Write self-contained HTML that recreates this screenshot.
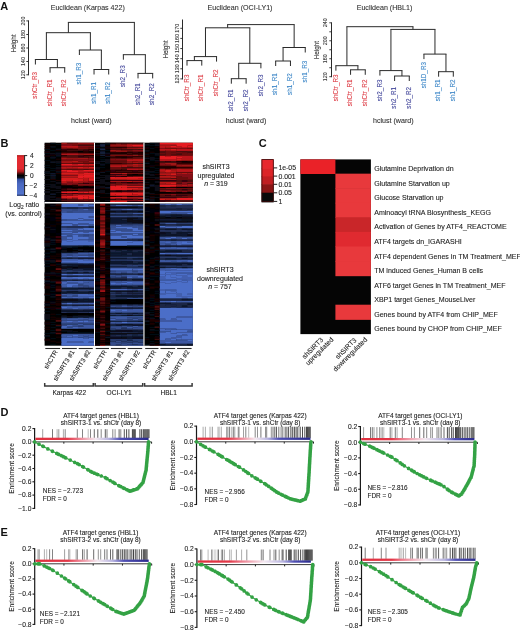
<!DOCTYPE html>
<html><head><meta charset="utf-8"><style>
html,body{margin:0;padding:0;background:#fff;}
svg{display:block;font-family:'Liberation Sans', Arial, Helvetica, sans-serif;}
</style></head><body>
<svg width="520" height="631" viewBox="0 0 520 631" shape-rendering="auto">
<line x1="28.5" y1="20.4" x2="28.5" y2="75.3" stroke="#2a2a2a" stroke-width="1"/>
<line x1="26.3" y1="20.9" x2="28.5" y2="20.9" stroke="#2a2a2a" stroke-width="0.9"/>
<text x="24.7" y="20.9" font-size="5.4" fill="#333" text-anchor="middle" stroke="#333" stroke-width="0.1" transform="rotate(-90 24.7 20.9)">200</text>
<line x1="26.3" y1="34.5" x2="28.5" y2="34.5" stroke="#2a2a2a" stroke-width="0.9"/>
<text x="24.7" y="34.5" font-size="5.4" fill="#333" text-anchor="middle" stroke="#333" stroke-width="0.1" transform="rotate(-90 24.7 34.5)">180</text>
<line x1="26.3" y1="48" x2="28.5" y2="48" stroke="#2a2a2a" stroke-width="0.9"/>
<text x="24.7" y="48" font-size="5.4" fill="#333" text-anchor="middle" stroke="#333" stroke-width="0.1" transform="rotate(-90 24.7 48)">160</text>
<line x1="26.3" y1="61.5" x2="28.5" y2="61.5" stroke="#2a2a2a" stroke-width="0.9"/>
<text x="24.7" y="61.5" font-size="5.4" fill="#333" text-anchor="middle" stroke="#333" stroke-width="0.1" transform="rotate(-90 24.7 61.5)">140</text>
<line x1="26.3" y1="74.8" x2="28.5" y2="74.8" stroke="#2a2a2a" stroke-width="0.9"/>
<text x="24.7" y="74.8" font-size="5.4" fill="#333" text-anchor="middle" stroke="#333" stroke-width="0.1" transform="rotate(-90 24.7 74.8)">120</text>
<text x="15.8" y="43.5" font-size="6.3" fill="#333" text-anchor="middle" stroke="#333" stroke-width="0.1" transform="rotate(-90 15.8 43.5)">Height</text>
<line x1="35.4" y1="59.5" x2="35.4" y2="64.5" stroke="#2a2a2a" stroke-width="1"/>
<text x="37.1" y="72.05" font-size="6.3" fill="#de3e46" text-anchor="end" stroke="#de3e46" stroke-width="0.1" transform="rotate(-90 37.1 72.05)">shCtr_R3</text>
<line x1="50.06" y1="67.7" x2="50.06" y2="72.7" stroke="#2a2a2a" stroke-width="1"/>
<text x="51.76" y="79.55" font-size="6.3" fill="#de3e46" text-anchor="end" stroke="#de3e46" stroke-width="0.1" transform="rotate(-90 51.76 79.55)">shCtr_R1</text>
<line x1="64.72" y1="67.7" x2="64.72" y2="72.7" stroke="#2a2a2a" stroke-width="1"/>
<text x="66.42" y="79.55" font-size="6.3" fill="#de3e46" text-anchor="end" stroke="#de3e46" stroke-width="0.1" transform="rotate(-90 66.42 79.55)">shCtr_R2</text>
<line x1="49.56" y1="67.7" x2="65.22" y2="67.7" stroke="#2a2a2a" stroke-width="1"/>
<line x1="57.39" y1="59.5" x2="57.39" y2="67.7" stroke="#2a2a2a" stroke-width="1"/>
<line x1="34.9" y1="59.5" x2="57.89" y2="59.5" stroke="#2a2a2a" stroke-width="1"/>
<line x1="46.39" y1="32.7" x2="46.39" y2="59.5" stroke="#2a2a2a" stroke-width="1"/>
<line x1="79.38" y1="50" x2="79.38" y2="55" stroke="#2a2a2a" stroke-width="1"/>
<text x="81.08" y="62.8" font-size="6.3" fill="#3f88c8" text-anchor="end" stroke="#3f88c8" stroke-width="0.1" transform="rotate(-90 81.08 62.8)">sh1_R3</text>
<line x1="94.04" y1="69.5" x2="94.04" y2="74.5" stroke="#2a2a2a" stroke-width="1"/>
<text x="95.74" y="82.05" font-size="6.3" fill="#3f88c8" text-anchor="end" stroke="#3f88c8" stroke-width="0.1" transform="rotate(-90 95.74 82.05)">sh1_R1</text>
<line x1="108.7" y1="69.5" x2="108.7" y2="74.5" stroke="#2a2a2a" stroke-width="1"/>
<text x="110.4" y="82.05" font-size="6.3" fill="#3f88c8" text-anchor="end" stroke="#3f88c8" stroke-width="0.1" transform="rotate(-90 110.4 82.05)">sh1_R2</text>
<line x1="93.54" y1="69.5" x2="109.2" y2="69.5" stroke="#2a2a2a" stroke-width="1"/>
<line x1="101.37" y1="50" x2="101.37" y2="69.5" stroke="#2a2a2a" stroke-width="1"/>
<line x1="78.88" y1="50" x2="101.87" y2="50" stroke="#2a2a2a" stroke-width="1"/>
<line x1="90.38" y1="32.7" x2="90.38" y2="50" stroke="#2a2a2a" stroke-width="1"/>
<line x1="45.89" y1="32.7" x2="90.88" y2="32.7" stroke="#2a2a2a" stroke-width="1"/>
<line x1="68.38" y1="22.4" x2="68.38" y2="32.7" stroke="#2a2a2a" stroke-width="1"/>
<line x1="123.36" y1="54.7" x2="123.36" y2="59.7" stroke="#2a2a2a" stroke-width="1"/>
<text x="125.06" y="65.3" font-size="6.3" fill="#44489c" text-anchor="end" stroke="#44489c" stroke-width="0.1" transform="rotate(-90 125.06 65.3)">sh2_R3</text>
<line x1="138.02" y1="73.4" x2="138.02" y2="78.4" stroke="#2a2a2a" stroke-width="1"/>
<text x="139.72" y="83.3" font-size="6.3" fill="#44489c" text-anchor="end" stroke="#44489c" stroke-width="0.1" transform="rotate(-90 139.72 83.3)">sh2_R1</text>
<line x1="152.68" y1="73.4" x2="152.68" y2="78.4" stroke="#2a2a2a" stroke-width="1"/>
<text x="154.38" y="83.3" font-size="6.3" fill="#44489c" text-anchor="end" stroke="#44489c" stroke-width="0.1" transform="rotate(-90 154.38 83.3)">sh2_R2</text>
<line x1="137.52" y1="73.4" x2="153.18" y2="73.4" stroke="#2a2a2a" stroke-width="1"/>
<line x1="145.35" y1="54.7" x2="145.35" y2="73.4" stroke="#2a2a2a" stroke-width="1"/>
<line x1="122.86" y1="54.7" x2="145.85" y2="54.7" stroke="#2a2a2a" stroke-width="1"/>
<line x1="134.36" y1="22.4" x2="134.36" y2="54.7" stroke="#2a2a2a" stroke-width="1"/>
<line x1="67.88" y1="22.4" x2="134.86" y2="22.4" stroke="#2a2a2a" stroke-width="1"/>
<text x="87.75" y="9.6" font-size="7.1" fill="#333" text-anchor="middle" stroke="#333" stroke-width="0.1">Euclidean (Karpas 422)</text>
<text x="91.4" y="122.8" font-size="7.1" fill="#333" text-anchor="middle" stroke="#333" stroke-width="0.1">hclust (ward)</text>
<line x1="182.5" y1="19.5" x2="182.5" y2="79.4" stroke="#2a2a2a" stroke-width="1"/>
<line x1="180.3" y1="78.9" x2="182.5" y2="78.9" stroke="#2a2a2a" stroke-width="0.9"/>
<text x="179" y="78.9" font-size="5.4" fill="#333" text-anchor="middle" stroke="#333" stroke-width="0.1" transform="rotate(-90 179 78.9)">120</text>
<line x1="180.3" y1="68.78" x2="182.5" y2="68.78" stroke="#2a2a2a" stroke-width="0.9"/>
<text x="179" y="68.78" font-size="5.4" fill="#333" text-anchor="middle" stroke="#333" stroke-width="0.1" transform="rotate(-90 179 68.78)">130</text>
<line x1="180.3" y1="58.66" x2="182.5" y2="58.66" stroke="#2a2a2a" stroke-width="0.9"/>
<text x="179" y="58.66" font-size="5.4" fill="#333" text-anchor="middle" stroke="#333" stroke-width="0.1" transform="rotate(-90 179 58.66)">140</text>
<line x1="180.3" y1="48.54" x2="182.5" y2="48.54" stroke="#2a2a2a" stroke-width="0.9"/>
<text x="179" y="48.54" font-size="5.4" fill="#333" text-anchor="middle" stroke="#333" stroke-width="0.1" transform="rotate(-90 179 48.54)">150</text>
<line x1="180.3" y1="38.42" x2="182.5" y2="38.42" stroke="#2a2a2a" stroke-width="0.9"/>
<text x="179" y="38.42" font-size="5.4" fill="#333" text-anchor="middle" stroke="#333" stroke-width="0.1" transform="rotate(-90 179 38.42)">160</text>
<line x1="180.3" y1="28.3" x2="182.5" y2="28.3" stroke="#2a2a2a" stroke-width="0.9"/>
<text x="179" y="28.3" font-size="5.4" fill="#333" text-anchor="middle" stroke="#333" stroke-width="0.1" transform="rotate(-90 179 28.3)">170</text>
<text x="168.4" y="49.5" font-size="6.3" fill="#333" text-anchor="middle" stroke="#333" stroke-width="0.1" transform="rotate(-90 168.4 49.5)">Height</text>
<line x1="187" y1="60.6" x2="187" y2="65.6" stroke="#2a2a2a" stroke-width="1"/>
<text x="188.7" y="74.55" font-size="6.3" fill="#de3e46" text-anchor="end" stroke="#de3e46" stroke-width="0.1" transform="rotate(-90 188.7 74.55)">shCtr_R3</text>
<line x1="201.78" y1="60.6" x2="201.78" y2="65.6" stroke="#2a2a2a" stroke-width="1"/>
<text x="203.48" y="74.55" font-size="6.3" fill="#de3e46" text-anchor="end" stroke="#de3e46" stroke-width="0.1" transform="rotate(-90 203.48 74.55)">shCtr_R1</text>
<line x1="186.5" y1="60.6" x2="202.28" y2="60.6" stroke="#2a2a2a" stroke-width="1"/>
<line x1="194.39" y1="56.6" x2="194.39" y2="60.6" stroke="#2a2a2a" stroke-width="1"/>
<line x1="216.56" y1="56.6" x2="216.56" y2="61.6" stroke="#2a2a2a" stroke-width="1"/>
<text x="218.26" y="69.55" font-size="6.3" fill="#de3e46" text-anchor="end" stroke="#de3e46" stroke-width="0.1" transform="rotate(-90 218.26 69.55)">shCtr_R2</text>
<line x1="193.89" y1="56.6" x2="217.06" y2="56.6" stroke="#2a2a2a" stroke-width="1"/>
<line x1="205.47" y1="27.8" x2="205.47" y2="56.6" stroke="#2a2a2a" stroke-width="1"/>
<line x1="231.34" y1="78.7" x2="231.34" y2="83.7" stroke="#2a2a2a" stroke-width="1"/>
<text x="233.04" y="89.55" font-size="6.3" fill="#44489c" text-anchor="end" stroke="#44489c" stroke-width="0.1" transform="rotate(-90 233.04 89.55)">sh2_R1</text>
<line x1="246.12" y1="78.7" x2="246.12" y2="83.7" stroke="#2a2a2a" stroke-width="1"/>
<text x="247.82" y="89.55" font-size="6.3" fill="#44489c" text-anchor="end" stroke="#44489c" stroke-width="0.1" transform="rotate(-90 247.82 89.55)">sh2_R2</text>
<line x1="230.84" y1="78.7" x2="246.62" y2="78.7" stroke="#2a2a2a" stroke-width="1"/>
<line x1="238.73" y1="63.3" x2="238.73" y2="78.7" stroke="#2a2a2a" stroke-width="1"/>
<line x1="260.9" y1="63.3" x2="260.9" y2="68.3" stroke="#2a2a2a" stroke-width="1"/>
<text x="262.6" y="74.55" font-size="6.3" fill="#44489c" text-anchor="end" stroke="#44489c" stroke-width="0.1" transform="rotate(-90 262.6 74.55)">sh2_R3</text>
<line x1="238.23" y1="63.3" x2="261.4" y2="63.3" stroke="#2a2a2a" stroke-width="1"/>
<line x1="249.81" y1="27.8" x2="249.81" y2="63.3" stroke="#2a2a2a" stroke-width="1"/>
<line x1="204.97" y1="27.8" x2="250.31" y2="27.8" stroke="#2a2a2a" stroke-width="1"/>
<line x1="227.64" y1="24.6" x2="227.64" y2="27.8" stroke="#2a2a2a" stroke-width="1"/>
<line x1="275.68" y1="61" x2="275.68" y2="66" stroke="#2a2a2a" stroke-width="1"/>
<text x="277.38" y="73.3" font-size="6.3" fill="#3f88c8" text-anchor="end" stroke="#3f88c8" stroke-width="0.1" transform="rotate(-90 277.38 73.3)">sh1_R1</text>
<line x1="290.46" y1="61" x2="290.46" y2="66" stroke="#2a2a2a" stroke-width="1"/>
<text x="292.16" y="73.3" font-size="6.3" fill="#3f88c8" text-anchor="end" stroke="#3f88c8" stroke-width="0.1" transform="rotate(-90 292.16 73.3)">sh1_R2</text>
<line x1="275.18" y1="61" x2="290.96" y2="61" stroke="#2a2a2a" stroke-width="1"/>
<line x1="283.07" y1="47.5" x2="283.07" y2="61" stroke="#2a2a2a" stroke-width="1"/>
<line x1="305.24" y1="47.5" x2="305.24" y2="52.5" stroke="#2a2a2a" stroke-width="1"/>
<text x="306.94" y="60.8" font-size="6.3" fill="#3f88c8" text-anchor="end" stroke="#3f88c8" stroke-width="0.1" transform="rotate(-90 306.94 60.8)">sh1_R3</text>
<line x1="282.57" y1="47.5" x2="305.74" y2="47.5" stroke="#2a2a2a" stroke-width="1"/>
<line x1="294.15" y1="24.6" x2="294.15" y2="47.5" stroke="#2a2a2a" stroke-width="1"/>
<line x1="227.14" y1="24.6" x2="294.65" y2="24.6" stroke="#2a2a2a" stroke-width="1"/>
<text x="240" y="9.6" font-size="7.1" fill="#333" text-anchor="middle" stroke="#333" stroke-width="0.1">Euclidean (OCI-LY1)</text>
<text x="246" y="122.8" font-size="7.1" fill="#333" text-anchor="middle" stroke="#333" stroke-width="0.1">hclust (ward)</text>
<line x1="331.5" y1="22.32" x2="331.5" y2="77.2" stroke="#2a2a2a" stroke-width="1"/>
<line x1="329.3" y1="76.7" x2="331.5" y2="76.7" stroke="#2a2a2a" stroke-width="0.9"/>
<text x="326.8" y="76.7" font-size="5.4" fill="#333" text-anchor="middle" stroke="#333" stroke-width="0.1" transform="rotate(-90 326.8 76.7)">120</text>
<line x1="329.3" y1="58.74" x2="331.5" y2="58.74" stroke="#2a2a2a" stroke-width="0.9"/>
<text x="326.8" y="58.74" font-size="5.4" fill="#333" text-anchor="middle" stroke="#333" stroke-width="0.1" transform="rotate(-90 326.8 58.74)">160</text>
<line x1="329.3" y1="40.78" x2="331.5" y2="40.78" stroke="#2a2a2a" stroke-width="0.9"/>
<text x="326.8" y="40.78" font-size="5.4" fill="#333" text-anchor="middle" stroke="#333" stroke-width="0.1" transform="rotate(-90 326.8 40.78)">200</text>
<line x1="329.3" y1="22.82" x2="331.5" y2="22.82" stroke="#2a2a2a" stroke-width="0.9"/>
<text x="326.8" y="22.82" font-size="5.4" fill="#333" text-anchor="middle" stroke="#333" stroke-width="0.1" transform="rotate(-90 326.8 22.82)">240</text>
<line x1="329.3" y1="67.72" x2="331.5" y2="67.72" stroke="#2a2a2a" stroke-width="0.9"/>
<line x1="329.3" y1="49.76" x2="331.5" y2="49.76" stroke="#2a2a2a" stroke-width="0.9"/>
<line x1="329.3" y1="31.8" x2="331.5" y2="31.8" stroke="#2a2a2a" stroke-width="0.9"/>
<text x="319" y="50.2" font-size="6.3" fill="#333" text-anchor="middle" stroke="#333" stroke-width="0.1" transform="rotate(-90 319 50.2)">Height</text>
<line x1="335.9" y1="65.7" x2="335.9" y2="70.7" stroke="#2a2a2a" stroke-width="1"/>
<text x="337.6" y="74.55" font-size="6.3" fill="#de3e46" text-anchor="end" stroke="#de3e46" stroke-width="0.1" transform="rotate(-90 337.6 74.55)">shCtr_R3</text>
<line x1="350.57" y1="69.8" x2="350.57" y2="74.8" stroke="#2a2a2a" stroke-width="1"/>
<text x="352.27" y="79.55" font-size="6.3" fill="#de3e46" text-anchor="end" stroke="#de3e46" stroke-width="0.1" transform="rotate(-90 352.27 79.55)">shCtr_R1</text>
<line x1="365.25" y1="69.8" x2="365.25" y2="74.8" stroke="#2a2a2a" stroke-width="1"/>
<text x="366.95" y="79.55" font-size="6.3" fill="#de3e46" text-anchor="end" stroke="#de3e46" stroke-width="0.1" transform="rotate(-90 366.95 79.55)">shCtr_R2</text>
<line x1="350.07" y1="69.8" x2="365.75" y2="69.8" stroke="#2a2a2a" stroke-width="1"/>
<line x1="357.91" y1="65.7" x2="357.91" y2="69.8" stroke="#2a2a2a" stroke-width="1"/>
<line x1="335.4" y1="65.7" x2="358.41" y2="65.7" stroke="#2a2a2a" stroke-width="1"/>
<line x1="346.91" y1="26.7" x2="346.91" y2="65.7" stroke="#2a2a2a" stroke-width="1"/>
<line x1="379.92" y1="70.6" x2="379.92" y2="75.6" stroke="#2a2a2a" stroke-width="1"/>
<text x="381.62" y="79.55" font-size="6.3" fill="#44489c" text-anchor="end" stroke="#44489c" stroke-width="0.1" transform="rotate(-90 381.62 79.55)">sh2_R3</text>
<line x1="394.6" y1="76" x2="394.6" y2="81" stroke="#2a2a2a" stroke-width="1"/>
<text x="396.3" y="87.05" font-size="6.3" fill="#44489c" text-anchor="end" stroke="#44489c" stroke-width="0.1" transform="rotate(-90 396.3 87.05)">sh2_R1</text>
<line x1="409.27" y1="76" x2="409.27" y2="81" stroke="#2a2a2a" stroke-width="1"/>
<text x="410.97" y="87.05" font-size="6.3" fill="#44489c" text-anchor="end" stroke="#44489c" stroke-width="0.1" transform="rotate(-90 410.97 87.05)">sh2_R2</text>
<line x1="394.1" y1="76" x2="409.77" y2="76" stroke="#2a2a2a" stroke-width="1"/>
<line x1="401.94" y1="70.6" x2="401.94" y2="76" stroke="#2a2a2a" stroke-width="1"/>
<line x1="379.42" y1="70.6" x2="402.44" y2="70.6" stroke="#2a2a2a" stroke-width="1"/>
<line x1="390.93" y1="29.4" x2="390.93" y2="70.6" stroke="#2a2a2a" stroke-width="1"/>
<line x1="423.95" y1="54.1" x2="423.95" y2="59.1" stroke="#2a2a2a" stroke-width="1"/>
<text x="425.65" y="62.05" font-size="6.3" fill="#3f88c8" text-anchor="end" stroke="#3f88c8" stroke-width="0.1" transform="rotate(-90 425.65 62.05)">sh1D_R3</text>
<line x1="438.62" y1="71.7" x2="438.62" y2="76.7" stroke="#2a2a2a" stroke-width="1"/>
<text x="440.32" y="79.55" font-size="6.3" fill="#3f88c8" text-anchor="end" stroke="#3f88c8" stroke-width="0.1" transform="rotate(-90 440.32 79.55)">sh1_R1</text>
<line x1="453.3" y1="71.7" x2="453.3" y2="76.7" stroke="#2a2a2a" stroke-width="1"/>
<text x="455" y="79.55" font-size="6.3" fill="#3f88c8" text-anchor="end" stroke="#3f88c8" stroke-width="0.1" transform="rotate(-90 455 79.55)">sh1_R2</text>
<line x1="438.12" y1="71.7" x2="453.8" y2="71.7" stroke="#2a2a2a" stroke-width="1"/>
<line x1="445.96" y1="54.1" x2="445.96" y2="71.7" stroke="#2a2a2a" stroke-width="1"/>
<line x1="423.45" y1="54.1" x2="446.46" y2="54.1" stroke="#2a2a2a" stroke-width="1"/>
<line x1="434.96" y1="29.4" x2="434.96" y2="54.1" stroke="#2a2a2a" stroke-width="1"/>
<line x1="390.43" y1="29.4" x2="435.46" y2="29.4" stroke="#2a2a2a" stroke-width="1"/>
<line x1="412.94" y1="26.7" x2="412.94" y2="29.4" stroke="#2a2a2a" stroke-width="1"/>
<line x1="346.41" y1="26.7" x2="413.44" y2="26.7" stroke="#2a2a2a" stroke-width="1"/>
<text x="384.5" y="9.6" font-size="7.1" fill="#333" text-anchor="middle" stroke="#333" stroke-width="0.1">Euclidean (HBL1)</text>
<text x="393.3" y="122.8" font-size="7.1" fill="#333" text-anchor="middle" stroke="#333" stroke-width="0.1">hclust (ward)</text>
<text x="0.3" y="9.7" font-size="11" fill="#111" font-weight="bold">A</text>
<text x="0.5" y="147.2" font-size="11" fill="#111" font-weight="bold">B</text>
<defs><linearGradient id="cbB" x1="0" y1="0" x2="0" y2="1">
<stop offset="0" stop-color="#a81818"/><stop offset="0.05" stop-color="#e42a30"/>
<stop offset="0.33" stop-color="#e02a30"/><stop offset="0.40" stop-color="#b01c20"/>
<stop offset="0.46" stop-color="#3a0a0a"/><stop offset="0.50" stop-color="#000"/>
<stop offset="0.55" stop-color="#0a1020"/><stop offset="0.60" stop-color="#3552a4"/>
<stop offset="0.70" stop-color="#4a68c0"/><stop offset="0.95" stop-color="#5474cc"/>
<stop offset="1" stop-color="#203060"/></linearGradient></defs>
<rect x="17" y="155.1" width="7.6" height="40.8" fill="url(#cbB)"/>
<line x1="24.6" y1="155.1" x2="24.6" y2="195.9" stroke="#222" stroke-width="1"/>
<line x1="24.6" y1="155.6" x2="27.2" y2="155.6" stroke="#222" stroke-width="1"/>
<text x="30" y="157.9" font-size="6.6" fill="#222" stroke="#222" stroke-width="0.1">4</text>
<line x1="24.6" y1="165.7" x2="27.2" y2="165.7" stroke="#222" stroke-width="1"/>
<text x="30" y="168" font-size="6.6" fill="#222" stroke="#222" stroke-width="0.1">2</text>
<line x1="24.6" y1="175.6" x2="27.2" y2="175.6" stroke="#222" stroke-width="1"/>
<text x="30" y="177.9" font-size="6.6" fill="#222" stroke="#222" stroke-width="0.1">0</text>
<line x1="24.6" y1="185.6" x2="27.2" y2="185.6" stroke="#222" stroke-width="1"/>
<text x="29.6" y="187.9" font-size="6.6" fill="#222" stroke="#222" stroke-width="0.1">−2</text>
<line x1="24.6" y1="195.5" x2="27.2" y2="195.5" stroke="#222" stroke-width="1"/>
<text x="29.6" y="197.8" font-size="6.6" fill="#222" stroke="#222" stroke-width="0.1">−4</text>
<text x="9.3" y="206.9" font-size="7" fill="#222" stroke="#222" stroke-width="0.1">Log<tspan font-size="4.8" dy="1.6">2</tspan><tspan dy="-1.6"> ratio</tspan></text>
<text x="5.3" y="215.7" font-size="7" fill="#222" stroke="#222" stroke-width="0.1">(vs. control)</text>
<rect x="44.6" y="142.7" width="148.2" height="203" fill="#000"/>
<g filter="url(#hb)">
<path fill="#4c6ec8" d="M61.3 203.5h32.8v1.05h-32.8zM61.3 204.5h16.8v1.05h-16.8zM83.3 204.5h5.4v1.05h-5.4zM61.3 205.5h27.4v1.05h-27.4zM61.3 206.5h32.8v1.05h-32.8zM61.3 208.5h16.8v1.05h-16.8zM61.3 210.5h16.8v1.05h-16.8zM83.3 210.5h10.7v1.05h-10.7zM61.3 212.5h32.8v1.05h-32.8zM61.3 213.5h32.8v1.05h-32.8zM61.3 214.5h32.8v1.05h-32.8zM61.3 215.5h32.8v1.05h-32.8zM61.3 216.5h27.4v1.05h-27.4zM61.3 217.5h32.8v1.05h-32.8zM61.3 218.5h16.8v1.05h-16.8zM83.3 218.5h10.7v1.05h-10.7zM61.3 220.5h32.8v1.05h-32.8zM61.3 221.5h32.8v1.05h-32.8zM61.3 222.5h32.8v1.05h-32.8zM72.4 223.5h5.6v1.05h-5.6zM88.7 223.5h5.4v1.05h-5.4zM78.0 224.5h10.7v1.05h-10.7zM78.0 225.5h16.1v1.05h-16.1zM61.3 227.5h32.8v1.05h-32.8zM83.3 228.5h10.7v1.05h-10.7zM61.3 229.5h16.8v1.05h-16.8zM83.3 229.5h10.7v1.05h-10.7zM61.3 230.5h11.2v1.05h-11.2zM78.0 231.5h5.4v1.05h-5.4zM88.7 231.5h5.4v1.05h-5.4zM72.4 232.5h21.6v1.05h-21.6zM61.3 233.5h32.8v1.05h-32.8zM61.3 236.5h11.2v1.05h-11.2zM78.0 236.5h16.1v1.05h-16.1zM66.9 237.5h5.6v1.05h-5.6zM78.0 237.5h10.7v1.05h-10.7zM61.3 238.5h11.2v1.05h-11.2zM78.0 238.5h16.1v1.05h-16.1zM61.3 240.6h5.6v1.05h-5.6zM72.4 240.6h16.3v1.05h-16.3zM61.3 241.6h32.8v1.05h-32.8zM61.3 242.6h32.8v1.05h-32.8zM61.3 243.6h32.8v1.05h-32.8zM61.3 244.6h32.8v1.05h-32.8zM78.0 259.6h5.4v1.05h-5.4zM61.3 260.6h32.8v1.05h-32.8zM61.3 261.6h32.8v1.05h-32.8zM78.0 262.6h16.1v1.05h-16.1zM61.3 270.6h32.8v1.05h-32.8zM78.0 273.6h5.4v1.05h-5.4zM88.7 273.6h5.4v1.05h-5.4zM78.0 274.6h10.7v1.05h-10.7zM61.3 276.6h5.6v1.05h-5.6zM78.0 276.6h16.1v1.05h-16.1zM61.3 277.6h11.2v1.05h-11.2zM78.0 277.6h16.1v1.05h-16.1zM72.4 278.6h10.9v1.05h-10.9zM88.7 278.6h5.4v1.05h-5.4zM61.3 286.6h5.6v1.05h-5.6zM72.4 286.6h5.6v1.05h-5.6zM83.3 286.6h5.4v1.05h-5.4zM66.9 289.6h27.2v1.05h-27.2zM78.0 296.6h5.4v1.05h-5.4zM88.7 302.6h5.4v1.05h-5.4zM61.3 303.6h5.6v1.05h-5.6zM72.4 303.6h5.6v1.05h-5.6zM61.3 320.7h22.1v1.05h-22.1zM88.7 320.7h5.4v1.05h-5.4zM66.9 321.7h5.6v1.05h-5.6zM78.0 321.7h5.4v1.05h-5.4zM61.3 334.7h5.6v1.05h-5.6zM72.4 334.7h5.6v1.05h-5.6zM83.3 334.7h5.4v1.05h-5.4zM72.4 335.7h5.6v1.05h-5.6zM61.3 337.7h22.1v1.05h-22.1zM88.7 337.7h5.4v1.05h-5.4zM61.3 338.7h32.8v1.05h-32.8zM61.3 339.7h32.8v1.05h-32.8zM61.3 340.7h32.8v1.05h-32.8zM61.3 341.7h5.6v1.05h-5.6zM83.3 341.7h5.4v1.05h-5.4zM61.3 342.7h32.8v1.05h-32.8zM61.3 343.7h32.8v1.05h-32.8zM61.3 344.7h32.8v1.05h-32.8zM110.2 215.5h16.8v1.05h-16.8zM110.2 228.5h16.8v1.05h-16.8zM137.9 228.5h5.5v1.05h-5.5zM115.8 230.5h5.6v1.05h-5.6zM110.2 231.5h33.2v1.05h-33.2zM110.2 232.5h33.2v1.05h-33.2zM121.4 234.5h11.1v1.05h-11.1zM110.2 235.5h33.2v1.05h-33.2zM110.2 236.5h11.2v1.05h-11.2zM127.0 236.5h16.5v1.05h-16.5zM110.2 237.5h33.2v1.05h-33.2zM110.2 238.5h16.8v1.05h-16.8zM110.2 240.6h16.8v1.05h-16.8zM110.2 241.6h16.8v1.05h-16.8zM132.5 241.6h11.0v1.05h-11.0zM110.2 242.6h33.2v1.05h-33.2zM110.2 243.6h33.2v1.05h-33.2zM110.2 244.6h33.2v1.05h-33.2zM127.0 256.6h16.5v1.05h-16.5zM137.9 259.6h5.5v1.05h-5.5zM110.2 268.6h16.8v1.05h-16.8zM110.2 269.6h16.8v1.05h-16.8zM121.4 271.6h5.6v1.05h-5.6zM110.2 282.6h16.8v1.05h-16.8zM132.5 282.6h11.0v1.05h-11.0zM110.2 283.6h5.6v1.05h-5.6zM121.4 283.6h11.1v1.05h-11.1zM110.2 309.6h5.6v1.05h-5.6zM121.4 309.6h5.6v1.05h-5.6zM110.2 310.7h33.2v1.05h-33.2zM110.2 322.7h5.6v1.05h-5.6zM181.9 206.5h11.0v1.05h-11.0zM159.7 210.5h33.2v1.05h-33.2zM159.7 211.5h33.2v1.05h-33.2zM159.7 212.5h11.2v1.05h-11.2zM176.4 225.5h5.5v1.05h-5.5zM159.7 230.5h33.2v1.05h-33.2zM170.8 236.5h5.6v1.05h-5.6zM159.7 237.5h16.8v1.05h-16.8zM187.3 237.5h5.5v1.05h-5.5zM165.3 238.5h5.6v1.05h-5.6zM165.3 240.6h27.6v1.05h-27.6zM159.7 252.6h33.2v1.05h-33.2zM159.7 253.6h5.6v1.05h-5.6zM176.4 253.6h16.5v1.05h-16.5zM159.7 270.6h33.2v1.05h-33.2zM159.7 271.6h33.2v1.05h-33.2zM159.7 272.6h5.6v1.05h-5.6zM159.7 273.6h5.6v1.05h-5.6zM170.8 273.6h16.6v1.05h-16.6zM165.3 274.6h5.6v1.05h-5.6zM176.4 274.6h16.5v1.05h-16.5zM165.3 275.6h5.6v1.05h-5.6zM187.3 275.6h5.5v1.05h-5.5zM159.7 276.6h11.2v1.05h-11.2zM181.9 276.6h11.0v1.05h-11.0zM165.3 277.6h11.2v1.05h-11.2zM159.7 278.6h33.2v1.05h-33.2zM187.3 280.6h5.5v1.05h-5.5zM176.4 281.6h5.5v1.05h-5.5zM187.3 281.6h5.5v1.05h-5.5zM159.7 282.6h5.6v1.05h-5.6zM170.8 282.6h22.0v1.05h-22.0zM159.7 283.6h33.2v1.05h-33.2zM159.7 284.6h33.2v1.05h-33.2zM159.7 285.6h33.2v1.05h-33.2zM159.7 286.6h33.2v1.05h-33.2zM159.7 287.6h33.2v1.05h-33.2zM159.7 288.6h33.2v1.05h-33.2zM176.4 289.6h16.5v1.05h-16.5zM159.7 290.6h5.6v1.05h-5.6zM170.8 290.6h22.0v1.05h-22.0zM159.7 291.6h5.6v1.05h-5.6zM176.4 291.6h16.5v1.05h-16.5zM159.7 292.6h5.6v1.05h-5.6zM176.4 292.6h16.5v1.05h-16.5zM165.3 293.6h11.2v1.05h-11.2zM181.9 293.6h5.5v1.05h-5.5zM159.7 294.6h33.2v1.05h-33.2zM159.7 295.6h16.8v1.05h-16.8zM181.9 295.6h11.0v1.05h-11.0zM159.7 296.6h22.2v1.05h-22.2zM159.7 297.6h27.7v1.05h-27.7zM165.3 300.6h11.2v1.05h-11.2zM159.7 301.6h5.6v1.05h-5.6zM170.8 301.6h5.6v1.05h-5.6zM159.7 307.6h33.2v1.05h-33.2zM159.7 308.6h33.2v1.05h-33.2zM159.7 309.6h33.2v1.05h-33.2zM159.7 310.7h33.2v1.05h-33.2zM159.7 311.7h33.2v1.05h-33.2zM159.7 312.7h33.2v1.05h-33.2zM159.7 313.7h33.2v1.05h-33.2zM159.7 314.7h33.2v1.05h-33.2zM159.7 315.7h33.2v1.05h-33.2zM159.7 316.7h16.8v1.05h-16.8zM159.7 317.7h33.2v1.05h-33.2zM165.3 318.7h5.6v1.05h-5.6zM176.4 318.7h16.5v1.05h-16.5zM159.7 319.7h33.2v1.05h-33.2zM181.9 320.7h11.0v1.05h-11.0zM159.7 321.7h33.2v1.05h-33.2zM159.7 322.7h33.2v1.05h-33.2zM159.7 323.7h33.2v1.05h-33.2zM159.7 324.7h33.2v1.05h-33.2zM159.7 325.7h33.2v1.05h-33.2zM159.7 326.7h33.2v1.05h-33.2zM159.7 327.7h33.2v1.05h-33.2zM176.4 328.7h16.5v1.05h-16.5zM165.3 331.7h5.6v1.05h-5.6zM159.7 332.7h11.2v1.05h-11.2zM176.4 332.7h16.5v1.05h-16.5zM159.7 333.7h33.2v1.05h-33.2zM159.7 334.7h22.2v1.05h-22.2zM187.3 334.7h5.5v1.05h-5.5zM159.7 335.7h16.8v1.05h-16.8zM181.9 335.7h11.0v1.05h-11.0zM159.7 336.7h33.2v1.05h-33.2zM159.7 337.7h11.2v1.05h-11.2zM181.9 337.7h11.0v1.05h-11.0zM159.7 338.7h5.6v1.05h-5.6zM170.8 338.7h5.6v1.05h-5.6zM181.9 338.7h11.0v1.05h-11.0zM159.7 339.7h16.8v1.05h-16.8zM159.7 341.7h33.2v1.05h-33.2zM165.3 342.7h5.6v1.05h-5.6z"/>
<path fill="#4c6ec8" d="M78.0 204.5h5.4v1.05h-5.4zM88.7 204.5h5.4v1.05h-5.4zM88.7 205.5h5.4v1.05h-5.4zM78.0 208.5h5.4v1.05h-5.4zM88.7 208.5h5.4v1.05h-5.4zM78.0 210.5h5.4v1.05h-5.4zM61.3 211.5h5.6v1.05h-5.6zM88.7 216.5h5.4v1.05h-5.4zM78.0 218.5h5.4v1.05h-5.4zM66.9 219.5h27.2v1.05h-27.2zM61.3 223.5h11.2v1.05h-11.2zM78.0 223.5h10.7v1.05h-10.7zM61.3 224.5h11.2v1.05h-11.2zM88.7 224.5h5.4v1.05h-5.4zM61.3 225.5h16.8v1.05h-16.8zM61.3 228.5h5.6v1.05h-5.6zM78.0 228.5h5.4v1.05h-5.4zM78.0 229.5h5.4v1.05h-5.4zM72.4 230.5h5.6v1.05h-5.6zM61.3 231.5h11.2v1.05h-11.2zM83.3 231.5h5.4v1.05h-5.4zM61.3 232.5h11.2v1.05h-11.2zM61.3 234.5h16.8v1.05h-16.8zM61.3 235.5h5.6v1.05h-5.6zM72.4 235.5h10.9v1.05h-10.9zM88.7 235.5h5.4v1.05h-5.4zM72.4 236.5h5.6v1.05h-5.6zM61.3 237.5h5.6v1.05h-5.6zM72.4 237.5h5.6v1.05h-5.6zM88.7 237.5h5.4v1.05h-5.4zM72.4 238.5h5.6v1.05h-5.6zM61.3 239.6h27.4v1.05h-27.4zM66.9 240.6h5.6v1.05h-5.6zM88.7 240.6h5.4v1.05h-5.4zM88.7 252.6h5.4v1.05h-5.4zM78.0 253.6h10.7v1.05h-10.7zM72.4 255.6h16.3v1.05h-16.3zM61.3 256.6h5.6v1.05h-5.6zM78.0 256.6h16.1v1.05h-16.1zM61.3 259.6h16.8v1.05h-16.8zM83.3 259.6h10.7v1.05h-10.7zM61.3 273.6h5.6v1.05h-5.6zM72.4 273.6h5.6v1.05h-5.6zM83.3 273.6h5.4v1.05h-5.4zM61.3 274.6h16.8v1.05h-16.8zM88.7 274.6h5.4v1.05h-5.4zM66.9 276.6h11.2v1.05h-11.2zM72.4 277.6h5.6v1.05h-5.6zM61.3 278.6h11.2v1.05h-11.2zM83.3 278.6h5.4v1.05h-5.4zM83.3 280.6h10.7v1.05h-10.7zM66.9 283.6h11.2v1.05h-11.2zM61.3 284.6h16.8v1.05h-16.8zM66.9 285.6h5.6v1.05h-5.6zM66.9 286.6h5.6v1.05h-5.6zM78.0 286.6h5.4v1.05h-5.4zM88.7 286.6h5.4v1.05h-5.4zM61.3 289.6h5.6v1.05h-5.6zM88.7 293.6h5.4v1.05h-5.4zM83.3 296.6h10.7v1.05h-10.7zM66.9 297.6h5.6v1.05h-5.6zM78.0 297.6h5.4v1.05h-5.4zM88.7 297.6h5.4v1.05h-5.4zM66.9 302.6h5.6v1.05h-5.6zM83.3 302.6h5.4v1.05h-5.4zM66.9 303.6h5.6v1.05h-5.6zM78.0 303.6h5.4v1.05h-5.4zM88.7 303.6h5.4v1.05h-5.4zM61.3 306.6h27.4v1.05h-27.4zM61.3 307.6h5.6v1.05h-5.6zM88.7 307.6h5.4v1.05h-5.4zM78.0 317.7h10.7v1.05h-10.7zM83.3 320.7h5.4v1.05h-5.4zM61.3 321.7h5.6v1.05h-5.6zM72.4 321.7h5.6v1.05h-5.6zM83.3 321.7h10.7v1.05h-10.7zM66.9 334.7h5.6v1.05h-5.6zM78.0 334.7h5.4v1.05h-5.4zM88.7 334.7h5.4v1.05h-5.4zM61.3 335.7h5.6v1.05h-5.6zM72.4 336.7h5.6v1.05h-5.6zM83.3 337.7h5.4v1.05h-5.4zM66.9 341.7h16.5v1.05h-16.5zM88.7 341.7h5.4v1.05h-5.4zM132.5 209.5h11.0v1.05h-11.0zM115.8 213.5h11.3v1.05h-11.3zM127.0 215.5h16.5v1.05h-16.5zM110.2 225.5h5.6v1.05h-5.6zM132.5 225.5h5.5v1.05h-5.5zM115.8 226.5h16.7v1.05h-16.7zM137.9 226.5h5.5v1.05h-5.5zM110.2 227.5h27.8v1.05h-27.8zM127.0 228.5h11.0v1.05h-11.0zM110.2 229.5h5.6v1.05h-5.6zM132.5 229.5h11.0v1.05h-11.0zM110.2 230.5h5.6v1.05h-5.6zM121.4 230.5h22.1v1.05h-22.1zM132.5 233.5h5.5v1.05h-5.5zM110.2 234.5h11.2v1.05h-11.2zM132.5 234.5h11.0v1.05h-11.0zM121.4 236.5h5.6v1.05h-5.6zM127.0 238.5h5.5v1.05h-5.5zM127.0 240.6h16.5v1.05h-16.5zM127.0 241.6h5.5v1.05h-5.5zM110.2 259.6h5.6v1.05h-5.6zM127.0 259.6h11.0v1.05h-11.0zM132.5 264.6h11.0v1.05h-11.0zM110.2 267.6h16.8v1.05h-16.8zM127.0 268.6h5.5v1.05h-5.5zM137.9 268.6h5.5v1.05h-5.5zM127.0 269.6h5.5v1.05h-5.5zM137.9 269.6h5.5v1.05h-5.5zM110.2 271.6h11.2v1.05h-11.2zM115.8 275.6h5.6v1.05h-5.6zM127.0 275.6h16.5v1.05h-16.5zM137.9 276.6h5.5v1.05h-5.5zM127.0 281.6h16.5v1.05h-16.5zM127.0 282.6h5.5v1.05h-5.5zM115.8 283.6h5.6v1.05h-5.6zM132.5 283.6h11.0v1.05h-11.0zM115.8 309.6h5.6v1.05h-5.6zM127.0 309.6h16.5v1.05h-16.5zM110.2 311.7h5.6v1.05h-5.6zM121.4 311.7h5.6v1.05h-5.6zM110.2 321.7h5.6v1.05h-5.6zM121.4 321.7h22.1v1.05h-22.1zM115.8 322.7h11.3v1.05h-11.3zM132.5 342.7h5.5v1.05h-5.5zM159.7 203.5h5.6v1.05h-5.6zM176.4 203.5h5.5v1.05h-5.5zM187.3 203.5h5.5v1.05h-5.5zM170.8 204.5h16.6v1.05h-16.6zM165.3 206.5h16.7v1.05h-16.7zM170.8 212.5h22.0v1.05h-22.0zM187.3 213.5h5.5v1.05h-5.5zM159.7 225.5h16.8v1.05h-16.8zM181.9 225.5h11.0v1.05h-11.0zM159.7 226.5h5.6v1.05h-5.6zM176.4 226.5h16.5v1.05h-16.5zM176.4 227.5h16.5v1.05h-16.5zM159.7 236.5h11.2v1.05h-11.2zM176.4 236.5h5.5v1.05h-5.5zM187.3 236.5h5.5v1.05h-5.5zM181.9 237.5h5.5v1.05h-5.5zM159.7 238.5h5.6v1.05h-5.6zM176.4 238.5h11.0v1.05h-11.0zM159.7 240.6h5.6v1.05h-5.6zM181.9 241.6h5.5v1.05h-5.5zM159.7 242.6h5.6v1.05h-5.6zM181.9 242.6h11.0v1.05h-11.0zM181.9 243.6h11.0v1.05h-11.0zM165.3 247.6h11.2v1.05h-11.2zM187.3 248.6h5.5v1.05h-5.5zM165.3 253.6h11.2v1.05h-11.2zM181.9 256.6h5.5v1.05h-5.5zM181.9 259.6h5.5v1.05h-5.5zM176.4 260.6h5.5v1.05h-5.5zM165.3 265.6h5.6v1.05h-5.6zM176.4 265.6h16.5v1.05h-16.5zM165.3 268.6h5.6v1.05h-5.6zM176.4 268.6h16.5v1.05h-16.5zM159.7 269.6h5.6v1.05h-5.6zM170.8 269.6h22.0v1.05h-22.0zM165.3 272.6h11.2v1.05h-11.2zM165.3 273.6h5.6v1.05h-5.6zM187.3 273.6h5.5v1.05h-5.5zM159.7 274.6h5.6v1.05h-5.6zM170.8 274.6h5.6v1.05h-5.6zM159.7 275.6h5.6v1.05h-5.6zM170.8 275.6h16.6v1.05h-16.6zM170.8 276.6h11.1v1.05h-11.1zM159.7 277.6h5.6v1.05h-5.6zM176.4 277.6h16.5v1.05h-16.5zM176.4 279.6h5.5v1.05h-5.5zM187.3 279.6h5.5v1.05h-5.5zM159.7 280.6h27.7v1.05h-27.7zM159.7 281.6h16.8v1.05h-16.8zM181.9 281.6h5.5v1.05h-5.5zM165.3 282.6h5.6v1.05h-5.6zM159.7 289.6h5.6v1.05h-5.6zM165.3 290.6h5.6v1.05h-5.6zM165.3 291.6h11.2v1.05h-11.2zM165.3 292.6h11.2v1.05h-11.2zM159.7 293.6h5.6v1.05h-5.6zM176.4 293.6h5.5v1.05h-5.5zM187.3 293.6h5.5v1.05h-5.5zM176.4 295.6h5.5v1.05h-5.5zM181.9 296.6h11.0v1.05h-11.0zM187.3 297.6h5.5v1.05h-5.5zM159.7 300.6h5.6v1.05h-5.6zM181.9 300.6h11.0v1.05h-11.0zM165.3 301.6h5.6v1.05h-5.6zM176.4 301.6h5.5v1.05h-5.5zM176.4 316.7h16.5v1.05h-16.5zM159.7 318.7h5.6v1.05h-5.6zM170.8 318.7h5.6v1.05h-5.6zM159.7 320.7h22.2v1.05h-22.2zM165.3 328.7h5.6v1.05h-5.6zM170.8 329.7h22.0v1.05h-22.0zM170.8 330.7h16.6v1.05h-16.6zM159.7 331.7h5.6v1.05h-5.6zM170.8 331.7h22.0v1.05h-22.0zM170.8 332.7h5.6v1.05h-5.6zM181.9 334.7h5.5v1.05h-5.5zM176.4 335.7h5.5v1.05h-5.5zM170.8 337.7h11.1v1.05h-11.1zM165.3 338.7h5.6v1.05h-5.6zM176.4 338.7h5.5v1.05h-5.5zM187.3 339.7h5.5v1.05h-5.5zM159.7 340.7h33.2v1.05h-33.2zM159.7 342.7h5.6v1.05h-5.6zM170.8 342.7h22.0v1.05h-22.0z"/>
<path fill="#4665b8" d="M83.3 208.5h5.4v1.05h-5.4zM61.3 209.5h11.2v1.05h-11.2zM78.0 209.5h10.7v1.05h-10.7zM72.4 211.5h21.6v1.05h-21.6zM61.3 219.5h5.6v1.05h-5.6zM72.4 224.5h5.6v1.05h-5.6zM66.9 228.5h11.2v1.05h-11.2zM78.0 230.5h16.1v1.05h-16.1zM72.4 231.5h5.6v1.05h-5.6zM78.0 234.5h5.4v1.05h-5.4zM88.7 234.5h5.4v1.05h-5.4zM66.9 235.5h5.6v1.05h-5.6zM83.3 235.5h5.4v1.05h-5.4zM88.7 239.6h5.4v1.05h-5.4zM78.0 252.6h10.7v1.05h-10.7zM61.3 253.6h5.6v1.05h-5.6zM72.4 253.6h5.6v1.05h-5.6zM61.3 255.6h11.2v1.05h-11.2zM88.7 255.6h5.4v1.05h-5.4zM66.9 256.6h11.2v1.05h-11.2zM61.3 258.6h16.8v1.05h-16.8zM83.3 258.6h5.4v1.05h-5.4zM61.3 262.6h16.8v1.05h-16.8zM66.9 273.6h5.6v1.05h-5.6zM66.9 280.6h16.5v1.05h-16.5zM61.3 281.6h27.4v1.05h-27.4zM61.3 282.6h5.6v1.05h-5.6zM78.0 282.6h5.4v1.05h-5.4zM61.3 283.6h5.6v1.05h-5.6zM61.3 285.6h5.6v1.05h-5.6zM72.4 285.6h5.6v1.05h-5.6zM66.9 293.6h21.8v1.05h-21.8zM78.0 294.6h16.1v1.05h-16.1zM78.0 295.6h16.1v1.05h-16.1zM61.3 296.6h16.8v1.05h-16.8zM61.3 297.6h5.6v1.05h-5.6zM72.4 297.6h5.6v1.05h-5.6zM83.3 297.6h5.4v1.05h-5.4zM61.3 302.6h5.6v1.05h-5.6zM72.4 302.6h10.9v1.05h-10.9zM83.3 303.6h5.4v1.05h-5.4zM61.3 305.6h11.2v1.05h-11.2zM78.0 305.6h16.1v1.05h-16.1zM88.7 306.6h5.4v1.05h-5.4zM66.9 307.6h21.8v1.05h-21.8zM72.4 308.6h5.6v1.05h-5.6zM66.9 317.7h11.2v1.05h-11.2zM88.7 317.7h5.4v1.05h-5.4zM61.3 318.7h5.6v1.05h-5.6zM78.0 318.7h5.4v1.05h-5.4zM83.3 319.7h5.4v1.05h-5.4zM66.9 324.7h11.2v1.05h-11.2zM61.3 325.7h11.2v1.05h-11.2zM61.3 326.7h5.6v1.05h-5.6zM72.4 326.7h5.6v1.05h-5.6zM61.3 327.7h16.8v1.05h-16.8zM61.3 333.7h32.8v1.05h-32.8zM66.9 335.7h5.6v1.05h-5.6zM61.3 336.7h11.2v1.05h-11.2zM83.3 336.7h5.4v1.05h-5.4zM115.8 204.5h11.3v1.05h-11.3zM132.5 204.5h5.5v1.05h-5.5zM110.2 205.5h16.8v1.05h-16.8zM127.0 208.5h11.0v1.05h-11.0zM110.2 209.5h11.2v1.05h-11.2zM127.0 209.5h5.5v1.05h-5.5zM110.2 213.5h5.6v1.05h-5.6zM127.0 213.5h5.5v1.05h-5.5zM115.8 224.5h5.6v1.05h-5.6zM115.8 225.5h16.7v1.05h-16.7zM137.9 225.5h5.5v1.05h-5.5zM110.2 226.5h5.6v1.05h-5.6zM132.5 226.5h5.5v1.05h-5.5zM137.9 227.5h5.5v1.05h-5.5zM115.8 229.5h16.7v1.05h-16.7zM110.2 233.5h22.3v1.05h-22.3zM137.9 233.5h5.5v1.05h-5.5zM132.5 238.5h11.0v1.05h-11.0zM110.2 256.6h16.8v1.05h-16.8zM115.8 259.6h11.3v1.05h-11.3zM110.2 264.6h22.3v1.05h-22.3zM127.0 267.6h5.5v1.05h-5.5zM132.5 268.6h5.5v1.05h-5.5zM132.5 269.6h5.5v1.05h-5.5zM132.5 272.6h5.5v1.05h-5.5zM127.0 274.6h11.0v1.05h-11.0zM110.2 275.6h5.6v1.05h-5.6zM121.4 275.6h5.6v1.05h-5.6zM127.0 276.6h5.5v1.05h-5.5zM127.0 277.6h16.5v1.05h-16.5zM115.8 280.6h5.6v1.05h-5.6zM110.2 281.6h5.6v1.05h-5.6zM110.2 284.6h11.2v1.05h-11.2zM110.2 288.6h22.3v1.05h-22.3zM110.2 289.6h16.8v1.05h-16.8zM110.2 293.6h5.6v1.05h-5.6zM121.4 293.6h5.6v1.05h-5.6zM110.2 297.6h33.2v1.05h-33.2zM110.2 308.6h16.8v1.05h-16.8zM132.5 308.6h11.0v1.05h-11.0zM115.8 311.7h5.6v1.05h-5.6zM127.0 311.7h16.5v1.05h-16.5zM110.2 315.7h33.2v1.05h-33.2zM110.2 318.7h5.6v1.05h-5.6zM110.2 319.7h16.8v1.05h-16.8zM115.8 321.7h5.6v1.05h-5.6zM127.0 322.7h16.5v1.05h-16.5zM121.4 325.7h5.6v1.05h-5.6zM110.2 342.7h11.2v1.05h-11.2zM127.0 342.7h5.5v1.05h-5.5zM137.9 342.7h5.5v1.05h-5.5zM165.3 203.5h11.2v1.05h-11.2zM181.9 203.5h5.5v1.05h-5.5zM159.7 204.5h11.2v1.05h-11.2zM187.3 204.5h5.5v1.05h-5.5zM159.7 206.5h5.6v1.05h-5.6zM159.7 213.5h11.2v1.05h-11.2zM176.4 213.5h11.0v1.05h-11.0zM165.3 226.5h11.2v1.05h-11.2zM159.7 227.5h16.8v1.05h-16.8zM181.9 236.5h5.5v1.05h-5.5zM176.4 237.5h5.5v1.05h-5.5zM170.8 238.5h5.6v1.05h-5.6zM187.3 238.5h5.5v1.05h-5.5zM159.7 241.6h11.2v1.05h-11.2zM176.4 241.6h5.5v1.05h-5.5zM187.3 241.6h5.5v1.05h-5.5zM165.3 242.6h16.7v1.05h-16.7zM176.4 243.6h5.5v1.05h-5.5zM176.4 244.6h5.5v1.05h-5.5zM170.8 246.6h5.6v1.05h-5.6zM159.7 247.6h5.6v1.05h-5.6zM176.4 247.6h16.5v1.05h-16.5zM159.7 248.6h27.7v1.05h-27.7zM159.7 256.6h22.2v1.05h-22.2zM187.3 256.6h5.5v1.05h-5.5zM165.3 259.6h16.7v1.05h-16.7zM187.3 259.6h5.5v1.05h-5.5zM181.9 260.6h11.0v1.05h-11.0zM170.8 261.6h11.1v1.05h-11.1zM187.3 261.6h5.5v1.05h-5.5zM159.7 265.6h5.6v1.05h-5.6zM170.8 265.6h5.6v1.05h-5.6zM165.3 267.6h16.7v1.05h-16.7zM187.3 267.6h5.5v1.05h-5.5zM159.7 268.6h5.6v1.05h-5.6zM170.8 268.6h5.6v1.05h-5.6zM165.3 269.6h5.6v1.05h-5.6zM176.4 272.6h16.5v1.05h-16.5zM159.7 279.6h16.8v1.05h-16.8zM181.9 279.6h5.5v1.05h-5.5zM165.3 289.6h11.2v1.05h-11.2zM176.4 300.6h5.5v1.05h-5.5zM181.9 301.6h11.0v1.05h-11.0zM159.7 328.7h5.6v1.05h-5.6zM170.8 328.7h5.6v1.05h-5.6zM159.7 329.7h11.2v1.05h-11.2zM159.7 330.7h11.2v1.05h-11.2zM187.3 330.7h5.5v1.05h-5.5zM176.4 339.7h11.0v1.05h-11.0z"/>
<path fill="#3d58a1" d="M72.4 209.5h5.6v1.05h-5.6zM88.7 209.5h5.4v1.05h-5.4zM66.9 211.5h5.6v1.05h-5.6zM83.3 234.5h5.4v1.05h-5.4zM66.9 253.6h5.6v1.05h-5.6zM88.7 253.6h5.4v1.05h-5.4zM61.3 254.6h5.6v1.05h-5.6zM72.4 254.6h5.6v1.05h-5.6zM78.0 258.6h5.4v1.05h-5.4zM88.7 258.6h5.4v1.05h-5.4zM61.3 280.6h5.6v1.05h-5.6zM88.7 281.6h5.4v1.05h-5.4zM66.9 282.6h11.2v1.05h-11.2zM83.3 282.6h10.7v1.05h-10.7zM78.0 283.6h16.1v1.05h-16.1zM83.3 284.6h10.7v1.05h-10.7zM78.0 285.6h5.4v1.05h-5.4zM88.7 285.6h5.4v1.05h-5.4zM61.3 293.6h5.6v1.05h-5.6zM61.3 294.6h16.8v1.05h-16.8zM66.9 295.6h5.6v1.05h-5.6zM72.4 305.6h5.6v1.05h-5.6zM61.3 308.6h11.2v1.05h-11.2zM78.0 308.6h16.1v1.05h-16.1zM61.3 317.7h5.6v1.05h-5.6zM66.9 318.7h11.2v1.05h-11.2zM83.3 318.7h10.7v1.05h-10.7zM61.3 319.7h22.1v1.05h-22.1zM88.7 319.7h5.4v1.05h-5.4zM61.3 322.7h16.8v1.05h-16.8zM83.3 322.7h10.7v1.05h-10.7zM78.0 323.7h5.4v1.05h-5.4zM61.3 324.7h5.6v1.05h-5.6zM78.0 324.7h16.1v1.05h-16.1zM72.4 325.7h5.6v1.05h-5.6zM83.3 325.7h10.7v1.05h-10.7zM66.9 326.7h5.6v1.05h-5.6zM78.0 326.7h16.1v1.05h-16.1zM78.0 327.7h16.1v1.05h-16.1zM78.0 335.7h16.1v1.05h-16.1zM78.0 336.7h5.4v1.05h-5.4zM88.7 336.7h5.4v1.05h-5.4zM110.2 204.5h5.6v1.05h-5.6zM127.0 204.5h5.5v1.05h-5.5zM137.9 204.5h5.5v1.05h-5.5zM127.0 205.5h16.5v1.05h-16.5zM110.2 208.5h16.8v1.05h-16.8zM137.9 208.5h5.5v1.05h-5.5zM121.4 209.5h5.6v1.05h-5.6zM110.2 212.5h5.6v1.05h-5.6zM132.5 212.5h11.0v1.05h-11.0zM132.5 213.5h11.0v1.05h-11.0zM110.2 216.5h16.8v1.05h-16.8zM132.5 216.5h11.0v1.05h-11.0zM110.2 224.5h5.6v1.05h-5.6zM121.4 224.5h22.1v1.05h-22.1zM132.5 267.6h11.0v1.05h-11.0zM115.8 270.6h16.7v1.05h-16.7zM137.9 270.6h5.5v1.05h-5.5zM127.0 271.6h16.5v1.05h-16.5zM115.8 272.6h5.6v1.05h-5.6zM127.0 272.6h5.5v1.05h-5.5zM137.9 272.6h5.5v1.05h-5.5zM110.2 274.6h5.6v1.05h-5.6zM121.4 274.6h5.6v1.05h-5.6zM137.9 274.6h5.5v1.05h-5.5zM132.5 276.6h5.5v1.05h-5.5zM110.2 280.6h5.6v1.05h-5.6zM121.4 280.6h22.1v1.05h-22.1zM115.8 281.6h11.3v1.05h-11.3zM121.4 284.6h22.1v1.05h-22.1zM132.5 288.6h11.0v1.05h-11.0zM127.0 289.6h5.5v1.05h-5.5zM137.9 289.6h5.5v1.05h-5.5zM110.2 291.6h5.6v1.05h-5.6zM121.4 291.6h5.6v1.05h-5.6zM115.8 293.6h5.6v1.05h-5.6zM127.0 293.6h5.5v1.05h-5.5zM137.9 293.6h5.5v1.05h-5.5zM121.4 305.6h5.6v1.05h-5.6zM115.8 306.6h11.3v1.05h-11.3zM132.5 306.6h5.5v1.05h-5.5zM127.0 308.6h5.5v1.05h-5.5zM110.2 313.7h16.8v1.05h-16.8zM132.5 313.7h5.5v1.05h-5.5zM110.2 316.7h33.2v1.05h-33.2zM110.2 317.7h16.8v1.05h-16.8zM115.8 318.7h11.3v1.05h-11.3zM132.5 318.7h5.5v1.05h-5.5zM127.0 319.7h16.5v1.05h-16.5zM110.2 325.7h11.2v1.05h-11.2zM132.5 325.7h11.0v1.05h-11.0zM127.0 326.7h11.0v1.05h-11.0zM127.0 327.7h5.5v1.05h-5.5zM110.2 328.7h5.6v1.05h-5.6zM110.2 341.7h5.6v1.05h-5.6zM121.4 342.7h5.6v1.05h-5.6zM127.0 344.7h16.5v1.05h-16.5zM170.8 213.5h5.6v1.05h-5.6zM159.7 222.5h16.8v1.05h-16.8zM165.3 223.5h27.6v1.05h-27.6zM170.8 241.6h5.6v1.05h-5.6zM159.7 243.6h16.8v1.05h-16.8zM159.7 244.6h5.6v1.05h-5.6zM170.8 244.6h5.6v1.05h-5.6zM181.9 244.6h11.0v1.05h-11.0zM159.7 246.6h11.2v1.05h-11.2zM176.4 246.6h11.0v1.05h-11.0zM159.7 259.6h5.6v1.05h-5.6zM159.7 260.6h16.8v1.05h-16.8zM159.7 261.6h11.2v1.05h-11.2zM181.9 261.6h5.5v1.05h-5.5zM159.7 267.6h5.6v1.05h-5.6zM181.9 267.6h5.5v1.05h-5.5z"/>
<path fill="#344c8a" d="M61.3 252.6h16.8v1.05h-16.8zM66.9 254.6h5.6v1.05h-5.6zM78.0 254.6h16.1v1.05h-16.1zM78.0 284.6h5.4v1.05h-5.4zM83.3 285.6h5.4v1.05h-5.4zM61.3 295.6h5.6v1.05h-5.6zM72.4 295.6h5.6v1.05h-5.6zM88.7 311.7h5.4v1.05h-5.4zM78.0 322.7h5.4v1.05h-5.4zM61.3 323.7h16.8v1.05h-16.8zM83.3 323.7h10.7v1.05h-10.7zM78.0 325.7h5.4v1.05h-5.4zM115.8 212.5h16.7v1.05h-16.7zM127.0 216.5h5.5v1.05h-5.5zM121.4 223.5h5.6v1.05h-5.6zM132.5 223.5h11.0v1.05h-11.0zM110.2 270.6h5.6v1.05h-5.6zM132.5 270.6h5.5v1.05h-5.5zM110.2 272.6h5.6v1.05h-5.6zM115.8 274.6h5.6v1.05h-5.6zM115.8 276.6h5.6v1.05h-5.6zM132.5 289.6h5.5v1.05h-5.5zM132.5 291.6h11.0v1.05h-11.0zM132.5 293.6h5.5v1.05h-5.5zM121.4 304.6h5.6v1.05h-5.6zM110.2 305.6h11.2v1.05h-11.2zM127.0 305.6h16.5v1.05h-16.5zM110.2 306.6h5.6v1.05h-5.6zM127.0 306.6h5.5v1.05h-5.5zM137.9 306.6h5.5v1.05h-5.5zM127.0 313.7h5.5v1.05h-5.5zM137.9 313.7h5.5v1.05h-5.5zM127.0 317.7h16.5v1.05h-16.5zM127.0 318.7h5.5v1.05h-5.5zM137.9 318.7h5.5v1.05h-5.5zM127.0 325.7h5.5v1.05h-5.5zM110.2 326.7h16.8v1.05h-16.8zM137.9 326.7h5.5v1.05h-5.5zM110.2 327.7h11.2v1.05h-11.2zM132.5 327.7h11.0v1.05h-11.0zM115.8 328.7h27.7v1.05h-27.7zM121.4 331.7h5.6v1.05h-5.6zM110.2 338.7h16.8v1.05h-16.8zM115.8 340.7h5.6v1.05h-5.6zM115.8 341.7h11.3v1.05h-11.3zM132.5 341.7h5.5v1.05h-5.5zM110.2 343.7h22.3v1.05h-22.3zM137.9 343.7h5.5v1.05h-5.5zM110.2 344.7h5.6v1.05h-5.6zM121.4 344.7h5.6v1.05h-5.6zM176.4 222.5h16.5v1.05h-16.5zM159.7 223.5h5.6v1.05h-5.6zM165.3 244.6h5.6v1.05h-5.6zM187.3 246.6h5.5v1.05h-5.5z"/>
<path fill="#2b3f73" d="M100.1 148.7h5.1v1.06h-5.1zM61.3 311.7h5.6v1.05h-5.6zM78.0 311.7h10.7v1.05h-10.7zM110.2 223.5h11.2v1.05h-11.2zM127.0 223.5h5.5v1.05h-5.5zM121.4 272.6h5.6v1.05h-5.6zM110.2 276.6h5.6v1.05h-5.6zM110.2 277.6h16.8v1.05h-16.8zM115.8 291.6h5.6v1.05h-5.6zM127.0 291.6h5.5v1.05h-5.5zM110.2 304.6h11.2v1.05h-11.2zM132.5 304.6h5.5v1.05h-5.5zM121.4 327.7h5.6v1.05h-5.6zM110.2 331.7h11.2v1.05h-11.2zM127.0 331.7h11.0v1.05h-11.0zM115.8 334.7h5.6v1.05h-5.6zM127.0 334.7h5.5v1.05h-5.5zM137.9 334.7h5.5v1.05h-5.5zM127.0 338.7h16.5v1.05h-16.5zM110.2 339.7h16.8v1.05h-16.8zM132.5 339.7h11.0v1.05h-11.0zM110.2 340.7h5.6v1.05h-5.6zM121.4 340.7h22.1v1.05h-22.1zM127.0 341.7h5.5v1.05h-5.5zM137.9 341.7h5.5v1.05h-5.5zM132.5 343.7h5.5v1.05h-5.5zM115.8 344.7h5.6v1.05h-5.6zM165.3 215.5h11.2v1.05h-11.2zM181.9 215.5h11.0v1.05h-11.0zM159.7 219.5h16.8v1.05h-16.8z"/>
<path fill="#23325c" d="M100.1 144.7h5.1v1.06h-5.1zM100.1 152.8h5.1v1.06h-5.1zM78.0 207.5h5.4v1.05h-5.4zM61.3 226.5h5.6v1.05h-5.6zM83.3 226.5h5.4v1.05h-5.4zM66.9 269.6h5.6v1.05h-5.6zM66.9 311.7h11.2v1.05h-11.2zM88.7 316.7h5.4v1.05h-5.4zM115.8 250.6h5.6v1.05h-5.6zM127.0 265.6h11.0v1.05h-11.0zM110.2 266.6h33.2v1.05h-33.2zM121.4 276.6h5.6v1.05h-5.6zM127.0 304.6h5.5v1.05h-5.5zM137.9 304.6h5.5v1.05h-5.5zM121.4 320.7h5.6v1.05h-5.6zM137.9 331.7h5.5v1.05h-5.5zM127.0 333.7h5.5v1.05h-5.5zM137.9 333.7h5.5v1.05h-5.5zM110.2 334.7h5.6v1.05h-5.6zM121.4 334.7h5.6v1.05h-5.6zM132.5 334.7h5.5v1.05h-5.5zM127.0 339.7h5.5v1.05h-5.5zM176.4 208.5h5.5v1.05h-5.5zM159.7 209.5h16.8v1.05h-16.8zM187.3 209.5h5.5v1.05h-5.5zM159.7 215.5h5.6v1.05h-5.6zM176.4 215.5h5.5v1.05h-5.5zM176.4 219.5h16.5v1.05h-16.5zM159.7 229.5h5.6v1.05h-5.6zM165.3 304.6h11.2v1.05h-11.2zM170.8 306.6h5.6v1.05h-5.6z"/>
<path fill="#1a2645" d="M100.1 143.7h5.1v1.06h-5.1zM100.1 145.7h5.1v1.06h-5.1zM100.1 151.7h5.1v1.06h-5.1zM100.1 154.8h5.1v1.06h-5.1zM61.3 207.5h5.6v1.05h-5.6zM83.3 207.5h10.7v1.05h-10.7zM66.9 226.5h16.5v1.05h-16.5zM61.3 245.6h16.8v1.05h-16.8zM61.3 257.6h5.6v1.05h-5.6zM72.4 257.6h5.6v1.05h-5.6zM83.3 263.6h5.4v1.05h-5.4zM61.3 264.6h11.2v1.05h-11.2zM61.3 265.6h5.6v1.05h-5.6zM61.3 268.6h5.6v1.05h-5.6zM72.4 268.6h10.9v1.05h-10.9zM61.3 269.6h5.6v1.05h-5.6zM72.4 269.6h21.6v1.05h-21.6zM61.3 271.6h11.2v1.05h-11.2zM78.0 271.6h5.4v1.05h-5.4zM88.7 271.6h5.4v1.05h-5.4zM61.3 272.6h5.6v1.05h-5.6zM78.0 272.6h16.1v1.05h-16.1zM61.3 275.6h5.6v1.05h-5.6zM78.0 275.6h16.1v1.05h-16.1zM61.3 279.6h11.2v1.05h-11.2zM78.0 279.6h16.1v1.05h-16.1zM61.3 287.6h16.8v1.05h-16.8zM78.0 288.6h10.7v1.05h-10.7zM61.3 290.6h5.6v1.05h-5.6zM78.0 290.6h16.1v1.05h-16.1zM61.3 291.6h5.6v1.05h-5.6zM72.4 291.6h16.3v1.05h-16.3zM66.9 292.6h5.6v1.05h-5.6zM78.0 298.6h5.4v1.05h-5.4zM88.7 298.6h5.4v1.05h-5.4zM83.3 299.6h5.4v1.05h-5.4zM66.9 301.6h5.6v1.05h-5.6zM78.0 301.6h16.1v1.05h-16.1zM66.9 304.6h5.6v1.05h-5.6zM78.0 309.6h5.4v1.05h-5.4zM61.3 316.7h5.6v1.05h-5.6zM78.0 316.7h5.4v1.05h-5.4zM127.0 211.5h5.5v1.05h-5.5zM132.5 214.5h5.5v1.05h-5.5zM121.4 218.5h5.6v1.05h-5.6zM121.4 219.5h5.6v1.05h-5.6zM127.0 222.5h5.5v1.05h-5.5zM110.2 239.6h27.8v1.05h-27.8zM110.2 249.6h5.6v1.05h-5.6zM121.4 249.6h5.6v1.05h-5.6zM132.5 249.6h11.0v1.05h-11.0zM110.2 250.6h5.6v1.05h-5.6zM121.4 250.6h22.1v1.05h-22.1zM110.2 251.6h11.2v1.05h-11.2zM132.5 251.6h5.5v1.05h-5.5zM127.0 252.6h5.5v1.05h-5.5zM110.2 253.6h11.2v1.05h-11.2zM127.0 253.6h5.5v1.05h-5.5zM121.4 254.6h11.1v1.05h-11.1zM127.0 257.6h11.0v1.05h-11.0zM110.2 258.6h22.3v1.05h-22.3zM132.5 260.6h11.0v1.05h-11.0zM121.4 261.6h5.6v1.05h-5.6zM132.5 261.6h11.0v1.05h-11.0zM132.5 262.6h5.5v1.05h-5.5zM110.2 263.6h11.2v1.05h-11.2zM127.0 263.6h5.5v1.05h-5.5zM137.9 263.6h5.5v1.05h-5.5zM110.2 265.6h16.8v1.05h-16.8zM137.9 265.6h5.5v1.05h-5.5zM110.2 273.6h27.8v1.05h-27.8zM127.0 278.6h5.5v1.05h-5.5zM127.0 279.6h5.5v1.05h-5.5zM127.0 285.6h11.0v1.05h-11.0zM110.2 286.6h16.8v1.05h-16.8zM132.5 286.6h11.0v1.05h-11.0zM121.4 287.6h5.6v1.05h-5.6zM110.2 292.6h5.6v1.05h-5.6zM121.4 292.6h5.6v1.05h-5.6zM110.2 294.6h11.2v1.05h-11.2zM110.2 295.6h5.6v1.05h-5.6zM110.2 296.6h22.3v1.05h-22.3zM137.9 296.6h5.5v1.05h-5.5zM110.2 312.7h5.6v1.05h-5.6zM121.4 312.7h11.1v1.05h-11.1zM137.9 312.7h5.5v1.05h-5.5zM115.8 314.7h5.6v1.05h-5.6zM110.2 320.7h11.2v1.05h-11.2zM127.0 320.7h11.0v1.05h-11.0zM110.2 323.7h11.2v1.05h-11.2zM132.5 323.7h11.0v1.05h-11.0zM110.2 324.7h5.6v1.05h-5.6zM121.4 324.7h11.1v1.05h-11.1zM110.2 329.7h5.6v1.05h-5.6zM137.9 329.7h5.5v1.05h-5.5zM132.5 333.7h5.5v1.05h-5.5zM110.2 335.7h22.3v1.05h-22.3zM165.3 205.5h5.6v1.05h-5.6zM176.4 205.5h16.5v1.05h-16.5zM159.7 207.5h33.2v1.05h-33.2zM159.7 208.5h16.8v1.05h-16.8zM181.9 208.5h11.0v1.05h-11.0zM176.4 209.5h11.0v1.05h-11.0zM159.7 214.5h5.6v1.05h-5.6zM165.3 224.5h11.2v1.05h-11.2zM159.7 228.5h5.6v1.05h-5.6zM176.4 228.5h5.5v1.05h-5.5zM187.3 228.5h5.5v1.05h-5.5zM165.3 229.5h22.1v1.05h-22.1zM159.7 231.5h16.8v1.05h-16.8zM181.9 231.5h5.5v1.05h-5.5zM170.8 232.5h11.1v1.05h-11.1zM187.3 232.5h5.5v1.05h-5.5zM159.7 233.5h5.6v1.05h-5.6zM170.8 233.5h5.6v1.05h-5.6zM187.3 233.5h5.5v1.05h-5.5zM165.3 235.5h16.7v1.05h-16.7zM159.7 239.6h11.2v1.05h-11.2zM176.4 239.6h16.5v1.05h-16.5zM159.7 249.6h33.2v1.05h-33.2zM159.7 250.6h5.6v1.05h-5.6zM181.9 250.6h11.0v1.05h-11.0zM165.3 251.6h27.6v1.05h-27.6zM159.7 255.6h16.8v1.05h-16.8zM187.3 255.6h5.5v1.05h-5.5zM159.7 257.6h22.2v1.05h-22.2zM187.3 257.6h5.5v1.05h-5.5zM159.7 258.6h5.6v1.05h-5.6zM176.4 258.6h16.5v1.05h-16.5zM181.9 263.6h5.5v1.05h-5.5zM159.7 264.6h16.8v1.05h-16.8zM181.9 264.6h11.0v1.05h-11.0zM159.7 298.6h22.2v1.05h-22.2zM187.3 298.6h5.5v1.05h-5.5zM159.7 299.6h22.2v1.05h-22.2zM170.8 302.6h22.0v1.05h-22.0zM159.7 303.6h27.7v1.05h-27.7zM159.7 304.6h5.6v1.05h-5.6zM176.4 304.6h16.5v1.05h-16.5zM159.7 305.6h22.2v1.05h-22.2zM187.3 305.6h5.5v1.05h-5.5zM159.7 306.6h11.2v1.05h-11.2zM176.4 306.6h16.5v1.05h-16.5zM165.3 343.7h22.1v1.05h-22.1zM159.7 344.7h27.7v1.05h-27.7z"/>
<path fill="#11192e" d="M55.7 148.7h5.6v1.06h-5.6zM55.7 152.8h5.6v1.06h-5.6zM55.7 154.8h5.6v1.06h-5.6zM50.2 156.8h5.6v1.06h-5.6zM50.2 161.8h5.6v1.06h-5.6zM50.2 172.9h5.6v1.06h-5.6zM50.2 174.9h5.6v1.06h-5.6zM50.2 194.0h5.6v1.06h-5.6zM100.1 147.7h5.1v1.06h-5.1zM100.1 150.7h5.1v1.06h-5.1zM105.1 152.8h5.1v1.06h-5.1zM105.1 155.8h5.1v1.06h-5.1zM100.1 160.8h5.1v1.06h-5.1zM95.0 162.8h5.1v1.06h-5.1zM100.1 163.8h5.1v1.06h-5.1zM100.1 171.8h5.1v1.06h-5.1zM105.1 186.9h5.1v1.06h-5.1zM154.6 144.7h5.1v1.06h-5.1zM144.5 157.8h5.1v1.06h-5.1zM144.5 162.8h5.1v1.06h-5.1zM149.6 184.9h5.1v1.06h-5.1zM144.5 186.9h5.1v1.06h-5.1zM144.5 199.0h5.1v1.06h-5.1zM66.9 207.5h11.2v1.05h-11.2zM44.6 213.5h5.6v1.05h-5.6zM88.7 226.5h5.4v1.05h-5.4zM50.2 239.6h5.6v1.05h-5.6zM78.0 245.6h5.4v1.05h-5.4zM88.7 245.6h5.4v1.05h-5.4zM61.3 246.6h11.2v1.05h-11.2zM50.2 248.6h5.6v1.05h-5.6zM78.0 249.6h5.4v1.05h-5.4zM72.4 251.6h5.6v1.05h-5.6zM66.9 257.6h5.6v1.05h-5.6zM78.0 257.6h16.1v1.05h-16.1zM61.3 263.6h22.1v1.05h-22.1zM88.7 263.6h5.4v1.05h-5.4zM72.4 264.6h21.6v1.05h-21.6zM66.9 265.6h11.2v1.05h-11.2zM66.9 267.6h5.6v1.05h-5.6zM78.0 267.6h16.1v1.05h-16.1zM66.9 268.6h5.6v1.05h-5.6zM83.3 268.6h10.7v1.05h-10.7zM72.4 271.6h5.6v1.05h-5.6zM83.3 271.6h5.4v1.05h-5.4zM50.2 272.6h5.6v1.05h-5.6zM66.9 272.6h11.2v1.05h-11.2zM66.9 275.6h11.2v1.05h-11.2zM72.4 279.6h5.6v1.05h-5.6zM44.6 280.6h5.6v1.05h-5.6zM78.0 287.6h16.1v1.05h-16.1zM61.3 288.6h16.8v1.05h-16.8zM88.7 288.6h5.4v1.05h-5.4zM66.9 290.6h11.2v1.05h-11.2zM66.9 291.6h5.6v1.05h-5.6zM88.7 291.6h5.4v1.05h-5.4zM61.3 292.6h5.6v1.05h-5.6zM72.4 292.6h21.6v1.05h-21.6zM61.3 298.6h5.6v1.05h-5.6zM72.4 298.6h5.6v1.05h-5.6zM83.3 298.6h5.4v1.05h-5.4zM78.0 299.6h5.4v1.05h-5.4zM88.7 299.6h5.4v1.05h-5.4zM61.3 300.6h32.8v1.05h-32.8zM61.3 301.6h5.6v1.05h-5.6zM72.4 301.6h5.6v1.05h-5.6zM61.3 304.6h5.6v1.05h-5.6zM72.4 304.6h21.6v1.05h-21.6zM61.3 309.6h16.8v1.05h-16.8zM83.3 309.6h10.7v1.05h-10.7zM61.3 310.7h32.8v1.05h-32.8zM61.3 315.7h5.6v1.05h-5.6zM72.4 315.7h21.6v1.05h-21.6zM72.4 316.7h5.6v1.05h-5.6zM83.3 316.7h5.4v1.05h-5.4zM66.9 330.7h5.6v1.05h-5.6zM110.2 203.5h11.2v1.05h-11.2zM137.9 206.5h5.5v1.05h-5.5zM110.2 207.5h33.2v1.05h-33.2zM110.2 210.5h33.2v1.05h-33.2zM115.8 211.5h5.6v1.05h-5.6zM132.5 211.5h5.5v1.05h-5.5zM110.2 214.5h22.3v1.05h-22.3zM137.9 214.5h5.5v1.05h-5.5zM110.2 217.5h22.3v1.05h-22.3zM137.9 217.5h5.5v1.05h-5.5zM110.2 218.5h11.2v1.05h-11.2zM132.5 218.5h11.0v1.05h-11.0zM110.2 219.5h11.2v1.05h-11.2zM132.5 219.5h11.0v1.05h-11.0zM110.2 220.5h16.8v1.05h-16.8zM110.2 221.5h22.3v1.05h-22.3zM137.9 221.5h5.5v1.05h-5.5zM110.2 222.5h16.8v1.05h-16.8zM132.5 222.5h5.5v1.05h-5.5zM137.9 239.6h5.5v1.05h-5.5zM115.8 249.6h5.6v1.05h-5.6zM127.0 249.6h5.5v1.05h-5.5zM121.4 251.6h11.1v1.05h-11.1zM137.9 251.6h5.5v1.05h-5.5zM110.2 252.6h16.8v1.05h-16.8zM132.5 252.6h11.0v1.05h-11.0zM121.4 253.6h5.6v1.05h-5.6zM132.5 253.6h11.0v1.05h-11.0zM110.2 254.6h11.2v1.05h-11.2zM132.5 254.6h11.0v1.05h-11.0zM110.2 255.6h33.2v1.05h-33.2zM110.2 257.6h16.8v1.05h-16.8zM137.9 257.6h5.5v1.05h-5.5zM132.5 258.6h11.0v1.05h-11.0zM110.2 260.6h22.3v1.05h-22.3zM110.2 261.6h11.2v1.05h-11.2zM127.0 261.6h5.5v1.05h-5.5zM110.2 262.6h22.3v1.05h-22.3zM137.9 262.6h5.5v1.05h-5.5zM121.4 263.6h5.6v1.05h-5.6zM132.5 263.6h5.5v1.05h-5.5zM137.9 273.6h5.5v1.05h-5.5zM110.2 278.6h16.8v1.05h-16.8zM132.5 278.6h11.0v1.05h-11.0zM110.2 279.6h16.8v1.05h-16.8zM132.5 279.6h11.0v1.05h-11.0zM110.2 285.6h16.8v1.05h-16.8zM137.9 285.6h5.5v1.05h-5.5zM127.0 286.6h5.5v1.05h-5.5zM110.2 287.6h11.2v1.05h-11.2zM127.0 287.6h16.5v1.05h-16.5zM137.9 290.6h5.5v1.05h-5.5zM115.8 292.6h5.6v1.05h-5.6zM127.0 292.6h16.5v1.05h-16.5zM121.4 294.6h22.1v1.05h-22.1zM115.8 295.6h27.7v1.05h-27.7zM132.5 296.6h5.5v1.05h-5.5zM110.2 298.6h5.6v1.05h-5.6zM110.2 307.6h33.2v1.05h-33.2zM115.8 312.7h5.6v1.05h-5.6zM132.5 312.7h5.5v1.05h-5.5zM110.2 314.7h5.6v1.05h-5.6zM121.4 314.7h5.6v1.05h-5.6zM132.5 314.7h11.0v1.05h-11.0zM137.9 320.7h5.5v1.05h-5.5zM121.4 323.7h11.1v1.05h-11.1zM115.8 324.7h5.6v1.05h-5.6zM132.5 324.7h11.0v1.05h-11.0zM115.8 329.7h22.2v1.05h-22.2zM132.5 330.7h11.0v1.05h-11.0zM110.2 333.7h16.8v1.05h-16.8zM132.5 335.7h11.0v1.05h-11.0zM105.1 336.7h16.3v1.05h-16.3zM127.0 336.7h16.5v1.05h-16.5zM127.0 337.7h5.5v1.05h-5.5zM159.7 205.5h5.6v1.05h-5.6zM170.8 205.5h5.6v1.05h-5.6zM165.3 214.5h5.6v1.05h-5.6zM181.9 214.5h11.0v1.05h-11.0zM159.7 218.5h22.2v1.05h-22.2zM176.4 220.5h5.5v1.05h-5.5zM159.7 221.5h16.8v1.05h-16.8zM187.3 221.5h5.5v1.05h-5.5zM159.7 224.5h5.6v1.05h-5.6zM176.4 224.5h16.5v1.05h-16.5zM165.3 228.5h11.2v1.05h-11.2zM181.9 228.5h5.5v1.05h-5.5zM187.3 229.5h5.5v1.05h-5.5zM176.4 231.5h5.5v1.05h-5.5zM187.3 231.5h5.5v1.05h-5.5zM165.3 232.5h5.6v1.05h-5.6zM181.9 232.5h5.5v1.05h-5.5zM165.3 233.5h5.6v1.05h-5.6zM176.4 233.5h11.0v1.05h-11.0zM159.7 234.5h27.7v1.05h-27.7zM159.7 235.5h5.6v1.05h-5.6zM181.9 235.5h11.0v1.05h-11.0zM144.5 236.5h5.1v1.05h-5.1zM170.8 239.6h5.6v1.05h-5.6zM144.5 244.6h5.1v1.05h-5.1zM159.7 245.6h33.2v1.05h-33.2zM165.3 250.6h16.7v1.05h-16.7zM159.7 251.6h5.6v1.05h-5.6zM159.7 254.6h5.6v1.05h-5.6zM170.8 254.6h22.0v1.05h-22.0zM176.4 255.6h11.0v1.05h-11.0zM181.9 257.6h5.5v1.05h-5.5zM165.3 258.6h11.2v1.05h-11.2zM159.7 262.6h33.2v1.05h-33.2zM159.7 263.6h22.2v1.05h-22.2zM187.3 263.6h5.5v1.05h-5.5zM176.4 264.6h5.5v1.05h-5.5zM165.3 266.6h16.7v1.05h-16.7zM187.3 266.6h5.5v1.05h-5.5zM144.5 282.6h5.1v1.05h-5.1zM181.9 298.6h5.5v1.05h-5.5zM181.9 299.6h11.0v1.05h-11.0zM159.7 302.6h11.2v1.05h-11.2zM187.3 303.6h5.5v1.05h-5.5zM181.9 305.6h5.5v1.05h-5.5zM149.6 317.7h5.1v1.05h-5.1zM144.5 320.7h5.1v1.05h-5.1zM159.7 343.7h5.6v1.05h-5.6zM187.3 343.7h5.5v1.05h-5.5zM187.3 344.7h5.5v1.05h-5.5z"/>
<path fill="#080c17" d="M50.2 142.7h5.6v1.06h-5.6zM55.7 143.7h5.6v1.06h-5.6zM50.2 145.7h5.6v1.06h-5.6zM50.2 146.7h5.6v1.06h-5.6zM44.6 148.7h5.6v1.06h-5.6zM50.2 149.7h5.6v1.06h-5.6zM44.6 150.7h5.6v1.06h-5.6zM44.6 152.8h11.2v1.06h-11.2zM50.2 153.8h11.2v1.06h-11.2zM44.6 154.8h5.6v1.06h-5.6zM55.7 155.8h5.6v1.06h-5.6zM50.2 157.8h5.6v1.06h-5.6zM44.6 159.8h5.6v1.06h-5.6zM50.2 160.8h11.2v1.06h-11.2zM55.7 161.8h5.6v1.06h-5.6zM55.7 162.8h5.6v1.06h-5.6zM44.6 164.8h5.6v1.06h-5.6zM55.7 164.8h5.6v1.06h-5.6zM44.6 166.8h5.6v1.06h-5.6zM55.7 166.8h5.6v1.06h-5.6zM50.2 167.8h11.2v1.06h-11.2zM55.7 168.8h5.6v1.06h-5.6zM50.2 169.8h5.6v1.06h-5.6zM44.6 170.8h5.6v1.06h-5.6zM55.7 170.8h5.6v1.06h-5.6zM44.6 171.8h5.6v1.06h-5.6zM55.7 171.8h5.6v1.06h-5.6zM44.6 172.9h5.6v1.06h-5.6zM50.2 173.9h5.6v1.06h-5.6zM44.6 174.9h5.6v1.06h-5.6zM50.2 175.9h5.6v1.06h-5.6zM50.2 176.9h5.6v1.06h-5.6zM50.2 177.9h5.6v1.06h-5.6zM44.6 178.9h5.6v1.06h-5.6zM50.2 180.9h5.6v1.06h-5.6zM55.7 181.9h5.6v1.06h-5.6zM55.7 182.9h5.6v1.06h-5.6zM44.6 183.9h11.2v1.06h-11.2zM50.2 184.9h5.6v1.06h-5.6zM44.6 185.9h16.7v1.06h-16.7zM50.2 186.9h11.2v1.06h-11.2zM55.7 187.9h5.6v1.06h-5.6zM44.6 188.9h5.6v1.06h-5.6zM50.2 189.9h11.2v1.06h-11.2zM44.6 190.9h5.6v1.06h-5.6zM44.6 191.9h5.6v1.06h-5.6zM55.7 191.9h5.6v1.06h-5.6zM50.2 193.0h5.6v1.06h-5.6zM44.6 195.0h5.6v1.06h-5.6zM44.6 196.0h11.2v1.06h-11.2zM44.6 197.0h11.2v1.06h-11.2zM44.6 198.0h5.6v1.06h-5.6zM55.7 198.0h5.6v1.06h-5.6zM44.6 199.0h16.7v1.06h-16.7zM55.7 200.0h5.6v1.06h-5.6zM44.6 201.0h5.6v1.06h-5.6zM105.1 142.7h5.1v1.06h-5.1zM105.1 143.7h5.1v1.06h-5.1zM95.0 144.7h5.1v1.06h-5.1zM95.0 145.7h5.1v1.06h-5.1zM105.1 146.7h5.1v1.06h-5.1zM95.0 147.7h5.1v1.06h-5.1zM100.1 149.7h10.2v1.06h-10.2zM95.0 152.8h5.1v1.06h-5.1zM95.0 153.8h15.3v1.06h-15.3zM100.1 156.8h5.1v1.06h-5.1zM100.1 158.8h10.2v1.06h-10.2zM105.1 159.8h5.1v1.06h-5.1zM95.0 160.8h5.1v1.06h-5.1zM105.1 160.8h5.1v1.06h-5.1zM95.0 161.8h5.1v1.06h-5.1zM105.1 161.8h5.1v1.06h-5.1zM105.1 162.8h5.1v1.06h-5.1zM100.1 164.8h5.1v1.06h-5.1zM95.0 166.8h10.2v1.06h-10.2zM95.0 167.8h5.1v1.06h-5.1zM95.0 168.8h5.1v1.06h-5.1zM105.1 170.8h5.1v1.06h-5.1zM95.0 171.8h5.1v1.06h-5.1zM95.0 172.9h5.1v1.06h-5.1zM95.0 173.9h5.1v1.06h-5.1zM100.1 174.9h10.2v1.06h-10.2zM105.1 175.9h5.1v1.06h-5.1zM95.0 176.9h15.3v1.06h-15.3zM95.0 177.9h5.1v1.06h-5.1zM105.1 177.9h5.1v1.06h-5.1zM100.1 178.9h10.2v1.06h-10.2zM95.0 179.9h10.2v1.06h-10.2zM100.1 180.9h5.1v1.06h-5.1zM95.0 181.9h15.3v1.06h-15.3zM95.0 182.9h15.3v1.06h-15.3zM105.1 183.9h5.1v1.06h-5.1zM95.0 185.9h10.2v1.06h-10.2zM95.0 186.9h10.2v1.06h-10.2zM95.0 187.9h5.1v1.06h-5.1zM105.1 187.9h5.1v1.06h-5.1zM100.1 189.9h5.1v1.06h-5.1zM100.1 190.9h5.1v1.06h-5.1zM95.0 191.9h10.2v1.06h-10.2zM105.1 193.0h5.1v1.06h-5.1zM95.0 196.0h5.1v1.06h-5.1zM95.0 200.0h5.1v1.06h-5.1zM105.1 200.0h5.1v1.06h-5.1zM95.0 201.0h5.1v1.06h-5.1zM149.6 142.7h10.2v1.06h-10.2zM144.5 143.7h5.1v1.06h-5.1zM154.6 143.7h5.1v1.06h-5.1zM144.5 144.7h10.2v1.06h-10.2zM144.5 146.7h5.1v1.06h-5.1zM149.6 147.7h5.1v1.06h-5.1zM144.5 149.7h5.1v1.06h-5.1zM144.5 150.7h5.1v1.06h-5.1zM149.6 152.8h10.2v1.06h-10.2zM144.5 153.8h5.1v1.06h-5.1zM154.6 153.8h5.1v1.06h-5.1zM154.6 154.8h5.1v1.06h-5.1zM149.6 156.8h5.1v1.06h-5.1zM149.6 157.8h10.2v1.06h-10.2zM149.6 158.8h5.1v1.06h-5.1zM149.6 159.8h10.2v1.06h-10.2zM154.6 160.8h5.1v1.06h-5.1zM149.6 164.8h5.1v1.06h-5.1zM149.6 166.8h5.1v1.06h-5.1zM154.6 167.8h5.1v1.06h-5.1zM144.5 168.8h5.1v1.06h-5.1zM154.6 169.8h5.1v1.06h-5.1zM144.5 170.8h10.2v1.06h-10.2zM144.5 171.8h15.2v1.06h-15.2zM144.5 172.9h5.1v1.06h-5.1zM144.5 173.9h10.2v1.06h-10.2zM149.6 174.9h5.1v1.06h-5.1zM144.5 176.9h15.2v1.06h-15.2zM154.6 177.9h5.1v1.06h-5.1zM154.6 180.9h5.1v1.06h-5.1zM144.5 181.9h5.1v1.06h-5.1zM154.6 181.9h5.1v1.06h-5.1zM149.6 183.9h5.1v1.06h-5.1zM154.6 184.9h5.1v1.06h-5.1zM149.6 185.9h10.2v1.06h-10.2zM154.6 186.9h5.1v1.06h-5.1zM144.5 187.9h5.1v1.06h-5.1zM154.6 187.9h5.1v1.06h-5.1zM154.6 188.9h5.1v1.06h-5.1zM154.6 189.9h5.1v1.06h-5.1zM144.5 191.9h5.1v1.06h-5.1zM144.5 193.0h10.2v1.06h-10.2zM144.5 196.0h5.1v1.06h-5.1zM149.6 197.0h10.2v1.06h-10.2zM144.5 198.0h5.1v1.06h-5.1zM149.6 199.0h5.1v1.06h-5.1zM149.6 200.0h5.1v1.06h-5.1zM149.6 201.0h5.1v1.06h-5.1zM55.7 203.5h5.6v1.05h-5.6zM50.2 204.5h5.6v1.05h-5.6zM50.2 205.5h5.6v1.05h-5.6zM50.2 208.5h5.6v1.05h-5.6zM50.2 209.5h5.6v1.05h-5.6zM44.6 216.5h5.6v1.05h-5.6zM50.2 217.5h5.6v1.05h-5.6zM50.2 219.5h5.6v1.05h-5.6zM55.7 222.5h5.6v1.05h-5.6zM50.2 224.5h5.6v1.05h-5.6zM44.6 226.5h11.2v1.05h-11.2zM44.6 227.5h5.6v1.05h-5.6zM50.2 228.5h5.6v1.05h-5.6zM50.2 229.5h5.6v1.05h-5.6zM50.2 231.5h5.6v1.05h-5.6zM55.7 233.5h5.6v1.05h-5.6zM44.6 235.5h5.6v1.05h-5.6zM44.6 237.5h5.6v1.05h-5.6zM44.6 238.5h11.2v1.05h-11.2zM44.6 239.6h5.6v1.05h-5.6zM50.2 241.6h5.6v1.05h-5.6zM44.6 242.6h5.6v1.05h-5.6zM44.6 243.6h11.2v1.05h-11.2zM44.6 244.6h5.6v1.05h-5.6zM44.6 245.6h5.6v1.05h-5.6zM83.3 245.6h5.4v1.05h-5.4zM72.4 246.6h5.6v1.05h-5.6zM61.3 247.6h5.6v1.05h-5.6zM44.6 248.6h5.6v1.05h-5.6zM72.4 248.6h5.6v1.05h-5.6zM61.3 249.6h5.6v1.05h-5.6zM83.3 249.6h10.7v1.05h-10.7zM50.2 250.6h5.6v1.05h-5.6zM61.3 250.6h5.6v1.05h-5.6zM83.3 250.6h5.4v1.05h-5.4zM50.2 251.6h5.6v1.05h-5.6zM61.3 251.6h11.2v1.05h-11.2zM44.6 252.6h5.6v1.05h-5.6zM44.6 255.6h5.6v1.05h-5.6zM44.6 257.6h5.6v1.05h-5.6zM44.6 259.6h11.2v1.05h-11.2zM44.6 260.6h11.2v1.05h-11.2zM50.2 261.6h5.6v1.05h-5.6zM44.6 262.6h5.6v1.05h-5.6zM55.7 263.6h5.6v1.05h-5.6zM44.6 265.6h5.6v1.05h-5.6zM78.0 265.6h16.1v1.05h-16.1zM61.3 266.6h11.2v1.05h-11.2zM78.0 266.6h16.1v1.05h-16.1zM61.3 267.6h5.6v1.05h-5.6zM72.4 267.6h5.6v1.05h-5.6zM44.6 272.6h5.6v1.05h-5.6zM55.7 272.6h5.6v1.05h-5.6zM44.6 273.6h11.2v1.05h-11.2zM55.7 274.6h5.6v1.05h-5.6zM44.6 275.6h5.6v1.05h-5.6zM44.6 277.6h5.6v1.05h-5.6zM50.2 280.6h5.6v1.05h-5.6zM50.2 281.6h5.6v1.05h-5.6zM44.6 282.6h5.6v1.05h-5.6zM50.2 284.6h5.6v1.05h-5.6zM50.2 286.6h5.6v1.05h-5.6zM50.2 290.6h5.6v1.05h-5.6zM50.2 293.6h5.6v1.05h-5.6zM44.6 294.6h5.6v1.05h-5.6zM50.2 295.6h5.6v1.05h-5.6zM50.2 296.6h5.6v1.05h-5.6zM66.9 298.6h5.6v1.05h-5.6zM61.3 299.6h16.8v1.05h-16.8zM50.2 301.6h5.6v1.05h-5.6zM50.2 302.6h5.6v1.05h-5.6zM44.6 303.6h5.6v1.05h-5.6zM44.6 304.6h5.6v1.05h-5.6zM44.6 307.6h11.2v1.05h-11.2zM55.7 308.6h5.6v1.05h-5.6zM44.6 310.7h5.6v1.05h-5.6zM44.6 313.7h5.6v1.05h-5.6zM55.7 313.7h5.6v1.05h-5.6zM44.6 314.7h5.6v1.05h-5.6zM61.3 314.7h5.6v1.05h-5.6zM78.0 314.7h10.7v1.05h-10.7zM44.6 315.7h5.6v1.05h-5.6zM66.9 315.7h5.6v1.05h-5.6zM44.6 316.7h5.6v1.05h-5.6zM66.9 316.7h5.6v1.05h-5.6zM44.6 317.7h5.6v1.05h-5.6zM44.6 318.7h5.6v1.05h-5.6zM50.2 321.7h5.6v1.05h-5.6zM44.6 322.7h5.6v1.05h-5.6zM50.2 323.7h5.6v1.05h-5.6zM55.7 325.7h5.6v1.05h-5.6zM50.2 326.7h5.6v1.05h-5.6zM50.2 329.7h5.6v1.05h-5.6zM61.3 329.7h11.2v1.05h-11.2zM61.3 330.7h5.6v1.05h-5.6zM72.4 330.7h5.6v1.05h-5.6zM50.2 331.7h5.6v1.05h-5.6zM66.9 331.7h27.2v1.05h-27.2zM44.6 332.7h11.2v1.05h-11.2zM44.6 334.7h5.6v1.05h-5.6zM44.6 335.7h5.6v1.05h-5.6zM50.2 337.7h5.6v1.05h-5.6zM50.2 343.7h5.6v1.05h-5.6zM121.4 203.5h22.1v1.05h-22.1zM95.0 204.5h5.1v1.05h-5.1zM95.0 206.5h5.1v1.05h-5.1zM105.1 206.5h32.8v1.05h-32.8zM105.1 209.5h5.1v1.05h-5.1zM105.1 210.5h5.1v1.05h-5.1zM110.2 211.5h5.6v1.05h-5.6zM121.4 211.5h5.6v1.05h-5.6zM137.9 211.5h5.5v1.05h-5.5zM105.1 215.5h5.1v1.05h-5.1zM132.5 217.5h5.5v1.05h-5.5zM95.0 218.5h5.1v1.05h-5.1zM127.0 218.5h5.5v1.05h-5.5zM127.0 219.5h5.5v1.05h-5.5zM127.0 220.5h16.5v1.05h-16.5zM132.5 221.5h5.5v1.05h-5.5zM137.9 222.5h5.5v1.05h-5.5zM95.0 225.5h5.1v1.05h-5.1zM105.1 229.5h5.1v1.05h-5.1zM105.1 232.5h5.1v1.05h-5.1zM105.1 233.5h5.1v1.05h-5.1zM105.1 234.5h5.1v1.05h-5.1zM95.0 239.6h5.1v1.05h-5.1zM105.1 240.6h5.1v1.05h-5.1zM127.0 245.6h16.5v1.05h-16.5zM105.1 247.6h5.1v1.05h-5.1zM110.2 248.6h33.2v1.05h-33.2zM100.1 250.6h5.1v1.05h-5.1zM105.1 253.6h5.1v1.05h-5.1zM105.1 258.6h5.1v1.05h-5.1zM105.1 260.6h5.1v1.05h-5.1zM95.0 263.6h5.1v1.05h-5.1zM95.0 267.6h5.1v1.05h-5.1zM105.1 267.6h5.1v1.05h-5.1zM95.0 268.6h5.1v1.05h-5.1zM100.1 269.6h5.1v1.05h-5.1zM95.0 271.6h5.1v1.05h-5.1zM95.0 277.6h5.1v1.05h-5.1zM105.1 277.6h5.1v1.05h-5.1zM95.0 279.6h5.1v1.05h-5.1zM105.1 283.6h5.1v1.05h-5.1zM95.0 286.6h5.1v1.05h-5.1zM95.0 287.6h5.1v1.05h-5.1zM95.0 288.6h5.1v1.05h-5.1zM110.2 290.6h27.8v1.05h-27.8zM95.0 293.6h5.1v1.05h-5.1zM95.0 296.6h5.1v1.05h-5.1zM115.8 298.6h11.3v1.05h-11.3zM95.0 300.6h5.1v1.05h-5.1zM110.2 300.6h5.6v1.05h-5.6zM95.0 301.6h5.1v1.05h-5.1zM95.0 304.6h5.1v1.05h-5.1zM105.1 306.6h5.1v1.05h-5.1zM95.0 307.6h5.1v1.05h-5.1zM127.0 314.7h5.5v1.05h-5.5zM95.0 321.7h5.1v1.05h-5.1zM95.0 322.7h5.1v1.05h-5.1zM105.1 322.7h5.1v1.05h-5.1zM95.0 327.7h5.1v1.05h-5.1zM100.1 329.7h5.1v1.05h-5.1zM105.1 330.7h27.4v1.05h-27.4zM95.0 331.7h5.1v1.05h-5.1zM110.2 332.7h33.2v1.05h-33.2zM100.1 334.7h5.1v1.05h-5.1zM121.4 336.7h5.6v1.05h-5.6zM110.2 337.7h16.8v1.05h-16.8zM132.5 337.7h11.0v1.05h-11.0zM95.0 343.7h5.1v1.05h-5.1zM154.6 205.5h5.1v1.05h-5.1zM144.5 206.5h5.1v1.05h-5.1zM144.5 208.5h5.1v1.05h-5.1zM149.6 209.5h5.1v1.05h-5.1zM144.5 210.5h5.1v1.05h-5.1zM154.6 210.5h5.1v1.05h-5.1zM144.5 211.5h10.2v1.05h-10.2zM144.5 213.5h5.1v1.05h-5.1zM170.8 214.5h11.1v1.05h-11.1zM159.7 216.5h5.6v1.05h-5.6zM170.8 216.5h5.6v1.05h-5.6zM181.9 216.5h11.0v1.05h-11.0zM159.7 217.5h33.2v1.05h-33.2zM144.5 218.5h5.1v1.05h-5.1zM154.6 218.5h5.1v1.05h-5.1zM181.9 218.5h11.0v1.05h-11.0zM154.6 219.5h5.1v1.05h-5.1zM144.5 220.5h5.1v1.05h-5.1zM154.6 220.5h21.8v1.05h-21.8zM181.9 220.5h11.0v1.05h-11.0zM176.4 221.5h11.0v1.05h-11.0zM149.6 222.5h5.1v1.05h-5.1zM144.5 224.5h5.1v1.05h-5.1zM144.5 225.5h5.1v1.05h-5.1zM149.6 227.5h10.2v1.05h-10.2zM154.6 228.5h5.1v1.05h-5.1zM154.6 229.5h5.1v1.05h-5.1zM149.6 231.5h10.2v1.05h-10.2zM144.5 232.5h5.1v1.05h-5.1zM154.6 232.5h10.7v1.05h-10.7zM187.3 234.5h5.5v1.05h-5.5zM144.5 237.5h5.1v1.05h-5.1zM144.5 239.6h5.1v1.05h-5.1zM144.5 240.6h5.1v1.05h-5.1zM149.6 241.6h5.1v1.05h-5.1zM149.6 246.6h5.1v1.05h-5.1zM149.6 247.6h5.1v1.05h-5.1zM154.6 249.6h5.1v1.05h-5.1zM149.6 250.6h5.1v1.05h-5.1zM144.5 251.6h5.1v1.05h-5.1zM144.5 252.6h5.1v1.05h-5.1zM165.3 254.6h5.6v1.05h-5.6zM154.6 256.6h5.1v1.05h-5.1zM149.6 257.6h10.2v1.05h-10.2zM144.5 259.6h5.1v1.05h-5.1zM154.6 259.6h5.1v1.05h-5.1zM154.6 264.6h5.1v1.05h-5.1zM149.6 265.6h5.1v1.05h-5.1zM149.6 266.6h5.1v1.05h-5.1zM159.7 266.6h5.6v1.05h-5.6zM181.9 266.6h5.5v1.05h-5.5zM149.6 268.6h10.2v1.05h-10.2zM149.6 269.6h5.1v1.05h-5.1zM154.6 271.6h5.1v1.05h-5.1zM144.5 274.6h5.1v1.05h-5.1zM149.6 275.6h10.2v1.05h-10.2zM144.5 277.6h5.1v1.05h-5.1zM149.6 278.6h5.1v1.05h-5.1zM144.5 287.6h5.1v1.05h-5.1zM144.5 289.6h5.1v1.05h-5.1zM154.6 290.6h5.1v1.05h-5.1zM154.6 292.6h5.1v1.05h-5.1zM149.6 295.6h5.1v1.05h-5.1zM149.6 297.6h5.1v1.05h-5.1zM149.6 299.6h5.1v1.05h-5.1zM144.5 301.6h5.1v1.05h-5.1zM154.6 301.6h5.1v1.05h-5.1zM149.6 302.6h5.1v1.05h-5.1zM154.6 303.6h5.1v1.05h-5.1zM149.6 304.6h5.1v1.05h-5.1zM149.6 309.6h5.1v1.05h-5.1zM144.5 311.7h10.2v1.05h-10.2zM144.5 312.7h5.1v1.05h-5.1zM144.5 313.7h10.2v1.05h-10.2zM149.6 314.7h5.1v1.05h-5.1zM144.5 316.7h5.1v1.05h-5.1zM154.6 318.7h5.1v1.05h-5.1zM144.5 319.7h5.1v1.05h-5.1zM154.6 321.7h5.1v1.05h-5.1zM144.5 323.7h5.1v1.05h-5.1zM154.6 325.7h5.1v1.05h-5.1zM149.6 326.7h5.1v1.05h-5.1zM149.6 328.7h5.1v1.05h-5.1zM149.6 329.7h10.2v1.05h-10.2zM149.6 333.7h10.2v1.05h-10.2zM154.6 335.7h5.1v1.05h-5.1zM144.5 336.7h5.1v1.05h-5.1zM149.6 340.7h5.1v1.05h-5.1zM149.6 342.7h5.1v1.05h-5.1zM144.5 343.7h10.2v1.05h-10.2z"/>
<path fill="#1a0303" d="M44.6 143.7h5.6v1.06h-5.6zM44.6 145.7h5.6v1.06h-5.6zM44.6 147.7h5.6v1.06h-5.6zM55.7 149.7h5.6v1.06h-5.6zM61.3 150.7h5.6v1.06h-5.6zM72.4 150.7h5.6v1.06h-5.6zM88.7 150.7h5.4v1.06h-5.4zM44.6 151.7h5.6v1.06h-5.6zM66.9 151.7h11.2v1.06h-11.2zM83.3 151.7h5.4v1.06h-5.4zM50.2 154.8h5.6v1.06h-5.6zM44.6 155.8h5.6v1.06h-5.6zM55.7 158.8h5.6v1.06h-5.6zM83.3 168.8h5.4v1.06h-5.4zM55.7 169.8h5.6v1.06h-5.6zM55.7 172.9h5.6v1.06h-5.6zM50.2 178.9h5.6v1.06h-5.6zM55.7 179.9h5.6v1.06h-5.6zM61.3 184.9h16.8v1.06h-16.8zM72.4 185.9h10.9v1.06h-10.9zM88.7 185.9h5.4v1.06h-5.4zM61.3 187.9h5.6v1.06h-5.6zM72.4 187.9h5.6v1.06h-5.6zM61.3 189.9h11.2v1.06h-11.2zM55.7 197.0h5.6v1.06h-5.6zM61.3 201.0h5.6v1.06h-5.6zM110.2 142.7h5.6v1.06h-5.6zM105.1 145.7h5.1v1.06h-5.1zM95.0 146.7h5.1v1.06h-5.1zM115.8 146.7h11.3v1.06h-11.3zM105.1 147.7h5.1v1.06h-5.1zM95.0 150.7h5.1v1.06h-5.1zM121.4 151.7h11.1v1.06h-11.1zM137.9 151.7h5.5v1.06h-5.5zM110.2 152.8h16.8v1.06h-16.8zM127.0 153.8h16.5v1.06h-16.5zM95.0 154.8h5.1v1.06h-5.1zM105.1 154.8h5.1v1.06h-5.1zM115.8 156.8h11.3v1.06h-11.3zM110.2 162.8h11.2v1.06h-11.2zM105.1 169.8h5.1v1.06h-5.1zM115.8 169.8h5.6v1.06h-5.6zM100.1 170.8h5.1v1.06h-5.1zM127.0 173.9h5.5v1.06h-5.5zM137.9 173.9h5.5v1.06h-5.5zM127.0 174.9h16.5v1.06h-16.5zM121.4 175.9h5.6v1.06h-5.6zM127.0 181.9h5.5v1.06h-5.5zM95.0 184.9h5.1v1.06h-5.1zM100.1 187.9h5.1v1.06h-5.1zM95.0 190.9h5.1v1.06h-5.1zM115.8 190.9h5.6v1.06h-5.6zM100.1 193.0h5.1v1.06h-5.1zM110.2 196.0h5.6v1.06h-5.6zM127.0 196.0h5.5v1.06h-5.5zM100.1 197.0h10.2v1.06h-10.2zM154.6 146.7h5.1v1.06h-5.1zM144.5 147.7h5.1v1.06h-5.1zM149.6 151.7h5.1v1.06h-5.1zM144.5 152.8h5.1v1.06h-5.1zM144.5 155.8h5.1v1.06h-5.1zM144.5 160.8h5.1v1.06h-5.1zM176.4 160.8h5.5v1.06h-5.5zM187.3 160.8h5.5v1.06h-5.5zM154.6 161.8h5.1v1.06h-5.1zM181.9 161.8h11.0v1.06h-11.0zM154.6 164.8h5.1v1.06h-5.1zM144.5 165.8h10.2v1.06h-10.2zM159.7 166.8h16.8v1.06h-16.8zM159.7 167.8h11.2v1.06h-11.2zM144.5 169.8h5.1v1.06h-5.1zM154.6 173.9h5.1v1.06h-5.1zM144.5 178.9h15.2v1.06h-15.2zM144.5 183.9h5.1v1.06h-5.1zM165.3 186.9h11.2v1.06h-11.2zM187.3 186.9h5.5v1.06h-5.5zM170.8 191.9h5.6v1.06h-5.6zM181.9 191.9h5.5v1.06h-5.5zM159.7 193.0h33.2v1.06h-33.2zM149.6 194.0h10.2v1.06h-10.2zM149.6 196.0h5.1v1.06h-5.1zM149.6 198.0h5.1v1.06h-5.1zM144.5 201.0h5.1v1.06h-5.1zM55.7 206.5h5.6v1.05h-5.6zM44.6 207.5h11.2v1.05h-11.2zM50.2 210.5h5.6v1.05h-5.6zM50.2 213.5h11.2v1.05h-11.2zM55.7 219.5h5.6v1.05h-5.6zM55.7 220.5h5.6v1.05h-5.6zM44.6 223.5h5.6v1.05h-5.6zM55.7 223.5h5.6v1.05h-5.6zM50.2 225.5h5.6v1.05h-5.6zM44.6 228.5h5.6v1.05h-5.6zM44.6 234.5h5.6v1.05h-5.6zM50.2 236.5h5.6v1.05h-5.6zM55.7 238.5h5.6v1.05h-5.6zM44.6 240.6h5.6v1.05h-5.6zM55.7 240.6h5.6v1.05h-5.6zM44.6 241.6h5.6v1.05h-5.6zM55.7 248.6h5.6v1.05h-5.6zM55.7 253.6h5.6v1.05h-5.6zM50.2 255.6h11.2v1.05h-11.2zM50.2 257.6h5.6v1.05h-5.6zM44.6 258.6h5.6v1.05h-5.6zM55.7 258.6h5.6v1.05h-5.6zM55.7 259.6h5.6v1.05h-5.6zM55.7 265.6h5.6v1.05h-5.6zM55.7 267.6h5.6v1.05h-5.6zM50.2 270.6h11.2v1.05h-11.2zM55.7 271.6h5.6v1.05h-5.6zM44.6 274.6h11.2v1.05h-11.2zM55.7 275.6h5.6v1.05h-5.6zM44.6 278.6h5.6v1.05h-5.6zM50.2 279.6h11.2v1.05h-11.2zM44.6 283.6h5.6v1.05h-5.6zM44.6 285.6h5.6v1.05h-5.6zM55.7 285.6h5.6v1.05h-5.6zM44.6 286.6h5.6v1.05h-5.6zM44.6 287.6h5.6v1.05h-5.6zM44.6 293.6h5.6v1.05h-5.6zM55.7 296.6h5.6v1.05h-5.6zM55.7 300.6h5.6v1.05h-5.6zM44.6 301.6h5.6v1.05h-5.6zM55.7 302.6h5.6v1.05h-5.6zM50.2 303.6h11.2v1.05h-11.2zM55.7 304.6h5.6v1.05h-5.6zM44.6 306.6h11.2v1.05h-11.2zM50.2 308.6h5.6v1.05h-5.6zM50.2 313.7h5.6v1.05h-5.6zM50.2 316.7h5.6v1.05h-5.6zM55.7 317.7h5.6v1.05h-5.6zM50.2 318.7h5.6v1.05h-5.6zM44.6 321.7h5.6v1.05h-5.6zM44.6 323.7h5.6v1.05h-5.6zM44.6 326.7h5.6v1.05h-5.6zM44.6 328.7h5.6v1.05h-5.6zM55.7 330.7h5.6v1.05h-5.6zM55.7 333.7h5.6v1.05h-5.6zM55.7 336.7h5.6v1.05h-5.6zM44.6 338.7h5.6v1.05h-5.6zM44.6 339.7h5.6v1.05h-5.6zM50.2 340.7h5.6v1.05h-5.6zM55.7 341.7h5.6v1.05h-5.6zM95.0 203.5h5.1v1.05h-5.1zM95.0 205.5h5.1v1.05h-5.1zM95.0 207.5h5.1v1.05h-5.1zM105.1 207.5h5.1v1.05h-5.1zM105.1 208.5h5.1v1.05h-5.1zM105.1 212.5h5.1v1.05h-5.1zM100.1 214.5h5.1v1.05h-5.1zM95.0 215.5h5.1v1.05h-5.1zM95.0 216.5h5.1v1.05h-5.1zM105.1 217.5h5.1v1.05h-5.1zM105.1 218.5h5.1v1.05h-5.1zM95.0 219.5h5.1v1.05h-5.1zM95.0 220.5h5.1v1.05h-5.1zM105.1 220.5h5.1v1.05h-5.1zM95.0 221.5h5.1v1.05h-5.1zM95.0 222.5h5.1v1.05h-5.1zM95.0 223.5h5.1v1.05h-5.1zM95.0 224.5h5.1v1.05h-5.1zM105.1 227.5h5.1v1.05h-5.1zM105.1 228.5h5.1v1.05h-5.1zM95.0 229.5h5.1v1.05h-5.1zM105.1 235.5h5.1v1.05h-5.1zM105.1 236.5h5.1v1.05h-5.1zM105.1 237.5h5.1v1.05h-5.1zM100.1 238.5h10.2v1.05h-10.2zM105.1 239.6h5.1v1.05h-5.1zM95.0 240.6h5.1v1.05h-5.1zM105.1 242.6h5.1v1.05h-5.1zM95.0 243.6h5.1v1.05h-5.1zM105.1 243.6h5.1v1.05h-5.1zM95.0 244.6h5.1v1.05h-5.1zM95.0 245.6h5.1v1.05h-5.1zM105.1 246.6h5.1v1.05h-5.1zM95.0 250.6h5.1v1.05h-5.1zM105.1 251.6h5.1v1.05h-5.1zM100.1 252.6h5.1v1.05h-5.1zM100.1 254.6h5.1v1.05h-5.1zM100.1 255.6h10.2v1.05h-10.2zM95.0 257.6h5.1v1.05h-5.1zM105.1 257.6h5.1v1.05h-5.1zM95.0 258.6h5.1v1.05h-5.1zM100.1 259.6h10.2v1.05h-10.2zM100.1 260.6h5.1v1.05h-5.1zM100.1 262.6h5.1v1.05h-5.1zM95.0 264.6h5.1v1.05h-5.1zM100.1 265.6h5.1v1.05h-5.1zM100.1 270.6h10.2v1.05h-10.2zM100.1 271.6h5.1v1.05h-5.1zM105.1 272.6h5.1v1.05h-5.1zM100.1 273.6h5.1v1.05h-5.1zM95.0 276.6h5.1v1.05h-5.1zM105.1 278.6h5.1v1.05h-5.1zM95.0 281.6h5.1v1.05h-5.1zM95.0 282.6h5.1v1.05h-5.1zM95.0 283.6h5.1v1.05h-5.1zM100.1 285.6h5.1v1.05h-5.1zM105.1 286.6h5.1v1.05h-5.1zM105.1 290.6h5.1v1.05h-5.1zM95.0 291.6h5.1v1.05h-5.1zM95.0 292.6h5.1v1.05h-5.1zM100.1 293.6h10.2v1.05h-10.2zM100.1 296.6h5.1v1.05h-5.1zM105.1 297.6h5.1v1.05h-5.1zM105.1 299.6h5.1v1.05h-5.1zM105.1 300.6h5.1v1.05h-5.1zM95.0 303.6h10.2v1.05h-10.2zM105.1 304.6h5.1v1.05h-5.1zM105.1 305.6h5.1v1.05h-5.1zM95.0 306.6h5.1v1.05h-5.1zM100.1 307.6h5.1v1.05h-5.1zM100.1 308.6h5.1v1.05h-5.1zM105.1 309.6h5.1v1.05h-5.1zM95.0 310.7h5.1v1.05h-5.1zM95.0 311.7h5.1v1.05h-5.1zM100.1 312.7h5.1v1.05h-5.1zM95.0 313.7h5.1v1.05h-5.1zM95.0 314.7h5.1v1.05h-5.1zM100.1 315.7h5.1v1.05h-5.1zM95.0 316.7h5.1v1.05h-5.1zM100.1 317.7h5.1v1.05h-5.1zM100.1 318.7h5.1v1.05h-5.1zM95.0 319.7h5.1v1.05h-5.1zM95.0 320.7h5.1v1.05h-5.1zM105.1 320.7h5.1v1.05h-5.1zM100.1 321.7h10.2v1.05h-10.2zM95.0 323.7h5.1v1.05h-5.1zM100.1 325.7h10.2v1.05h-10.2zM105.1 326.7h5.1v1.05h-5.1zM95.0 328.7h10.2v1.05h-10.2zM105.1 329.7h5.1v1.05h-5.1zM95.0 330.7h5.1v1.05h-5.1zM100.1 332.7h5.1v1.05h-5.1zM100.1 336.7h5.1v1.05h-5.1zM100.1 337.7h5.1v1.05h-5.1zM100.1 339.7h5.1v1.05h-5.1zM105.1 340.7h5.1v1.05h-5.1zM105.1 343.7h5.1v1.05h-5.1zM95.0 344.7h5.1v1.05h-5.1zM149.6 203.5h10.2v1.05h-10.2zM149.6 204.5h5.1v1.05h-5.1zM144.5 205.5h5.1v1.05h-5.1zM149.6 206.5h5.1v1.05h-5.1zM154.6 207.5h5.1v1.05h-5.1zM154.6 213.5h5.1v1.05h-5.1zM144.5 214.5h5.1v1.05h-5.1zM154.6 216.5h5.1v1.05h-5.1zM154.6 217.5h5.1v1.05h-5.1zM144.5 223.5h5.1v1.05h-5.1zM144.5 227.5h5.1v1.05h-5.1zM144.5 229.5h5.1v1.05h-5.1zM154.6 230.5h5.1v1.05h-5.1zM149.6 234.5h10.2v1.05h-10.2zM149.6 235.5h5.1v1.05h-5.1zM149.6 237.5h5.1v1.05h-5.1zM149.6 239.6h5.1v1.05h-5.1zM144.5 242.6h5.1v1.05h-5.1zM154.6 244.6h5.1v1.05h-5.1zM149.6 245.6h5.1v1.05h-5.1zM144.5 248.6h5.1v1.05h-5.1zM154.6 248.6h5.1v1.05h-5.1zM144.5 249.6h10.2v1.05h-10.2zM144.5 250.6h5.1v1.05h-5.1zM149.6 251.6h5.1v1.05h-5.1zM144.5 253.6h5.1v1.05h-5.1zM154.6 258.6h5.1v1.05h-5.1zM149.6 259.6h5.1v1.05h-5.1zM149.6 261.6h5.1v1.05h-5.1zM149.6 262.6h5.1v1.05h-5.1zM154.6 267.6h5.1v1.05h-5.1zM144.5 268.6h5.1v1.05h-5.1zM144.5 271.6h5.1v1.05h-5.1zM149.6 273.6h10.2v1.05h-10.2zM144.5 275.6h5.1v1.05h-5.1zM144.5 279.6h5.1v1.05h-5.1zM154.6 280.6h5.1v1.05h-5.1zM144.5 281.6h5.1v1.05h-5.1zM154.6 281.6h5.1v1.05h-5.1zM149.6 283.6h5.1v1.05h-5.1zM144.5 284.6h5.1v1.05h-5.1zM149.6 286.6h10.2v1.05h-10.2zM149.6 287.6h5.1v1.05h-5.1zM149.6 294.6h5.1v1.05h-5.1zM149.6 296.6h5.1v1.05h-5.1zM144.5 297.6h5.1v1.05h-5.1zM154.6 298.6h5.1v1.05h-5.1zM154.6 300.6h5.1v1.05h-5.1zM144.5 305.6h5.1v1.05h-5.1zM149.6 306.6h5.1v1.05h-5.1zM154.6 310.7h5.1v1.05h-5.1zM154.6 312.7h5.1v1.05h-5.1zM154.6 313.7h5.1v1.05h-5.1zM144.5 314.7h5.1v1.05h-5.1zM144.5 317.7h5.1v1.05h-5.1zM149.6 318.7h5.1v1.05h-5.1zM149.6 319.7h10.2v1.05h-10.2zM149.6 320.7h5.1v1.05h-5.1zM149.6 322.7h5.1v1.05h-5.1zM149.6 323.7h5.1v1.05h-5.1zM149.6 331.7h5.1v1.05h-5.1zM154.6 336.7h5.1v1.05h-5.1zM144.5 338.7h5.1v1.05h-5.1zM154.6 341.7h5.1v1.05h-5.1zM149.6 344.7h5.1v1.05h-5.1z"/>
<path fill="#350607" d="M78.0 144.7h16.1v1.06h-16.1zM61.3 148.7h16.8v1.06h-16.8zM88.7 148.7h5.4v1.06h-5.4zM61.3 149.7h5.6v1.06h-5.6zM83.3 149.7h5.4v1.06h-5.4zM66.9 150.7h5.6v1.06h-5.6zM83.3 150.7h5.4v1.06h-5.4zM61.3 151.7h5.6v1.06h-5.6zM61.3 154.8h5.6v1.06h-5.6zM83.3 154.8h10.7v1.06h-10.7zM78.0 155.8h5.4v1.06h-5.4zM78.0 156.8h10.7v1.06h-10.7zM72.4 162.8h21.6v1.06h-21.6zM66.9 168.8h11.2v1.06h-11.2zM83.3 182.9h5.4v1.06h-5.4zM66.9 187.9h5.6v1.06h-5.6zM78.0 187.9h16.1v1.06h-16.1zM61.3 188.9h5.6v1.06h-5.6zM61.3 193.0h5.6v1.06h-5.6zM72.4 193.0h5.6v1.06h-5.6zM61.3 199.0h5.6v1.06h-5.6zM66.9 201.0h27.2v1.06h-27.2zM115.8 142.7h27.7v1.06h-27.7zM110.2 146.7h5.6v1.06h-5.6zM110.2 148.7h22.3v1.06h-22.3zM137.9 148.7h5.5v1.06h-5.5zM110.2 151.7h11.2v1.06h-11.2zM132.5 151.7h5.5v1.06h-5.5zM132.5 152.8h11.0v1.06h-11.0zM110.2 153.8h16.8v1.06h-16.8zM115.8 155.8h27.7v1.06h-27.7zM110.2 156.8h5.6v1.06h-5.6zM127.0 156.8h5.5v1.06h-5.5zM121.4 157.8h5.6v1.06h-5.6zM121.4 162.8h5.6v1.06h-5.6zM132.5 162.8h11.0v1.06h-11.0zM127.0 166.8h5.5v1.06h-5.5zM110.2 169.8h5.6v1.06h-5.6zM121.4 169.8h22.1v1.06h-22.1zM110.2 170.8h5.6v1.06h-5.6zM132.5 170.8h5.5v1.06h-5.5zM110.2 171.8h33.2v1.06h-33.2zM110.2 173.9h11.2v1.06h-11.2zM110.2 175.9h11.2v1.06h-11.2zM110.2 179.9h33.2v1.06h-33.2zM110.2 181.9h5.6v1.06h-5.6zM121.4 181.9h5.6v1.06h-5.6zM132.5 181.9h11.0v1.06h-11.0zM115.8 189.9h5.6v1.06h-5.6zM127.0 189.9h5.5v1.06h-5.5zM110.2 190.9h5.6v1.06h-5.6zM121.4 190.9h16.6v1.06h-16.6zM115.8 196.0h5.6v1.06h-5.6zM132.5 196.0h11.0v1.06h-11.0zM110.2 199.0h5.6v1.06h-5.6zM121.4 199.0h11.1v1.06h-11.1zM137.9 199.0h5.5v1.06h-5.5zM127.0 201.0h16.5v1.06h-16.5zM165.3 160.8h5.6v1.06h-5.6zM159.7 161.8h22.2v1.06h-22.2zM176.4 162.8h16.5v1.06h-16.5zM159.7 165.8h16.8v1.06h-16.8zM176.4 166.8h16.5v1.06h-16.5zM170.8 167.8h5.6v1.06h-5.6zM159.7 179.9h16.8v1.06h-16.8zM181.9 179.9h5.5v1.06h-5.5zM181.9 180.9h5.5v1.06h-5.5zM181.9 188.9h5.5v1.06h-5.5zM165.3 195.0h5.6v1.06h-5.6zM176.4 195.0h11.0v1.06h-11.0zM159.7 197.0h16.8v1.06h-16.8zM159.7 200.0h11.2v1.06h-11.2zM159.7 201.0h5.6v1.06h-5.6zM55.7 214.5h5.6v1.05h-5.6zM55.7 241.6h5.6v1.05h-5.6zM50.2 264.6h5.6v1.05h-5.6zM55.7 286.6h5.6v1.05h-5.6zM55.7 290.6h5.6v1.05h-5.6zM55.7 298.6h5.6v1.05h-5.6zM55.7 307.6h5.6v1.05h-5.6zM100.1 205.5h10.2v1.05h-10.2zM100.1 213.5h5.1v1.05h-5.1zM100.1 224.5h5.1v1.05h-5.1zM100.1 227.5h5.1v1.05h-5.1zM100.1 235.5h5.1v1.05h-5.1zM100.1 236.5h5.1v1.05h-5.1zM100.1 245.6h5.1v1.05h-5.1zM100.1 251.6h5.1v1.05h-5.1zM95.0 259.6h5.1v1.05h-5.1zM100.1 264.6h5.1v1.05h-5.1zM100.1 268.6h5.1v1.05h-5.1zM100.1 275.6h5.1v1.05h-5.1zM100.1 280.6h5.1v1.05h-5.1zM100.1 287.6h5.1v1.05h-5.1zM105.1 288.6h5.1v1.05h-5.1zM100.1 292.6h5.1v1.05h-5.1zM100.1 294.6h5.1v1.05h-5.1zM95.0 299.6h5.1v1.05h-5.1zM100.1 300.6h5.1v1.05h-5.1zM100.1 301.6h5.1v1.05h-5.1zM105.1 302.6h5.1v1.05h-5.1zM100.1 306.6h5.1v1.05h-5.1zM100.1 309.6h5.1v1.05h-5.1zM100.1 314.7h5.1v1.05h-5.1zM100.1 319.7h5.1v1.05h-5.1zM100.1 320.7h5.1v1.05h-5.1zM100.1 322.7h5.1v1.05h-5.1zM100.1 326.7h5.1v1.05h-5.1zM100.1 331.7h5.1v1.05h-5.1zM105.1 334.7h5.1v1.05h-5.1zM100.1 335.7h5.1v1.05h-5.1zM100.1 340.7h5.1v1.05h-5.1zM100.1 342.7h5.1v1.05h-5.1zM154.6 214.5h5.1v1.05h-5.1zM144.5 264.6h5.1v1.05h-5.1zM149.6 272.6h5.1v1.05h-5.1zM144.5 283.6h5.1v1.05h-5.1zM154.6 320.7h5.1v1.05h-5.1zM154.6 344.7h5.1v1.05h-5.1z"/>
<path fill="#4f0a0b" d="M78.0 148.7h10.7v1.06h-10.7zM66.9 149.7h16.5v1.06h-16.5zM88.7 149.7h5.4v1.06h-5.4zM83.3 152.8h10.7v1.06h-10.7zM66.9 154.8h16.5v1.06h-16.5zM61.3 155.8h16.8v1.06h-16.8zM83.3 155.8h10.7v1.06h-10.7zM66.9 156.8h11.2v1.06h-11.2zM88.7 156.8h5.4v1.06h-5.4zM61.3 162.8h11.2v1.06h-11.2zM61.3 168.8h5.6v1.06h-5.6zM78.0 168.8h5.4v1.06h-5.4zM88.7 168.8h5.4v1.06h-5.4zM78.0 182.9h5.4v1.06h-5.4zM88.7 182.9h5.4v1.06h-5.4zM66.9 188.9h11.2v1.06h-11.2zM83.3 188.9h10.7v1.06h-10.7zM78.0 189.9h16.1v1.06h-16.1zM66.9 193.0h5.6v1.06h-5.6zM78.0 193.0h10.7v1.06h-10.7zM66.9 199.0h11.2v1.06h-11.2zM61.3 200.0h22.1v1.06h-22.1zM88.7 200.0h5.4v1.06h-5.4zM127.0 146.7h16.5v1.06h-16.5zM132.5 148.7h5.5v1.06h-5.5zM127.0 152.8h5.5v1.06h-5.5zM110.2 155.8h5.6v1.06h-5.6zM132.5 156.8h11.0v1.06h-11.0zM110.2 157.8h11.2v1.06h-11.2zM127.0 157.8h16.5v1.06h-16.5zM127.0 162.8h5.5v1.06h-5.5zM121.4 166.8h5.6v1.06h-5.6zM132.5 166.8h11.0v1.06h-11.0zM121.4 168.8h5.6v1.06h-5.6zM115.8 170.8h16.7v1.06h-16.7zM137.9 170.8h5.5v1.06h-5.5zM121.4 173.9h5.6v1.06h-5.6zM127.0 175.9h5.5v1.06h-5.5zM115.8 181.9h5.6v1.06h-5.6zM110.2 182.9h5.6v1.06h-5.6zM127.0 182.9h11.0v1.06h-11.0zM110.2 189.9h5.6v1.06h-5.6zM121.4 189.9h5.6v1.06h-5.6zM132.5 189.9h11.0v1.06h-11.0zM137.9 190.9h5.5v1.06h-5.5zM121.4 196.0h5.6v1.06h-5.6zM115.8 199.0h5.6v1.06h-5.6zM132.5 199.0h5.5v1.06h-5.5zM159.7 150.7h5.6v1.06h-5.6zM176.4 150.7h16.5v1.06h-16.5zM159.7 151.7h5.6v1.06h-5.6zM187.3 151.7h5.5v1.06h-5.5zM159.7 153.8h5.6v1.06h-5.6zM176.4 153.8h5.5v1.06h-5.5zM159.7 154.8h5.6v1.06h-5.6zM170.8 154.8h5.6v1.06h-5.6zM159.7 160.8h5.6v1.06h-5.6zM170.8 160.8h5.6v1.06h-5.6zM176.4 167.8h16.5v1.06h-16.5zM170.8 177.9h5.6v1.06h-5.6zM176.4 179.9h5.5v1.06h-5.5zM187.3 179.9h5.5v1.06h-5.5zM159.7 180.9h22.2v1.06h-22.2zM187.3 180.9h5.5v1.06h-5.5zM176.4 182.9h5.5v1.06h-5.5zM187.3 182.9h5.5v1.06h-5.5zM159.7 188.9h22.2v1.06h-22.2zM187.3 188.9h5.5v1.06h-5.5zM181.9 189.9h5.5v1.06h-5.5zM187.3 190.9h5.5v1.06h-5.5zM176.4 194.0h16.5v1.06h-16.5zM159.7 195.0h5.6v1.06h-5.6zM170.8 195.0h5.6v1.06h-5.6zM187.3 195.0h5.5v1.06h-5.5zM159.7 196.0h22.2v1.06h-22.2zM176.4 197.0h11.0v1.06h-11.0zM170.8 200.0h22.0v1.06h-22.0zM165.3 201.0h27.6v1.06h-27.6zM55.7 204.5h5.6v1.05h-5.6zM55.7 209.5h5.6v1.05h-5.6zM55.7 210.5h5.6v1.05h-5.6zM55.7 217.5h5.6v1.05h-5.6zM55.7 239.6h5.6v1.05h-5.6zM55.7 282.6h5.6v1.05h-5.6zM55.7 288.6h5.6v1.05h-5.6zM55.7 289.6h5.6v1.05h-5.6zM55.7 319.7h5.6v1.05h-5.6zM55.7 320.7h5.6v1.05h-5.6zM55.7 324.7h5.6v1.05h-5.6zM55.7 328.7h5.6v1.05h-5.6zM100.1 220.5h5.1v1.05h-5.1zM100.1 237.5h5.1v1.05h-5.1zM100.1 249.6h5.1v1.05h-5.1zM100.1 253.6h5.1v1.05h-5.1zM100.1 256.6h5.1v1.05h-5.1zM100.1 266.6h5.1v1.05h-5.1zM100.1 274.6h5.1v1.05h-5.1zM100.1 284.6h5.1v1.05h-5.1zM100.1 288.6h5.1v1.05h-5.1zM100.1 304.6h5.1v1.05h-5.1zM100.1 311.7h5.1v1.05h-5.1zM100.1 316.7h5.1v1.05h-5.1zM100.1 327.7h5.1v1.05h-5.1zM100.1 338.7h5.1v1.05h-5.1zM154.6 305.6h5.1v1.05h-5.1zM154.6 306.6h5.1v1.05h-5.1zM154.6 308.6h5.1v1.05h-5.1zM154.6 315.7h5.1v1.05h-5.1zM154.6 326.7h5.1v1.05h-5.1zM154.6 338.7h5.1v1.05h-5.1z"/>
<path fill="#6a0d0e" d="M66.9 142.7h5.6v1.06h-5.6zM72.4 144.7h5.6v1.06h-5.6zM88.7 146.7h5.4v1.06h-5.4zM61.3 152.8h5.6v1.06h-5.6zM78.0 152.8h5.4v1.06h-5.4zM61.3 156.8h5.6v1.06h-5.6zM72.4 165.8h21.6v1.06h-21.6zM61.3 183.9h5.6v1.06h-5.6zM72.4 183.9h5.6v1.06h-5.6zM78.0 184.9h16.1v1.06h-16.1zM78.0 188.9h5.4v1.06h-5.4zM88.7 193.0h5.4v1.06h-5.4zM83.3 199.0h10.7v1.06h-10.7zM83.3 200.0h5.4v1.06h-5.4zM110.2 147.7h11.2v1.06h-11.2zM127.0 150.7h5.5v1.06h-5.5zM110.2 160.8h16.8v1.06h-16.8zM110.2 166.8h11.2v1.06h-11.2zM110.2 167.8h16.8v1.06h-16.8zM110.2 168.8h11.2v1.06h-11.2zM127.0 172.9h16.5v1.06h-16.5zM110.2 174.9h5.6v1.06h-5.6zM132.5 175.9h11.0v1.06h-11.0zM115.8 182.9h11.3v1.06h-11.3zM137.9 182.9h5.5v1.06h-5.5zM115.8 183.9h5.6v1.06h-5.6zM127.0 184.9h16.5v1.06h-16.5zM165.3 147.7h11.2v1.06h-11.2zM187.3 147.7h5.5v1.06h-5.5zM165.3 150.7h5.6v1.06h-5.6zM165.3 151.7h22.1v1.06h-22.1zM165.3 152.8h5.6v1.06h-5.6zM176.4 152.8h5.5v1.06h-5.5zM187.3 152.8h5.5v1.06h-5.5zM165.3 153.8h11.2v1.06h-11.2zM181.9 153.8h11.0v1.06h-11.0zM165.3 154.8h5.6v1.06h-5.6zM176.4 154.8h16.5v1.06h-16.5zM176.4 163.8h16.5v1.06h-16.5zM159.7 174.9h5.6v1.06h-5.6zM176.4 175.9h5.5v1.06h-5.5zM176.4 176.9h11.0v1.06h-11.0zM159.7 177.9h11.2v1.06h-11.2zM176.4 177.9h11.0v1.06h-11.0zM176.4 178.9h16.5v1.06h-16.5zM176.4 181.9h5.5v1.06h-5.5zM159.7 187.9h5.6v1.06h-5.6zM176.4 187.9h16.5v1.06h-16.5zM170.8 189.9h11.1v1.06h-11.1zM187.3 189.9h5.5v1.06h-5.5zM159.7 190.9h5.6v1.06h-5.6zM176.4 190.9h5.5v1.06h-5.5zM159.7 194.0h11.2v1.06h-11.2zM181.9 196.0h11.0v1.06h-11.0zM187.3 197.0h5.5v1.06h-5.5zM55.7 236.5h5.6v1.05h-5.6zM55.7 247.6h5.6v1.05h-5.6zM55.7 260.6h5.6v1.05h-5.6zM55.7 281.6h5.6v1.05h-5.6zM55.7 329.7h5.6v1.05h-5.6zM55.7 332.7h5.6v1.05h-5.6zM100.1 208.5h5.1v1.05h-5.1zM100.1 209.5h5.1v1.05h-5.1zM100.1 258.6h5.1v1.05h-5.1zM100.1 282.6h5.1v1.05h-5.1zM100.1 289.6h5.1v1.05h-5.1zM100.1 298.6h5.1v1.05h-5.1zM100.1 299.6h5.1v1.05h-5.1zM100.1 302.6h5.1v1.05h-5.1zM100.1 333.7h5.1v1.05h-5.1zM154.6 212.5h5.1v1.05h-5.1z"/>
<path fill="#841112" d="M72.4 142.7h5.6v1.06h-5.6zM78.0 143.7h16.1v1.06h-16.1zM61.3 144.7h11.2v1.06h-11.2zM78.0 146.7h10.7v1.06h-10.7zM66.9 147.7h5.6v1.06h-5.6zM88.7 147.7h5.4v1.06h-5.4zM66.9 152.8h11.2v1.06h-11.2zM88.7 157.8h5.4v1.06h-5.4zM61.3 158.8h5.6v1.06h-5.6zM72.4 158.8h5.6v1.06h-5.6zM88.7 158.8h5.4v1.06h-5.4zM61.3 159.8h32.8v1.06h-32.8zM78.0 160.8h10.7v1.06h-10.7zM61.3 165.8h11.2v1.06h-11.2zM61.3 174.9h16.8v1.06h-16.8zM88.7 180.9h5.4v1.06h-5.4zM66.9 181.9h5.6v1.06h-5.6zM83.3 181.9h10.7v1.06h-10.7zM61.3 182.9h16.8v1.06h-16.8zM66.9 183.9h5.6v1.06h-5.6zM78.0 183.9h16.1v1.06h-16.1zM61.3 190.9h5.6v1.06h-5.6zM78.0 190.9h10.7v1.06h-10.7zM66.9 194.0h5.6v1.06h-5.6zM78.0 194.0h16.1v1.06h-16.1zM61.3 195.0h11.2v1.06h-11.2zM61.3 198.0h5.6v1.06h-5.6zM72.4 198.0h5.6v1.06h-5.6zM78.0 199.0h5.4v1.06h-5.4zM110.2 143.7h5.6v1.06h-5.6zM121.4 143.7h5.6v1.06h-5.6zM121.4 147.7h5.6v1.06h-5.6zM121.4 149.7h22.1v1.06h-22.1zM132.5 150.7h11.0v1.06h-11.0zM137.9 154.8h5.5v1.06h-5.5zM115.8 158.8h11.3v1.06h-11.3zM110.2 159.8h16.8v1.06h-16.8zM132.5 160.8h5.5v1.06h-5.5zM110.2 161.8h16.8v1.06h-16.8zM110.2 163.8h16.8v1.06h-16.8zM127.0 167.8h16.5v1.06h-16.5zM115.8 174.9h11.3v1.06h-11.3zM110.2 183.9h5.6v1.06h-5.6zM121.4 183.9h22.1v1.06h-22.1zM110.2 184.9h5.6v1.06h-5.6zM127.0 186.9h16.5v1.06h-16.5zM115.8 198.0h5.6v1.06h-5.6zM127.0 198.0h11.0v1.06h-11.0zM127.0 200.0h11.0v1.06h-11.0zM159.7 147.7h5.6v1.06h-5.6zM176.4 147.7h11.0v1.06h-11.0zM170.8 150.7h5.6v1.06h-5.6zM159.7 152.8h5.6v1.06h-5.6zM170.8 152.8h5.6v1.06h-5.6zM181.9 152.8h5.5v1.06h-5.5zM159.7 163.8h5.6v1.06h-5.6zM159.7 164.8h11.2v1.06h-11.2zM176.4 171.8h16.5v1.06h-16.5zM176.4 173.9h16.5v1.06h-16.5zM165.3 174.9h27.6v1.06h-27.6zM181.9 175.9h11.0v1.06h-11.0zM187.3 176.9h5.5v1.06h-5.5zM187.3 177.9h5.5v1.06h-5.5zM181.9 181.9h11.0v1.06h-11.0zM181.9 182.9h5.5v1.06h-5.5zM176.4 183.9h11.0v1.06h-11.0zM176.4 185.9h16.5v1.06h-16.5zM165.3 187.9h11.2v1.06h-11.2zM159.7 189.9h11.2v1.06h-11.2zM170.8 190.9h5.6v1.06h-5.6zM181.9 190.9h5.5v1.06h-5.5zM170.8 194.0h5.6v1.06h-5.6zM55.7 268.6h5.6v1.05h-5.6zM55.7 294.6h5.6v1.05h-5.6zM100.1 211.5h5.1v1.05h-5.1zM100.1 217.5h5.1v1.05h-5.1zM100.1 218.5h5.1v1.05h-5.1zM100.1 219.5h5.1v1.05h-5.1zM100.1 221.5h5.1v1.05h-5.1zM100.1 239.6h5.1v1.05h-5.1zM100.1 241.6h5.1v1.05h-5.1zM100.1 279.6h5.1v1.05h-5.1zM100.1 283.6h5.1v1.05h-5.1zM100.1 297.6h5.1v1.05h-5.1zM100.1 323.7h5.1v1.05h-5.1zM100.1 324.7h5.1v1.05h-5.1zM100.1 330.7h5.1v1.05h-5.1zM154.6 224.5h5.1v1.05h-5.1z"/>
<path fill="#9f1416" d="M61.3 142.7h5.6v1.06h-5.6zM61.3 143.7h16.8v1.06h-16.8zM78.0 145.7h16.1v1.06h-16.1zM61.3 147.7h5.6v1.06h-5.6zM72.4 147.7h16.3v1.06h-16.3zM78.0 157.8h10.7v1.06h-10.7zM66.9 158.8h5.6v1.06h-5.6zM78.0 158.8h10.7v1.06h-10.7zM88.7 160.8h5.4v1.06h-5.4zM83.3 161.8h10.7v1.06h-10.7zM61.3 176.9h16.8v1.06h-16.8zM66.9 180.9h5.6v1.06h-5.6zM78.0 180.9h10.7v1.06h-10.7zM72.4 181.9h10.9v1.06h-10.9zM66.9 190.9h5.6v1.06h-5.6zM88.7 190.9h5.4v1.06h-5.4zM61.3 194.0h5.6v1.06h-5.6zM72.4 194.0h5.6v1.06h-5.6zM72.4 195.0h5.6v1.06h-5.6zM66.9 198.0h5.6v1.06h-5.6zM115.8 143.7h5.6v1.06h-5.6zM132.5 143.7h11.0v1.06h-11.0zM110.2 145.7h16.8v1.06h-16.8zM110.2 149.7h11.2v1.06h-11.2zM110.2 150.7h5.6v1.06h-5.6zM110.2 154.8h22.3v1.06h-22.3zM110.2 158.8h5.6v1.06h-5.6zM127.0 160.8h5.5v1.06h-5.5zM137.9 160.8h5.5v1.06h-5.5zM127.0 163.8h5.5v1.06h-5.5zM137.9 163.8h5.5v1.06h-5.5zM137.9 164.8h5.5v1.06h-5.5zM127.0 165.8h5.5v1.06h-5.5zM110.2 172.9h11.2v1.06h-11.2zM110.2 178.9h16.8v1.06h-16.8zM110.2 180.9h16.8v1.06h-16.8zM132.5 180.9h11.0v1.06h-11.0zM115.8 184.9h11.3v1.06h-11.3zM110.2 191.9h11.2v1.06h-11.2zM127.0 191.9h16.5v1.06h-16.5zM137.9 195.0h5.5v1.06h-5.5zM127.0 197.0h16.5v1.06h-16.5zM110.2 198.0h5.6v1.06h-5.6zM121.4 198.0h5.6v1.06h-5.6zM137.9 198.0h5.5v1.06h-5.5zM110.2 200.0h16.8v1.06h-16.8zM137.9 200.0h5.5v1.06h-5.5zM170.8 144.7h5.6v1.06h-5.6zM159.7 162.8h16.8v1.06h-16.8zM165.3 163.8h11.2v1.06h-11.2zM170.8 164.8h5.6v1.06h-5.6zM181.9 164.8h11.0v1.06h-11.0zM176.4 165.8h16.5v1.06h-16.5zM165.3 168.8h5.6v1.06h-5.6zM159.7 172.9h11.2v1.06h-11.2zM176.4 172.9h5.5v1.06h-5.5zM187.3 172.9h5.5v1.06h-5.5zM170.8 175.9h5.6v1.06h-5.6zM159.7 176.9h11.2v1.06h-11.2zM159.7 178.9h16.8v1.06h-16.8zM159.7 182.9h5.6v1.06h-5.6zM159.7 183.9h16.8v1.06h-16.8zM187.3 183.9h5.5v1.06h-5.5zM176.4 184.9h5.5v1.06h-5.5zM187.3 184.9h5.5v1.06h-5.5zM165.3 190.9h5.6v1.06h-5.6zM159.7 198.0h16.8v1.06h-16.8zM100.1 203.5h5.1v1.05h-5.1zM100.1 215.5h5.1v1.05h-5.1zM100.1 223.5h5.1v1.05h-5.1zM100.1 226.5h5.1v1.05h-5.1zM100.1 229.5h5.1v1.05h-5.1zM100.1 230.5h5.1v1.05h-5.1zM100.1 240.6h5.1v1.05h-5.1zM100.1 243.6h5.1v1.05h-5.1zM100.1 244.6h5.1v1.05h-5.1zM100.1 246.6h5.1v1.05h-5.1zM100.1 276.6h5.1v1.05h-5.1zM100.1 281.6h5.1v1.05h-5.1zM100.1 286.6h5.1v1.05h-5.1zM100.1 310.7h5.1v1.05h-5.1zM100.1 344.7h5.1v1.05h-5.1z"/>
<path fill="#b91819" d="M78.0 142.7h16.1v1.06h-16.1zM61.3 146.7h5.6v1.06h-5.6zM78.0 153.8h5.4v1.06h-5.4zM66.9 157.8h11.2v1.06h-11.2zM61.3 160.8h16.8v1.06h-16.8zM72.4 161.8h10.9v1.06h-10.9zM66.9 167.8h11.2v1.06h-11.2zM88.7 171.8h5.4v1.06h-5.4zM78.0 172.9h5.4v1.06h-5.4zM61.3 173.9h16.8v1.06h-16.8zM61.3 175.9h16.8v1.06h-16.8zM78.0 177.9h10.7v1.06h-10.7zM83.3 178.9h5.4v1.06h-5.4zM83.3 179.9h5.4v1.06h-5.4zM61.3 180.9h5.6v1.06h-5.6zM72.4 180.9h5.6v1.06h-5.6zM61.3 181.9h5.6v1.06h-5.6zM72.4 190.9h5.6v1.06h-5.6zM72.4 197.0h5.6v1.06h-5.6zM127.0 143.7h5.5v1.06h-5.5zM110.2 144.7h16.8v1.06h-16.8zM127.0 147.7h11.0v1.06h-11.0zM115.8 150.7h11.3v1.06h-11.3zM132.5 154.8h5.5v1.06h-5.5zM127.0 158.8h5.5v1.06h-5.5zM127.0 161.8h5.5v1.06h-5.5zM137.9 161.8h5.5v1.06h-5.5zM132.5 163.8h5.5v1.06h-5.5zM110.2 164.8h11.2v1.06h-11.2zM127.0 164.8h11.0v1.06h-11.0zM137.9 165.8h5.5v1.06h-5.5zM121.4 172.9h5.6v1.06h-5.6zM137.9 177.9h5.5v1.06h-5.5zM127.0 178.9h16.5v1.06h-16.5zM127.0 180.9h5.5v1.06h-5.5zM137.9 187.9h5.5v1.06h-5.5zM132.5 188.9h11.0v1.06h-11.0zM121.4 191.9h5.6v1.06h-5.6zM132.5 194.0h5.5v1.06h-5.5zM110.2 195.0h27.8v1.06h-27.8zM159.7 144.7h11.2v1.06h-11.2zM165.3 149.7h5.6v1.06h-5.6zM181.9 158.8h11.0v1.06h-11.0zM181.9 159.8h11.0v1.06h-11.0zM176.4 164.8h5.5v1.06h-5.5zM159.7 168.8h5.6v1.06h-5.6zM170.8 168.8h5.6v1.06h-5.6zM170.8 170.8h5.6v1.06h-5.6zM159.7 171.8h5.6v1.06h-5.6zM170.8 171.8h5.6v1.06h-5.6zM170.8 172.9h5.6v1.06h-5.6zM181.9 172.9h5.5v1.06h-5.5zM159.7 173.9h11.2v1.06h-11.2zM159.7 175.9h11.2v1.06h-11.2zM170.8 176.9h5.6v1.06h-5.6zM159.7 181.9h16.8v1.06h-16.8zM165.3 182.9h5.6v1.06h-5.6zM181.9 184.9h5.5v1.06h-5.5zM170.8 185.9h5.6v1.06h-5.6zM165.3 199.0h5.6v1.06h-5.6zM100.1 207.5h5.1v1.05h-5.1zM100.1 212.5h5.1v1.05h-5.1zM100.1 216.5h5.1v1.05h-5.1zM100.1 222.5h5.1v1.05h-5.1zM100.1 225.5h5.1v1.05h-5.1zM100.1 228.5h5.1v1.05h-5.1zM100.1 232.5h5.1v1.05h-5.1zM100.1 242.6h5.1v1.05h-5.1z"/>
<path fill="#d41b1d" d="M66.9 146.7h11.2v1.06h-11.2zM83.3 153.8h10.7v1.06h-10.7zM61.3 157.8h5.6v1.06h-5.6zM61.3 161.8h11.2v1.06h-11.2zM88.7 163.8h5.4v1.06h-5.4zM83.3 164.8h10.7v1.06h-10.7zM78.0 166.8h5.4v1.06h-5.4zM88.7 166.8h5.4v1.06h-5.4zM61.3 167.8h5.6v1.06h-5.6zM78.0 167.8h16.1v1.06h-16.1zM78.0 169.8h5.4v1.06h-5.4zM78.0 171.8h10.7v1.06h-10.7zM61.3 172.9h16.8v1.06h-16.8zM78.0 173.9h16.1v1.06h-16.1zM78.0 174.9h5.4v1.06h-5.4zM83.3 176.9h10.7v1.06h-10.7zM61.3 177.9h16.8v1.06h-16.8zM88.7 177.9h5.4v1.06h-5.4zM61.3 178.9h22.1v1.06h-22.1zM66.9 179.9h5.6v1.06h-5.6zM78.0 179.9h5.4v1.06h-5.4zM88.7 179.9h5.4v1.06h-5.4zM78.0 191.9h5.4v1.06h-5.4zM88.7 191.9h5.4v1.06h-5.4zM78.0 195.0h16.1v1.06h-16.1zM61.3 196.0h5.6v1.06h-5.6zM83.3 196.0h5.4v1.06h-5.4zM61.3 197.0h11.2v1.06h-11.2zM88.7 197.0h5.4v1.06h-5.4zM83.3 198.0h5.4v1.06h-5.4zM127.0 145.7h5.5v1.06h-5.5zM137.9 147.7h5.5v1.06h-5.5zM132.5 158.8h11.0v1.06h-11.0zM132.5 161.8h5.5v1.06h-5.5zM121.4 164.8h5.6v1.06h-5.6zM132.5 165.8h5.5v1.06h-5.5zM137.9 168.8h5.5v1.06h-5.5zM115.8 176.9h11.3v1.06h-11.3zM110.2 177.9h27.8v1.06h-27.8zM127.0 185.9h16.5v1.06h-16.5zM121.4 186.9h5.6v1.06h-5.6zM127.0 187.9h11.0v1.06h-11.0zM127.0 188.9h5.5v1.06h-5.5zM110.2 194.0h5.6v1.06h-5.6zM127.0 194.0h5.5v1.06h-5.5zM137.9 194.0h5.5v1.06h-5.5zM110.2 197.0h16.8v1.06h-16.8zM115.8 201.0h11.3v1.06h-11.3zM165.3 146.7h5.6v1.06h-5.6zM170.8 148.7h5.6v1.06h-5.6zM159.7 149.7h5.6v1.06h-5.6zM170.8 149.7h5.6v1.06h-5.6zM176.4 158.8h5.5v1.06h-5.5zM176.4 159.8h5.5v1.06h-5.5zM181.9 168.8h11.0v1.06h-11.0zM165.3 169.8h11.2v1.06h-11.2zM159.7 170.8h11.2v1.06h-11.2zM165.3 171.8h5.6v1.06h-5.6zM170.8 173.9h5.6v1.06h-5.6zM170.8 182.9h5.6v1.06h-5.6zM159.7 185.9h11.2v1.06h-11.2zM159.7 199.0h5.6v1.06h-5.6zM170.8 199.0h5.6v1.06h-5.6zM100.1 204.5h5.1v1.05h-5.1zM100.1 210.5h5.1v1.05h-5.1zM100.1 231.5h5.1v1.05h-5.1zM100.1 233.5h5.1v1.05h-5.1zM100.1 234.5h5.1v1.05h-5.1zM100.1 290.6h5.1v1.05h-5.1z"/>
<path fill="#e61e20" d="M61.3 145.7h16.8v1.06h-16.8zM61.3 153.8h16.8v1.06h-16.8zM72.4 163.8h16.3v1.06h-16.3zM78.0 164.8h5.4v1.06h-5.4zM61.3 166.8h5.6v1.06h-5.6zM72.4 166.8h5.6v1.06h-5.6zM83.3 166.8h5.4v1.06h-5.4zM61.3 169.8h5.6v1.06h-5.6zM72.4 169.8h5.6v1.06h-5.6zM83.3 169.8h10.7v1.06h-10.7zM61.3 170.8h5.6v1.06h-5.6zM78.0 170.8h16.1v1.06h-16.1zM83.3 172.9h10.7v1.06h-10.7zM83.3 174.9h10.7v1.06h-10.7zM78.0 176.9h5.4v1.06h-5.4zM88.7 178.9h5.4v1.06h-5.4zM61.3 179.9h5.6v1.06h-5.6zM72.4 179.9h5.6v1.06h-5.6zM83.3 191.9h5.4v1.06h-5.4zM66.9 196.0h16.5v1.06h-16.5zM88.7 196.0h5.4v1.06h-5.4zM78.0 197.0h10.7v1.06h-10.7zM88.7 198.0h5.4v1.06h-5.4zM127.0 144.7h16.5v1.06h-16.5zM132.5 145.7h11.0v1.06h-11.0zM121.4 165.8h5.6v1.06h-5.6zM127.0 168.8h11.0v1.06h-11.0zM110.2 176.9h5.6v1.06h-5.6zM127.0 176.9h16.5v1.06h-16.5zM110.2 185.9h5.6v1.06h-5.6zM110.2 186.9h11.2v1.06h-11.2zM110.2 188.9h16.8v1.06h-16.8zM132.5 193.0h5.5v1.06h-5.5zM115.8 194.0h11.3v1.06h-11.3zM110.2 201.0h5.6v1.06h-5.6zM165.3 145.7h11.2v1.06h-11.2zM187.3 145.7h5.5v1.06h-5.5zM159.7 146.7h5.6v1.06h-5.6zM170.8 146.7h11.1v1.06h-11.1zM187.3 146.7h5.5v1.06h-5.5zM159.7 148.7h11.2v1.06h-11.2zM176.4 149.7h16.5v1.06h-16.5zM165.3 155.8h5.6v1.06h-5.6zM176.4 156.8h16.5v1.06h-16.5zM176.4 157.8h5.5v1.06h-5.5zM159.7 159.8h16.8v1.06h-16.8zM176.4 168.8h5.5v1.06h-5.5zM159.7 169.8h5.6v1.06h-5.6zM176.4 170.8h16.5v1.06h-16.5zM159.7 184.9h16.8v1.06h-16.8zM176.4 198.0h16.5v1.06h-16.5z"/>
<path fill="#e61e20" d="M61.3 163.8h11.2v1.06h-11.2zM61.3 164.8h16.8v1.06h-16.8zM66.9 166.8h5.6v1.06h-5.6zM66.9 169.8h5.6v1.06h-5.6zM66.9 170.8h11.2v1.06h-11.2zM61.3 171.8h16.8v1.06h-16.8zM78.0 175.9h16.1v1.06h-16.1zM61.3 191.9h16.8v1.06h-16.8zM78.0 198.0h5.4v1.06h-5.4zM127.0 159.8h16.5v1.06h-16.5zM110.2 165.8h11.2v1.06h-11.2zM115.8 185.9h11.3v1.06h-11.3zM110.2 187.9h16.8v1.06h-16.8zM110.2 193.0h22.3v1.06h-22.3zM137.9 193.0h5.5v1.06h-5.5zM159.7 142.7h33.2v1.06h-33.2zM159.7 143.7h33.2v1.06h-33.2zM176.4 144.7h16.5v1.06h-16.5zM159.7 145.7h5.6v1.06h-5.6zM176.4 145.7h11.0v1.06h-11.0zM181.9 146.7h5.5v1.06h-5.5zM176.4 148.7h16.5v1.06h-16.5zM159.7 155.8h5.6v1.06h-5.6zM170.8 155.8h22.0v1.06h-22.0zM159.7 156.8h16.8v1.06h-16.8zM159.7 157.8h16.8v1.06h-16.8zM181.9 157.8h11.0v1.06h-11.0zM159.7 158.8h16.8v1.06h-16.8zM176.4 169.8h16.5v1.06h-16.5zM176.4 199.0h16.5v1.06h-16.5z"/>
</g>
<defs><filter id="hb" x="0" y="0" width="1" height="1"><feGaussianBlur stdDeviation="0.35 0.6"/></filter></defs>
<rect x="94.0" y="142.7" width="1.0" height="203" fill="#fff"/>
<rect x="143.4" y="142.7" width="1.1" height="203" fill="#fff"/>
<rect x="44.6" y="202.0" width="148.2" height="1.5" fill="#fff"/>
<line x1="45.3" y1="348.5" x2="60.1" y2="348.5" stroke="#2a2a2a" stroke-width="1.1"/>
<text x="58.1" y="352" font-size="6.6" fill="#222" text-anchor="end" stroke="#222" stroke-width="0.1" transform="rotate(-58 58.1 352)">shCTR</text>
<line x1="62" y1="348.5" x2="76.8" y2="348.5" stroke="#2a2a2a" stroke-width="1.1"/>
<text x="74.8" y="352" font-size="6.6" fill="#222" text-anchor="end" stroke="#222" stroke-width="0.1" transform="rotate(-58 74.8 352)">shSIRT3 #1</text>
<line x1="78.7" y1="348.5" x2="92.8" y2="348.5" stroke="#2a2a2a" stroke-width="1.1"/>
<text x="90.8" y="352" font-size="6.6" fill="#222" text-anchor="end" stroke="#222" stroke-width="0.1" transform="rotate(-58 90.8 352)">shSIRT3 #2</text>
<path d="M44.7 383.0 V385.9 H93.3 V383.0" fill="none" stroke="#3a3a3a" stroke-width="1.5"/>
<text x="69.3" y="394.5" font-size="6.6" fill="#222" text-anchor="middle" stroke="#222" stroke-width="0.1">Karpas 422</text>
<line x1="95.7" y1="348.5" x2="109" y2="348.5" stroke="#2a2a2a" stroke-width="1.1"/>
<text x="107" y="352" font-size="6.6" fill="#222" text-anchor="end" stroke="#222" stroke-width="0.1" transform="rotate(-58 107 352)">shCTR</text>
<line x1="110.9" y1="348.5" x2="125.8" y2="348.5" stroke="#2a2a2a" stroke-width="1.1"/>
<text x="123.8" y="352" font-size="6.6" fill="#222" text-anchor="end" stroke="#222" stroke-width="0.1" transform="rotate(-58 123.8 352)">shSIRT3 #1</text>
<line x1="127.7" y1="348.5" x2="142.2" y2="348.5" stroke="#2a2a2a" stroke-width="1.1"/>
<text x="140.2" y="352" font-size="6.6" fill="#222" text-anchor="end" stroke="#222" stroke-width="0.1" transform="rotate(-58 140.2 352)">shSIRT3 #2</text>
<path d="M95.1 383.0 V385.9 H142.7 V383.0" fill="none" stroke="#3a3a3a" stroke-width="1.5"/>
<text x="119.2" y="394.5" font-size="6.6" fill="#222" text-anchor="middle" stroke="#222" stroke-width="0.1">OCI-LY1</text>
<line x1="145.2" y1="348.5" x2="158.5" y2="348.5" stroke="#2a2a2a" stroke-width="1.1"/>
<text x="156.5" y="352" font-size="6.6" fill="#222" text-anchor="end" stroke="#222" stroke-width="0.1" transform="rotate(-58 156.5 352)">shCTR</text>
<line x1="160.4" y1="348.5" x2="175.2" y2="348.5" stroke="#2a2a2a" stroke-width="1.1"/>
<text x="173.2" y="352" font-size="6.6" fill="#222" text-anchor="end" stroke="#222" stroke-width="0.1" transform="rotate(-58 173.2 352)">shSIRT3 #1</text>
<line x1="177.1" y1="348.5" x2="191.6" y2="348.5" stroke="#2a2a2a" stroke-width="1.1"/>
<text x="189.6" y="352" font-size="6.6" fill="#222" text-anchor="end" stroke="#222" stroke-width="0.1" transform="rotate(-58 189.6 352)">shSIRT3 #2</text>
<path d="M144.6 383.0 V385.9 H192.1 V383.0" fill="none" stroke="#3a3a3a" stroke-width="1.5"/>
<text x="168.65" y="394.5" font-size="6.6" fill="#222" text-anchor="middle" stroke="#222" stroke-width="0.1">HBL1</text>
<text x="216" y="169.1" font-size="7" fill="#222" text-anchor="middle" stroke="#222" stroke-width="0.1">shSIRT3</text>
<text x="216" y="177.6" font-size="7" fill="#222" text-anchor="middle" stroke="#222" stroke-width="0.1">upregulated</text>
<text x="216" y="186.1" font-size="7" fill="#222" stroke="#222" stroke-width="0.1" text-anchor="middle"><tspan font-style="italic">n</tspan> = 319</text>
<text x="220" y="271.8" font-size="7" fill="#222" text-anchor="middle" stroke="#222" stroke-width="0.1">shSIRT3</text>
<text x="220" y="280.6" font-size="7" fill="#222" text-anchor="middle" stroke="#222" stroke-width="0.1">downregulated</text>
<text x="220" y="289.1" font-size="7" fill="#222" stroke="#222" stroke-width="0.1" text-anchor="middle"><tspan font-style="italic">n</tspan> = 757</text>
<text x="258.8" y="146.6" font-size="11" fill="#111" font-weight="bold">C</text>
<rect x="261.5" y="159.2" width="12.2" height="9.7" fill="#e8282e"/>
<rect x="261.5" y="168.3" width="12.2" height="8.7" fill="#dc2428"/>
<rect x="261.5" y="176.4" width="12.2" height="8.5" fill="#c01e22"/>
<rect x="261.5" y="184.3" width="12.2" height="9" fill="#8c1616"/>
<rect x="261.5" y="192.7" width="12.2" height="9.7" fill="#0a0a0a"/>
<rect x="261.9" y="159.6" width="11.4" height="41.8" fill="none" stroke="#3a0808" stroke-width="0.8"/>
<line x1="273.7" y1="167.9" x2="277.2" y2="167.9" stroke="#222" stroke-width="1"/>
<text x="278.4" y="170.3" font-size="6.9" fill="#222" stroke="#222" stroke-width="0.1">1e-05</text>
<line x1="273.7" y1="176.1" x2="277.2" y2="176.1" stroke="#222" stroke-width="1"/>
<text x="278.4" y="178.5" font-size="6.9" fill="#222" stroke="#222" stroke-width="0.1">0.001</text>
<line x1="273.7" y1="184.3" x2="277.2" y2="184.3" stroke="#222" stroke-width="1"/>
<text x="278.4" y="186.7" font-size="6.9" fill="#222" stroke="#222" stroke-width="0.1">0.01</text>
<line x1="273.7" y1="192.8" x2="277.2" y2="192.8" stroke="#222" stroke-width="1"/>
<text x="278.4" y="195.2" font-size="6.9" fill="#222" stroke="#222" stroke-width="0.1">0.05</text>
<line x1="273.7" y1="201.4" x2="277.2" y2="201.4" stroke="#222" stroke-width="1"/>
<text x="278.4" y="203.8" font-size="6.9" fill="#222" stroke="#222" stroke-width="0.1">1</text>
<rect x="300.4" y="159.4" width="70.5" height="174.72" fill="#050505"/>
<rect x="300.4" y="159.4" width="35" height="14.61" fill="#ea2228"/>
<text x="374.2" y="171.18" font-size="7.05" fill="#222" stroke="#222" stroke-width="0.1">Glutamine Deprivation dn</text>
<rect x="335.4" y="173.66" width="35.5" height="15.16" fill="#e8393c"/>
<text x="374.2" y="185.74" font-size="7.05" fill="#222" stroke="#222" stroke-width="0.1">Glutamine Starvation up</text>
<rect x="335.4" y="188.22" width="35.5" height="15.16" fill="#e8393c"/>
<text x="374.2" y="200.3" font-size="7.05" fill="#222" stroke="#222" stroke-width="0.1">Glucose Starvation up</text>
<rect x="335.4" y="202.78" width="35.5" height="15.16" fill="#e8393c"/>
<text x="374.2" y="214.86" font-size="7.05" fill="#222" stroke="#222" stroke-width="0.1">Aminoacyl tRNA Biosynthesis_KEGG</text>
<rect x="335.4" y="217.34" width="35.5" height="15.16" fill="#c92629"/>
<text x="374.2" y="229.42" font-size="7.05" fill="#222" stroke="#222" stroke-width="0.1">Activation of Genes by ATF4_REACTOME</text>
<rect x="335.4" y="231.9" width="35.5" height="15.16" fill="#e02a30"/>
<text x="374.2" y="243.98" font-size="7.05" fill="#222" stroke="#222" stroke-width="0.1">ATF4 targets dn_IGARASHI</text>
<rect x="335.4" y="246.46" width="35.5" height="15.16" fill="#e8393c"/>
<text x="374.2" y="258.54" font-size="7.05" fill="#222" stroke="#222" stroke-width="0.1">ATF4 dependent Genes in TM Treatment_MEF</text>
<rect x="335.4" y="261.02" width="35.5" height="15.16" fill="#e8393c"/>
<text x="374.2" y="273.1" font-size="7.05" fill="#222" stroke="#222" stroke-width="0.1">TM induced Genes_Human B cells</text>
<text x="374.2" y="287.66" font-size="7.05" fill="#222" stroke="#222" stroke-width="0.1">ATF6 target Genes in TM Treatment_MEF</text>
<text x="374.2" y="302.22" font-size="7.05" fill="#222" stroke="#222" stroke-width="0.1">XBP1 target Genes_MouseLiver</text>
<rect x="335.4" y="304.7" width="35.5" height="15.16" fill="#e8393c"/>
<text x="374.2" y="316.78" font-size="7.05" fill="#222" stroke="#222" stroke-width="0.1">Genes bound by ATF4 from CHIP_MEF</text>
<text x="374.2" y="331.34" font-size="7.05" fill="#222" stroke="#222" stroke-width="0.1">Genes bound by CHOP from CHIP_MEF</text>
<text font-size="6.9" fill="#222" stroke="#222" stroke-width="0.1" text-anchor="middle" transform="translate(314.2 349.7) rotate(-45)"><tspan x="0" y="0">shSIRT3</tspan><tspan x="2.6" y="7.2">upregulated</tspan></text>
<text font-size="6.9" fill="#222" stroke="#222" stroke-width="0.1" text-anchor="middle" transform="translate(347.5 350.1) rotate(-45)"><tspan x="0" y="0">shSIRT3</tspan><tspan x="-1.2" y="7.2">downregulated</tspan></text>
<text x="0.5" y="416.3" font-size="11" fill="#111" font-weight="bold">D</text>
<text x="0.5" y="535.5" font-size="11" fill="#111" font-weight="bold">E</text>
<defs><linearGradient id="rb1" x1="0" y1="0" x2="1" y2="0"><stop offset="0" stop-color="#e0303e"/><stop offset="0.281" stop-color="#e23848"/><stop offset="0.375" stop-color="#ec7888"/><stop offset="0.530" stop-color="#f4e8f0"/><stop offset="0.646" stop-color="#b8b4e0"/><stop offset="0.746" stop-color="#5050b4"/><stop offset="1" stop-color="#2a2a8c"/></linearGradient></defs>
<line x1="42.7" y1="429.2" x2="42.7" y2="438" stroke="#888" stroke-width="0.8"/>
<line x1="52.5" y1="429.2" x2="52.5" y2="438" stroke="#555" stroke-width="0.8"/>
<line x1="57.1" y1="429.2" x2="57.1" y2="438" stroke="#999" stroke-width="0.8"/>
<line x1="58.8" y1="429.2" x2="58.8" y2="438" stroke="#777" stroke-width="0.8"/>
<line x1="63.4" y1="429.2" x2="63.4" y2="438" stroke="#999" stroke-width="0.8"/>
<line x1="65.2" y1="429.2" x2="65.2" y2="438" stroke="#666" stroke-width="0.8"/>
<line x1="77.3" y1="429.2" x2="77.3" y2="438" stroke="#666" stroke-width="0.8"/>
<line x1="82.5" y1="429.2" x2="82.5" y2="438" stroke="#666" stroke-width="0.8"/>
<line x1="88.2" y1="429.2" x2="88.2" y2="438" stroke="#aaa" stroke-width="0.8"/>
<line x1="90.5" y1="429.2" x2="90.5" y2="438" stroke="#666" stroke-width="0.8"/>
<line x1="94.3" y1="429.2" x2="94.3" y2="438" stroke="#444" stroke-width="0.8"/>
<line x1="97.8" y1="429.2" x2="97.8" y2="438" stroke="#333" stroke-width="0.8"/>
<line x1="101.2" y1="429.2" x2="101.2" y2="438" stroke="#666" stroke-width="0.8"/>
<line x1="105.3" y1="429.2" x2="105.3" y2="438" stroke="#333" stroke-width="0.8"/>
<line x1="107" y1="429.2" x2="107" y2="438" stroke="#666" stroke-width="0.8"/>
<line x1="112.8" y1="429.2" x2="112.8" y2="438" stroke="#666" stroke-width="0.8"/>
<line x1="115.1" y1="429.2" x2="115.1" y2="438" stroke="#777" stroke-width="0.8"/>
<line x1="119.1" y1="429.2" x2="119.1" y2="438" stroke="#333" stroke-width="0.8"/>
<line x1="120.8" y1="429.2" x2="120.8" y2="438" stroke="#666" stroke-width="0.8"/>
<line x1="124.3" y1="429.2" x2="124.3" y2="438" stroke="#2a2a2a" stroke-width="0.8"/>
<line x1="126.6" y1="429.2" x2="126.6" y2="438" stroke="#1a1a1a" stroke-width="0.8"/>
<line x1="128.9" y1="429.2" x2="128.9" y2="438" stroke="#222" stroke-width="0.8"/>
<line x1="132.4" y1="429.2" x2="132.4" y2="438" stroke="#111" stroke-width="0.8"/>
<line x1="133.35" y1="429.2" x2="133.35" y2="438" stroke="#2a2a2a" stroke-width="0.8"/>
<line x1="134.3" y1="429.2" x2="134.3" y2="438" stroke="#111" stroke-width="0.8"/>
<line x1="135.25" y1="429.2" x2="135.25" y2="438" stroke="#111" stroke-width="0.8"/>
<line x1="139.9" y1="429.2" x2="139.9" y2="438" stroke="#111" stroke-width="0.8"/>
<line x1="141.6" y1="429.2" x2="141.6" y2="438" stroke="#222" stroke-width="0.8"/>
<line x1="143.3" y1="429.2" x2="143.3" y2="438" stroke="#111" stroke-width="0.8"/>
<line x1="144.25" y1="429.2" x2="144.25" y2="438" stroke="#3a3a3a" stroke-width="0.8"/>
<line x1="145.2" y1="429.2" x2="145.2" y2="438" stroke="#1a1a1a" stroke-width="0.8"/>
<line x1="146.15" y1="429.2" x2="146.15" y2="438" stroke="#3a3a3a" stroke-width="0.8"/>
<line x1="147.1" y1="429.2" x2="147.1" y2="438" stroke="#111" stroke-width="0.8"/>
<line x1="148.05" y1="429.2" x2="148.05" y2="438" stroke="#222" stroke-width="0.8"/>
<line x1="149" y1="429.2" x2="149" y2="438" stroke="#1a1a1a" stroke-width="0.8"/>
<rect x="35.4" y="437.7" width="113.2" height="2.3" fill="url(#rb1)"/>
<line x1="34.6" y1="441.9" x2="151.6" y2="441.9" stroke="#3a3a3a" stroke-width="1.0"/>
<line x1="63.85" y1="441.9" x2="63.85" y2="443.7" stroke="#222" stroke-width="1.0"/>
<line x1="93.1" y1="441.9" x2="93.1" y2="443.7" stroke="#222" stroke-width="1.0"/>
<line x1="122.35" y1="441.9" x2="122.35" y2="443.7" stroke="#222" stroke-width="1.0"/>
<line x1="151.6" y1="441.9" x2="151.6" y2="443.7" stroke="#222" stroke-width="1.0"/>
<line x1="34.6" y1="428.1" x2="34.6" y2="508.9" stroke="#1a1a1a" stroke-width="1.2"/>
<line x1="32.4" y1="428.6" x2="34.6" y2="428.6" stroke="#1a1a1a" stroke-width="1.1"/>
<text x="31.4" y="430.9" font-size="6.7" fill="#222" text-anchor="end" stroke="#222" stroke-width="0.1">0.2</text>
<line x1="32.4" y1="441.9" x2="34.6" y2="441.9" stroke="#1a1a1a" stroke-width="1.1"/>
<text x="31.4" y="444.2" font-size="6.7" fill="#222" text-anchor="end" stroke="#222" stroke-width="0.1">0.0</text>
<line x1="32.4" y1="455.2" x2="34.6" y2="455.2" stroke="#1a1a1a" stroke-width="1.1"/>
<text x="31.4" y="457.5" font-size="6.7" fill="#222" text-anchor="end" stroke="#222" stroke-width="0.1">−0.2</text>
<line x1="32.4" y1="468.5" x2="34.6" y2="468.5" stroke="#1a1a1a" stroke-width="1.1"/>
<text x="31.4" y="470.8" font-size="6.7" fill="#222" text-anchor="end" stroke="#222" stroke-width="0.1">−0.4</text>
<line x1="32.4" y1="481.8" x2="34.6" y2="481.8" stroke="#1a1a1a" stroke-width="1.1"/>
<text x="31.4" y="484.1" font-size="6.7" fill="#222" text-anchor="end" stroke="#222" stroke-width="0.1">−0.6</text>
<line x1="32.4" y1="495.1" x2="34.6" y2="495.1" stroke="#1a1a1a" stroke-width="1.1"/>
<text x="31.4" y="497.4" font-size="6.7" fill="#222" text-anchor="end" stroke="#222" stroke-width="0.1">−0.8</text>
<line x1="32.4" y1="508.4" x2="34.6" y2="508.4" stroke="#1a1a1a" stroke-width="1.1"/>
<text x="31.4" y="510.7" font-size="6.7" fill="#222" text-anchor="end" stroke="#222" stroke-width="0.1">−1.0</text>
<text x="11.5" y="468.5" font-size="6.5" fill="#222" text-anchor="middle" stroke="#222" stroke-width="0.1" transform="rotate(-90 11.5 468.5)" dominant-baseline="central">Enrichment score</text>
<text x="101" y="417.6" font-size="6.5" fill="#222" text-anchor="middle" stroke="#222" stroke-width="0.1">ATF4 target genes (HBL1)</text>
<text x="101" y="424.6" font-size="6.5" fill="#222" text-anchor="middle" stroke="#222" stroke-width="0.1">shSIRT3-1 vs. shCtr (day 8)</text>
<text x="42.8" y="493.2" font-size="6.4" fill="#222" stroke="#222" stroke-width="0.1">NES = −2.723</text>
<text x="42.8" y="501.2" font-size="6.4" fill="#222" stroke="#222" stroke-width="0.1">FDR = 0</text>
<path d="M34.6 441.9 L52.5 451.28 L67.48 458.72 L80 464.98 L92.52 472.49 L105.03 477.48 L117.55 484.99 L129.95 491.24 L137.44 488.78 L142.94 482.53 L146.1 470.03 L147.74 452.47 L148.56 441.9" fill="none" stroke="#33a244" stroke-width="1.1" stroke-linejoin="round"/>
<path d="M40.9 446.1a1.85 1.85 0 1 0 3.7 0a1.85 1.85 0 1 0 -3.7 0M50.6 451.3a1.85 1.85 0 1 0 3.7 0a1.85 1.85 0 1 0 -3.7 0M55.2 453.6a1.85 1.85 0 1 0 3.7 0a1.85 1.85 0 1 0 -3.7 0M56.9 454.4a1.85 1.85 0 1 0 3.7 0a1.85 1.85 0 1 0 -3.7 0M61.5 456.7a1.85 1.85 0 1 0 3.7 0a1.85 1.85 0 1 0 -3.7 0M63.4 457.6a1.85 1.85 0 1 0 3.7 0a1.85 1.85 0 1 0 -3.7 0M75.5 463.6a1.85 1.85 0 1 0 3.7 0a1.85 1.85 0 1 0 -3.7 0M80.7 466.5a1.85 1.85 0 1 0 3.7 0a1.85 1.85 0 1 0 -3.7 0M86.4 469.9a1.85 1.85 0 1 0 3.7 0a1.85 1.85 0 1 0 -3.7 0M88.7 471.3a1.85 1.85 0 1 0 3.7 0a1.85 1.85 0 1 0 -3.7 0M92.5 473.2a1.85 1.85 0 1 0 3.7 0a1.85 1.85 0 1 0 -3.7 0M96.0 474.6a1.85 1.85 0 1 0 3.7 0a1.85 1.85 0 1 0 -3.7 0M99.4 476.0a1.85 1.85 0 1 0 3.7 0a1.85 1.85 0 1 0 -3.7 0M103.5 477.6a1.85 1.85 0 1 0 3.7 0a1.85 1.85 0 1 0 -3.7 0M105.2 478.7a1.85 1.85 0 1 0 3.7 0a1.85 1.85 0 1 0 -3.7 0M111.0 482.1a1.85 1.85 0 1 0 3.7 0a1.85 1.85 0 1 0 -3.7 0M113.2 483.5a1.85 1.85 0 1 0 3.7 0a1.85 1.85 0 1 0 -3.7 0M117.2 485.8a1.85 1.85 0 1 0 3.7 0a1.85 1.85 0 1 0 -3.7 0M119.0 486.6a1.85 1.85 0 1 0 3.7 0a1.85 1.85 0 1 0 -3.7 0M122.5 488.4a1.85 1.85 0 1 0 3.7 0a1.85 1.85 0 1 0 -3.7 0M124.8 489.6a1.85 1.85 0 1 0 3.7 0a1.85 1.85 0 1 0 -3.7 0M127.1 490.7a1.85 1.85 0 1 0 3.7 0a1.85 1.85 0 1 0 -3.7 0M130.6 490.4a1.85 1.85 0 1 0 3.7 0a1.85 1.85 0 1 0 -3.7 0M131.5 490.1a1.85 1.85 0 1 0 3.7 0a1.85 1.85 0 1 0 -3.7 0M132.4 489.8a1.85 1.85 0 1 0 3.7 0a1.85 1.85 0 1 0 -3.7 0M133.4 489.5a1.85 1.85 0 1 0 3.7 0a1.85 1.85 0 1 0 -3.7 0M138.1 486.0a1.85 1.85 0 1 0 3.7 0a1.85 1.85 0 1 0 -3.7 0M139.8 484.1a1.85 1.85 0 1 0 3.7 0a1.85 1.85 0 1 0 -3.7 0M141.5 481.1a1.85 1.85 0 1 0 3.7 0a1.85 1.85 0 1 0 -3.7 0M142.4 477.4a1.85 1.85 0 1 0 3.7 0a1.85 1.85 0 1 0 -3.7 0M143.3 473.6a1.85 1.85 0 1 0 3.7 0a1.85 1.85 0 1 0 -3.7 0M144.3 469.5a1.85 1.85 0 1 0 3.7 0a1.85 1.85 0 1 0 -3.7 0M145.2 459.3a1.85 1.85 0 1 0 3.7 0a1.85 1.85 0 1 0 -3.7 0M146.2 448.5a1.85 1.85 0 1 0 3.7 0a1.85 1.85 0 1 0 -3.7 0M32.8 441.9a1.85 1.85 0 1 0 3.7 0a1.85 1.85 0 1 0 -3.7 0M37.2 444.2a1.85 1.85 0 1 0 3.7 0a1.85 1.85 0 1 0 -3.7 0M41.6 446.5a1.85 1.85 0 1 0 3.7 0a1.85 1.85 0 1 0 -3.7 0M46.0 448.9a1.85 1.85 0 1 0 3.7 0a1.85 1.85 0 1 0 -3.7 0M50.5 451.2a1.85 1.85 0 1 0 3.7 0a1.85 1.85 0 1 0 -3.7 0M54.9 453.4a1.85 1.85 0 1 0 3.7 0a1.85 1.85 0 1 0 -3.7 0M59.4 455.6a1.85 1.85 0 1 0 3.7 0a1.85 1.85 0 1 0 -3.7 0M63.9 457.9a1.85 1.85 0 1 0 3.7 0a1.85 1.85 0 1 0 -3.7 0M68.4 460.1a1.85 1.85 0 1 0 3.7 0a1.85 1.85 0 1 0 -3.7 0M72.8 462.3a1.85 1.85 0 1 0 3.7 0a1.85 1.85 0 1 0 -3.7 0M77.3 464.6a1.85 1.85 0 1 0 3.7 0a1.85 1.85 0 1 0 -3.7 0M81.6 467.1a1.85 1.85 0 1 0 3.7 0a1.85 1.85 0 1 0 -3.7 0M85.9 469.6a1.85 1.85 0 1 0 3.7 0a1.85 1.85 0 1 0 -3.7 0M90.2 472.2a1.85 1.85 0 1 0 3.7 0a1.85 1.85 0 1 0 -3.7 0M94.8 474.1a1.85 1.85 0 1 0 3.7 0a1.85 1.85 0 1 0 -3.7 0M99.5 476.0a1.85 1.85 0 1 0 3.7 0a1.85 1.85 0 1 0 -3.7 0M104.0 478.0a1.85 1.85 0 1 0 3.7 0a1.85 1.85 0 1 0 -3.7 0M108.3 480.6a1.85 1.85 0 1 0 3.7 0a1.85 1.85 0 1 0 -3.7 0M112.6 483.1a1.85 1.85 0 1 0 3.7 0a1.85 1.85 0 1 0 -3.7 0M116.9 485.6a1.85 1.85 0 1 0 3.7 0a1.85 1.85 0 1 0 -3.7 0M121.4 487.9a1.85 1.85 0 1 0 3.7 0a1.85 1.85 0 1 0 -3.7 0M125.9 490.1a1.85 1.85 0 1 0 3.7 0a1.85 1.85 0 1 0 -3.7 0M130.5 490.5a1.85 1.85 0 1 0 3.7 0a1.85 1.85 0 1 0 -3.7 0M135.2 488.9a1.85 1.85 0 1 0 3.7 0a1.85 1.85 0 1 0 -3.7 0M138.6 485.3a1.85 1.85 0 1 0 3.7 0a1.85 1.85 0 1 0 -3.7 0M141.4 481.3a1.85 1.85 0 1 0 3.7 0a1.85 1.85 0 1 0 -3.7 0M142.6 476.4a1.85 1.85 0 1 0 3.7 0a1.85 1.85 0 1 0 -3.7 0M143.9 471.6a1.85 1.85 0 1 0 3.7 0a1.85 1.85 0 1 0 -3.7 0M144.6 466.6a1.85 1.85 0 1 0 3.7 0a1.85 1.85 0 1 0 -3.7 0M145.0 461.7a1.85 1.85 0 1 0 3.7 0a1.85 1.85 0 1 0 -3.7 0M145.5 456.7a1.85 1.85 0 1 0 3.7 0a1.85 1.85 0 1 0 -3.7 0M145.9 451.7a1.85 1.85 0 1 0 3.7 0a1.85 1.85 0 1 0 -3.7 0M146.3 446.7a1.85 1.85 0 1 0 3.7 0a1.85 1.85 0 1 0 -3.7 0M128.1 491.2a1.85 1.85 0 1 0 3.7 0a1.85 1.85 0 1 0 -3.7 0M129.2 490.9a1.85 1.85 0 1 0 3.7 0a1.85 1.85 0 1 0 -3.7 0M130.2 490.5a1.85 1.85 0 1 0 3.7 0a1.85 1.85 0 1 0 -3.7 0M131.3 490.2a1.85 1.85 0 1 0 3.7 0a1.85 1.85 0 1 0 -3.7 0M132.4 489.8a1.85 1.85 0 1 0 3.7 0a1.85 1.85 0 1 0 -3.7 0M133.5 489.5a1.85 1.85 0 1 0 3.7 0a1.85 1.85 0 1 0 -3.7 0M134.5 489.1a1.85 1.85 0 1 0 3.7 0a1.85 1.85 0 1 0 -3.7 0M135.6 488.8a1.85 1.85 0 1 0 3.7 0a1.85 1.85 0 1 0 -3.7 0M135.6 488.8a1.85 1.85 0 1 0 3.7 0a1.85 1.85 0 1 0 -3.7 0M136.3 488.0a1.85 1.85 0 1 0 3.7 0a1.85 1.85 0 1 0 -3.7 0M137.0 487.2a1.85 1.85 0 1 0 3.7 0a1.85 1.85 0 1 0 -3.7 0M137.7 486.4a1.85 1.85 0 1 0 3.7 0a1.85 1.85 0 1 0 -3.7 0M138.3 485.7a1.85 1.85 0 1 0 3.7 0a1.85 1.85 0 1 0 -3.7 0M139.0 484.9a1.85 1.85 0 1 0 3.7 0a1.85 1.85 0 1 0 -3.7 0M139.7 484.1a1.85 1.85 0 1 0 3.7 0a1.85 1.85 0 1 0 -3.7 0M140.4 483.3a1.85 1.85 0 1 0 3.7 0a1.85 1.85 0 1 0 -3.7 0M141.1 482.5a1.85 1.85 0 1 0 3.7 0a1.85 1.85 0 1 0 -3.7 0M141.1 482.5a1.85 1.85 0 1 0 3.7 0a1.85 1.85 0 1 0 -3.7 0M141.4 481.5a1.85 1.85 0 1 0 3.7 0a1.85 1.85 0 1 0 -3.7 0M141.6 480.4a1.85 1.85 0 1 0 3.7 0a1.85 1.85 0 1 0 -3.7 0M141.9 479.4a1.85 1.85 0 1 0 3.7 0a1.85 1.85 0 1 0 -3.7 0M142.1 478.4a1.85 1.85 0 1 0 3.7 0a1.85 1.85 0 1 0 -3.7 0M142.4 477.3a1.85 1.85 0 1 0 3.7 0a1.85 1.85 0 1 0 -3.7 0M142.7 476.3a1.85 1.85 0 1 0 3.7 0a1.85 1.85 0 1 0 -3.7 0M142.9 475.2a1.85 1.85 0 1 0 3.7 0a1.85 1.85 0 1 0 -3.7 0M143.2 474.2a1.85 1.85 0 1 0 3.7 0a1.85 1.85 0 1 0 -3.7 0M143.5 473.2a1.85 1.85 0 1 0 3.7 0a1.85 1.85 0 1 0 -3.7 0M143.7 472.1a1.85 1.85 0 1 0 3.7 0a1.85 1.85 0 1 0 -3.7 0M144.0 471.1a1.85 1.85 0 1 0 3.7 0a1.85 1.85 0 1 0 -3.7 0M144.3 470.0a1.85 1.85 0 1 0 3.7 0a1.85 1.85 0 1 0 -3.7 0M144.3 470.0a1.85 1.85 0 1 0 3.7 0a1.85 1.85 0 1 0 -3.7 0M144.3 469.0a1.85 1.85 0 1 0 3.7 0a1.85 1.85 0 1 0 -3.7 0M144.4 468.0a1.85 1.85 0 1 0 3.7 0a1.85 1.85 0 1 0 -3.7 0M144.5 466.9a1.85 1.85 0 1 0 3.7 0a1.85 1.85 0 1 0 -3.7 0M144.6 465.9a1.85 1.85 0 1 0 3.7 0a1.85 1.85 0 1 0 -3.7 0M144.7 464.9a1.85 1.85 0 1 0 3.7 0a1.85 1.85 0 1 0 -3.7 0M144.8 463.8a1.85 1.85 0 1 0 3.7 0a1.85 1.85 0 1 0 -3.7 0M144.9 462.8a1.85 1.85 0 1 0 3.7 0a1.85 1.85 0 1 0 -3.7 0M145.0 461.8a1.85 1.85 0 1 0 3.7 0a1.85 1.85 0 1 0 -3.7 0M145.1 460.7a1.85 1.85 0 1 0 3.7 0a1.85 1.85 0 1 0 -3.7 0M145.2 459.7a1.85 1.85 0 1 0 3.7 0a1.85 1.85 0 1 0 -3.7 0M145.3 458.7a1.85 1.85 0 1 0 3.7 0a1.85 1.85 0 1 0 -3.7 0M145.4 457.6a1.85 1.85 0 1 0 3.7 0a1.85 1.85 0 1 0 -3.7 0M145.5 456.6a1.85 1.85 0 1 0 3.7 0a1.85 1.85 0 1 0 -3.7 0M145.6 455.6a1.85 1.85 0 1 0 3.7 0a1.85 1.85 0 1 0 -3.7 0M145.7 454.5a1.85 1.85 0 1 0 3.7 0a1.85 1.85 0 1 0 -3.7 0M145.8 453.5a1.85 1.85 0 1 0 3.7 0a1.85 1.85 0 1 0 -3.7 0M145.9 452.5a1.85 1.85 0 1 0 3.7 0a1.85 1.85 0 1 0 -3.7 0M145.9 452.5a1.85 1.85 0 1 0 3.7 0a1.85 1.85 0 1 0 -3.7 0M146.0 451.4a1.85 1.85 0 1 0 3.7 0a1.85 1.85 0 1 0 -3.7 0M146.1 450.4a1.85 1.85 0 1 0 3.7 0a1.85 1.85 0 1 0 -3.7 0M146.1 449.3a1.85 1.85 0 1 0 3.7 0a1.85 1.85 0 1 0 -3.7 0M146.2 448.2a1.85 1.85 0 1 0 3.7 0a1.85 1.85 0 1 0 -3.7 0M146.3 447.2a1.85 1.85 0 1 0 3.7 0a1.85 1.85 0 1 0 -3.7 0M146.4 446.1a1.85 1.85 0 1 0 3.7 0a1.85 1.85 0 1 0 -3.7 0M146.5 445.1a1.85 1.85 0 1 0 3.7 0a1.85 1.85 0 1 0 -3.7 0M146.5 444.0a1.85 1.85 0 1 0 3.7 0a1.85 1.85 0 1 0 -3.7 0M146.6 443.0a1.85 1.85 0 1 0 3.7 0a1.85 1.85 0 1 0 -3.7 0M146.7 441.9a1.85 1.85 0 1 0 3.7 0a1.85 1.85 0 1 0 -3.7 0" fill="#33a244"/>
<defs><linearGradient id="rb2" x1="0" y1="0" x2="1" y2="0"><stop offset="0" stop-color="#e0303e"/><stop offset="0.275" stop-color="#e23848"/><stop offset="0.367" stop-color="#ec7888"/><stop offset="0.513" stop-color="#f4e8f0"/><stop offset="0.620" stop-color="#b8b4e0"/><stop offset="0.720" stop-color="#5050b4"/><stop offset="1" stop-color="#2a2a8c"/></linearGradient></defs>
<line x1="203.1" y1="426.72" x2="203.1" y2="437.9" stroke="#999" stroke-width="0.8"/>
<line x1="205.4" y1="426.72" x2="205.4" y2="437.9" stroke="#999" stroke-width="0.8"/>
<line x1="210" y1="426.72" x2="210" y2="437.9" stroke="#999" stroke-width="0.8"/>
<line x1="212.3" y1="426.72" x2="212.3" y2="437.9" stroke="#777" stroke-width="0.8"/>
<line x1="218.1" y1="426.72" x2="218.1" y2="437.9" stroke="#888" stroke-width="0.8"/>
<line x1="219.8" y1="426.72" x2="219.8" y2="437.9" stroke="#aaa" stroke-width="0.8"/>
<line x1="221.5" y1="426.72" x2="221.5" y2="437.9" stroke="#aaa" stroke-width="0.8"/>
<line x1="226.7" y1="426.72" x2="226.7" y2="437.9" stroke="#777" stroke-width="0.8"/>
<line x1="227.9" y1="426.72" x2="227.9" y2="437.9" stroke="#777" stroke-width="0.8"/>
<line x1="229.6" y1="426.72" x2="229.6" y2="437.9" stroke="#555" stroke-width="0.8"/>
<line x1="231.9" y1="426.72" x2="231.9" y2="437.9" stroke="#888" stroke-width="0.8"/>
<line x1="233.7" y1="426.72" x2="233.7" y2="437.9" stroke="#555" stroke-width="0.8"/>
<line x1="234.8" y1="426.72" x2="234.8" y2="437.9" stroke="#999" stroke-width="0.8"/>
<line x1="238.3" y1="426.72" x2="238.3" y2="437.9" stroke="#555" stroke-width="0.8"/>
<line x1="239.4" y1="426.72" x2="239.4" y2="437.9" stroke="#aaa" stroke-width="0.8"/>
<line x1="243.5" y1="426.72" x2="243.5" y2="437.9" stroke="#888" stroke-width="0.8"/>
<line x1="245.8" y1="426.72" x2="245.8" y2="437.9" stroke="#666" stroke-width="0.8"/>
<line x1="248.7" y1="426.72" x2="248.7" y2="437.9" stroke="#aaa" stroke-width="0.8"/>
<line x1="255.2" y1="426.72" x2="255.2" y2="437.9" stroke="#666" stroke-width="0.8"/>
<line x1="257.5" y1="426.72" x2="257.5" y2="437.9" stroke="#777" stroke-width="0.8"/>
<line x1="260.9" y1="426.72" x2="260.9" y2="437.9" stroke="#555" stroke-width="0.8"/>
<line x1="265.5" y1="426.72" x2="265.5" y2="437.9" stroke="#777" stroke-width="0.8"/>
<line x1="266.7" y1="426.72" x2="266.7" y2="437.9" stroke="#666" stroke-width="0.8"/>
<line x1="271.3" y1="426.72" x2="271.3" y2="437.9" stroke="#777" stroke-width="0.8"/>
<line x1="273" y1="426.72" x2="273" y2="437.9" stroke="#555" stroke-width="0.8"/>
<line x1="274.8" y1="426.72" x2="274.8" y2="437.9" stroke="#333" stroke-width="0.8"/>
<line x1="276.5" y1="426.72" x2="276.5" y2="437.9" stroke="#333" stroke-width="0.8"/>
<line x1="278.8" y1="426.72" x2="278.8" y2="437.9" stroke="#555" stroke-width="0.8"/>
<line x1="281.1" y1="426.72" x2="281.1" y2="437.9" stroke="#666" stroke-width="0.8"/>
<line x1="282.8" y1="426.72" x2="282.8" y2="437.9" stroke="#555" stroke-width="0.8"/>
<line x1="285.2" y1="426.72" x2="285.2" y2="437.9" stroke="#3a3a3a" stroke-width="0.8"/>
<line x1="286.9" y1="426.72" x2="286.9" y2="437.9" stroke="#3a3a3a" stroke-width="0.8"/>
<line x1="288.6" y1="426.72" x2="288.6" y2="437.9" stroke="#222" stroke-width="0.8"/>
<line x1="290.9" y1="426.72" x2="290.9" y2="437.9" stroke="#1a1a1a" stroke-width="0.8"/>
<line x1="292.7" y1="426.72" x2="292.7" y2="437.9" stroke="#222" stroke-width="0.8"/>
<line x1="294.4" y1="426.72" x2="294.4" y2="437.9" stroke="#1a1a1a" stroke-width="0.8"/>
<line x1="296.1" y1="426.72" x2="296.1" y2="437.9" stroke="#1a1a1a" stroke-width="0.8"/>
<line x1="297.8" y1="426.72" x2="297.8" y2="437.9" stroke="#1a1a1a" stroke-width="0.8"/>
<line x1="300.2" y1="426.72" x2="300.2" y2="437.9" stroke="#111" stroke-width="0.8"/>
<line x1="302.5" y1="426.72" x2="302.5" y2="437.9" stroke="#1a1a1a" stroke-width="0.8"/>
<line x1="304.8" y1="426.72" x2="304.8" y2="437.9" stroke="#2a2a2a" stroke-width="0.8"/>
<line x1="306.5" y1="426.72" x2="306.5" y2="437.9" stroke="#1a1a1a" stroke-width="0.8"/>
<line x1="307.45" y1="426.72" x2="307.45" y2="437.9" stroke="#1a1a1a" stroke-width="0.8"/>
<line x1="308.4" y1="426.72" x2="308.4" y2="437.9" stroke="#222" stroke-width="0.8"/>
<line x1="309.35" y1="426.72" x2="309.35" y2="437.9" stroke="#222" stroke-width="0.8"/>
<line x1="310.3" y1="426.72" x2="310.3" y2="437.9" stroke="#2a2a2a" stroke-width="0.8"/>
<rect x="197.3" y="437.6" width="113.2" height="2.3" fill="url(#rb2)"/>
<line x1="196.5" y1="441.8" x2="313.5" y2="441.8" stroke="#3a3a3a" stroke-width="1.0"/>
<line x1="225.75" y1="441.8" x2="225.75" y2="443.6" stroke="#222" stroke-width="1.0"/>
<line x1="255" y1="441.8" x2="255" y2="443.6" stroke="#222" stroke-width="1.0"/>
<line x1="284.25" y1="441.8" x2="284.25" y2="443.6" stroke="#222" stroke-width="1.0"/>
<line x1="313.5" y1="441.8" x2="313.5" y2="443.6" stroke="#222" stroke-width="1.0"/>
<line x1="196.5" y1="425.62" x2="196.5" y2="505.02" stroke="#1a1a1a" stroke-width="1.2"/>
<line x1="194.3" y1="426.12" x2="196.5" y2="426.12" stroke="#1a1a1a" stroke-width="1.1"/>
<text x="193.3" y="428.42" font-size="6.7" fill="#222" text-anchor="end" stroke="#222" stroke-width="0.1">0.2</text>
<line x1="194.3" y1="441.8" x2="196.5" y2="441.8" stroke="#1a1a1a" stroke-width="1.1"/>
<text x="193.3" y="444.1" font-size="6.7" fill="#222" text-anchor="end" stroke="#222" stroke-width="0.1">0.0</text>
<line x1="194.3" y1="457.48" x2="196.5" y2="457.48" stroke="#1a1a1a" stroke-width="1.1"/>
<text x="193.3" y="459.78" font-size="6.7" fill="#222" text-anchor="end" stroke="#222" stroke-width="0.1">−0.2</text>
<line x1="194.3" y1="473.16" x2="196.5" y2="473.16" stroke="#1a1a1a" stroke-width="1.1"/>
<text x="193.3" y="475.46" font-size="6.7" fill="#222" text-anchor="end" stroke="#222" stroke-width="0.1">−0.4</text>
<line x1="194.3" y1="488.84" x2="196.5" y2="488.84" stroke="#1a1a1a" stroke-width="1.1"/>
<text x="193.3" y="491.14" font-size="6.7" fill="#222" text-anchor="end" stroke="#222" stroke-width="0.1">−0.6</text>
<line x1="194.3" y1="504.52" x2="196.5" y2="504.52" stroke="#1a1a1a" stroke-width="1.1"/>
<text x="193.3" y="506.82" font-size="6.7" fill="#222" text-anchor="end" stroke="#222" stroke-width="0.1">−0.8</text>
<text x="172.3" y="465.32" font-size="6.5" fill="#222" text-anchor="middle" stroke="#222" stroke-width="0.1" transform="rotate(-90 172.3 465.32)" dominant-baseline="central">Enrichment score</text>
<text x="260.2" y="417.6" font-size="6.5" fill="#222" text-anchor="middle" stroke="#222" stroke-width="0.1">ATF4 target genes (Karpas 422)</text>
<text x="260.2" y="424.6" font-size="6.5" fill="#222" text-anchor="middle" stroke="#222" stroke-width="0.1">shSIRT3-1 vs. shCtr (day 8)</text>
<text x="204.6" y="493.6" font-size="6.4" fill="#222" stroke="#222" stroke-width="0.1">NES = −2.956</text>
<text x="204.6" y="501.6" font-size="6.4" fill="#222" stroke="#222" stroke-width="0.1">FDR = 0</text>
<path d="M196.5 441.8 L205.04 446.97 L214.99 452.46 L227.5 459.99 L240.02 467.52 L252.54 476.22 L264.94 483.74 L277.46 492.52 L289.98 498.72 L300.05 501.23 L305.31 498.88 L307.88 491.98 L309.05 473.16 L310.22 451.99 L310.93 441.8" fill="none" stroke="#33a244" stroke-width="1.1" stroke-linejoin="round"/>
<path d="M201.2 445.8a1.85 1.85 0 1 0 3.7 0a1.85 1.85 0 1 0 -3.7 0M203.6 447.2a1.85 1.85 0 1 0 3.7 0a1.85 1.85 0 1 0 -3.7 0M208.2 449.7a1.85 1.85 0 1 0 3.7 0a1.85 1.85 0 1 0 -3.7 0M210.5 451.0a1.85 1.85 0 1 0 3.7 0a1.85 1.85 0 1 0 -3.7 0M216.2 454.3a1.85 1.85 0 1 0 3.7 0a1.85 1.85 0 1 0 -3.7 0M218.0 455.4a1.85 1.85 0 1 0 3.7 0a1.85 1.85 0 1 0 -3.7 0M219.7 456.4a1.85 1.85 0 1 0 3.7 0a1.85 1.85 0 1 0 -3.7 0M224.8 459.5a1.85 1.85 0 1 0 3.7 0a1.85 1.85 0 1 0 -3.7 0M226.1 460.2a1.85 1.85 0 1 0 3.7 0a1.85 1.85 0 1 0 -3.7 0M227.8 461.2a1.85 1.85 0 1 0 3.7 0a1.85 1.85 0 1 0 -3.7 0M230.1 462.6a1.85 1.85 0 1 0 3.7 0a1.85 1.85 0 1 0 -3.7 0M231.8 463.7a1.85 1.85 0 1 0 3.7 0a1.85 1.85 0 1 0 -3.7 0M233.0 464.4a1.85 1.85 0 1 0 3.7 0a1.85 1.85 0 1 0 -3.7 0M236.5 466.5a1.85 1.85 0 1 0 3.7 0a1.85 1.85 0 1 0 -3.7 0M237.6 467.1a1.85 1.85 0 1 0 3.7 0a1.85 1.85 0 1 0 -3.7 0M241.7 469.9a1.85 1.85 0 1 0 3.7 0a1.85 1.85 0 1 0 -3.7 0M244.0 471.5a1.85 1.85 0 1 0 3.7 0a1.85 1.85 0 1 0 -3.7 0M246.8 473.5a1.85 1.85 0 1 0 3.7 0a1.85 1.85 0 1 0 -3.7 0M253.3 477.8a1.85 1.85 0 1 0 3.7 0a1.85 1.85 0 1 0 -3.7 0M255.7 479.2a1.85 1.85 0 1 0 3.7 0a1.85 1.85 0 1 0 -3.7 0M259.0 481.3a1.85 1.85 0 1 0 3.7 0a1.85 1.85 0 1 0 -3.7 0M263.6 484.1a1.85 1.85 0 1 0 3.7 0a1.85 1.85 0 1 0 -3.7 0M264.8 485.0a1.85 1.85 0 1 0 3.7 0a1.85 1.85 0 1 0 -3.7 0M269.4 488.2a1.85 1.85 0 1 0 3.7 0a1.85 1.85 0 1 0 -3.7 0M271.1 489.4a1.85 1.85 0 1 0 3.7 0a1.85 1.85 0 1 0 -3.7 0M272.9 490.7a1.85 1.85 0 1 0 3.7 0a1.85 1.85 0 1 0 -3.7 0M274.6 491.8a1.85 1.85 0 1 0 3.7 0a1.85 1.85 0 1 0 -3.7 0M276.9 493.2a1.85 1.85 0 1 0 3.7 0a1.85 1.85 0 1 0 -3.7 0M279.2 494.3a1.85 1.85 0 1 0 3.7 0a1.85 1.85 0 1 0 -3.7 0M280.9 495.2a1.85 1.85 0 1 0 3.7 0a1.85 1.85 0 1 0 -3.7 0M283.3 496.4a1.85 1.85 0 1 0 3.7 0a1.85 1.85 0 1 0 -3.7 0M285.0 497.2a1.85 1.85 0 1 0 3.7 0a1.85 1.85 0 1 0 -3.7 0M286.8 498.0a1.85 1.85 0 1 0 3.7 0a1.85 1.85 0 1 0 -3.7 0M289.0 498.9a1.85 1.85 0 1 0 3.7 0a1.85 1.85 0 1 0 -3.7 0M290.8 499.4a1.85 1.85 0 1 0 3.7 0a1.85 1.85 0 1 0 -3.7 0M292.5 499.8a1.85 1.85 0 1 0 3.7 0a1.85 1.85 0 1 0 -3.7 0M294.2 500.2a1.85 1.85 0 1 0 3.7 0a1.85 1.85 0 1 0 -3.7 0M295.9 500.7a1.85 1.85 0 1 0 3.7 0a1.85 1.85 0 1 0 -3.7 0M298.3 501.2a1.85 1.85 0 1 0 3.7 0a1.85 1.85 0 1 0 -3.7 0M300.6 500.1a1.85 1.85 0 1 0 3.7 0a1.85 1.85 0 1 0 -3.7 0M302.9 499.1a1.85 1.85 0 1 0 3.7 0a1.85 1.85 0 1 0 -3.7 0M304.6 495.7a1.85 1.85 0 1 0 3.7 0a1.85 1.85 0 1 0 -3.7 0M305.6 493.1a1.85 1.85 0 1 0 3.7 0a1.85 1.85 0 1 0 -3.7 0M306.5 483.7a1.85 1.85 0 1 0 3.7 0a1.85 1.85 0 1 0 -3.7 0M307.5 467.8a1.85 1.85 0 1 0 3.7 0a1.85 1.85 0 1 0 -3.7 0M308.4 450.9a1.85 1.85 0 1 0 3.7 0a1.85 1.85 0 1 0 -3.7 0M194.7 441.8a1.85 1.85 0 1 0 3.7 0a1.85 1.85 0 1 0 -3.7 0M198.9 444.4a1.85 1.85 0 1 0 3.7 0a1.85 1.85 0 1 0 -3.7 0M203.2 447.0a1.85 1.85 0 1 0 3.7 0a1.85 1.85 0 1 0 -3.7 0M207.6 449.4a1.85 1.85 0 1 0 3.7 0a1.85 1.85 0 1 0 -3.7 0M212.0 451.8a1.85 1.85 0 1 0 3.7 0a1.85 1.85 0 1 0 -3.7 0M216.3 454.3a1.85 1.85 0 1 0 3.7 0a1.85 1.85 0 1 0 -3.7 0M220.6 456.9a1.85 1.85 0 1 0 3.7 0a1.85 1.85 0 1 0 -3.7 0M224.8 459.5a1.85 1.85 0 1 0 3.7 0a1.85 1.85 0 1 0 -3.7 0M229.1 462.1a1.85 1.85 0 1 0 3.7 0a1.85 1.85 0 1 0 -3.7 0M233.4 464.7a1.85 1.85 0 1 0 3.7 0a1.85 1.85 0 1 0 -3.7 0M237.7 467.2a1.85 1.85 0 1 0 3.7 0a1.85 1.85 0 1 0 -3.7 0M241.8 470.0a1.85 1.85 0 1 0 3.7 0a1.85 1.85 0 1 0 -3.7 0M245.9 472.9a1.85 1.85 0 1 0 3.7 0a1.85 1.85 0 1 0 -3.7 0M250.0 475.8a1.85 1.85 0 1 0 3.7 0a1.85 1.85 0 1 0 -3.7 0M254.3 478.4a1.85 1.85 0 1 0 3.7 0a1.85 1.85 0 1 0 -3.7 0M258.6 481.0a1.85 1.85 0 1 0 3.7 0a1.85 1.85 0 1 0 -3.7 0M262.8 483.6a1.85 1.85 0 1 0 3.7 0a1.85 1.85 0 1 0 -3.7 0M266.9 486.4a1.85 1.85 0 1 0 3.7 0a1.85 1.85 0 1 0 -3.7 0M271.0 489.3a1.85 1.85 0 1 0 3.7 0a1.85 1.85 0 1 0 -3.7 0M275.1 492.2a1.85 1.85 0 1 0 3.7 0a1.85 1.85 0 1 0 -3.7 0M279.6 494.5a1.85 1.85 0 1 0 3.7 0a1.85 1.85 0 1 0 -3.7 0M284.0 496.7a1.85 1.85 0 1 0 3.7 0a1.85 1.85 0 1 0 -3.7 0M288.5 498.8a1.85 1.85 0 1 0 3.7 0a1.85 1.85 0 1 0 -3.7 0M293.4 500.0a1.85 1.85 0 1 0 3.7 0a1.85 1.85 0 1 0 -3.7 0M298.2 501.2a1.85 1.85 0 1 0 3.7 0a1.85 1.85 0 1 0 -3.7 0M302.8 499.2a1.85 1.85 0 1 0 3.7 0a1.85 1.85 0 1 0 -3.7 0M305.0 494.9a1.85 1.85 0 1 0 3.7 0a1.85 1.85 0 1 0 -3.7 0M306.2 490.1a1.85 1.85 0 1 0 3.7 0a1.85 1.85 0 1 0 -3.7 0M306.5 485.1a1.85 1.85 0 1 0 3.7 0a1.85 1.85 0 1 0 -3.7 0M306.8 480.1a1.85 1.85 0 1 0 3.7 0a1.85 1.85 0 1 0 -3.7 0M307.1 475.1a1.85 1.85 0 1 0 3.7 0a1.85 1.85 0 1 0 -3.7 0M307.4 470.1a1.85 1.85 0 1 0 3.7 0a1.85 1.85 0 1 0 -3.7 0M307.6 465.1a1.85 1.85 0 1 0 3.7 0a1.85 1.85 0 1 0 -3.7 0M307.9 460.1a1.85 1.85 0 1 0 3.7 0a1.85 1.85 0 1 0 -3.7 0M308.2 455.1a1.85 1.85 0 1 0 3.7 0a1.85 1.85 0 1 0 -3.7 0M308.5 450.1a1.85 1.85 0 1 0 3.7 0a1.85 1.85 0 1 0 -3.7 0M308.8 445.1a1.85 1.85 0 1 0 3.7 0a1.85 1.85 0 1 0 -3.7 0M298.2 501.2a1.85 1.85 0 1 0 3.7 0a1.85 1.85 0 1 0 -3.7 0M299.2 500.8a1.85 1.85 0 1 0 3.7 0a1.85 1.85 0 1 0 -3.7 0M300.3 500.3a1.85 1.85 0 1 0 3.7 0a1.85 1.85 0 1 0 -3.7 0M301.4 499.8a1.85 1.85 0 1 0 3.7 0a1.85 1.85 0 1 0 -3.7 0M302.4 499.3a1.85 1.85 0 1 0 3.7 0a1.85 1.85 0 1 0 -3.7 0M303.5 498.9a1.85 1.85 0 1 0 3.7 0a1.85 1.85 0 1 0 -3.7 0M303.5 498.9a1.85 1.85 0 1 0 3.7 0a1.85 1.85 0 1 0 -3.7 0M303.8 497.9a1.85 1.85 0 1 0 3.7 0a1.85 1.85 0 1 0 -3.7 0M304.2 496.9a1.85 1.85 0 1 0 3.7 0a1.85 1.85 0 1 0 -3.7 0M304.6 495.9a1.85 1.85 0 1 0 3.7 0a1.85 1.85 0 1 0 -3.7 0M304.9 494.9a1.85 1.85 0 1 0 3.7 0a1.85 1.85 0 1 0 -3.7 0M305.3 493.9a1.85 1.85 0 1 0 3.7 0a1.85 1.85 0 1 0 -3.7 0M305.7 493.0a1.85 1.85 0 1 0 3.7 0a1.85 1.85 0 1 0 -3.7 0M306.0 492.0a1.85 1.85 0 1 0 3.7 0a1.85 1.85 0 1 0 -3.7 0M306.0 492.0a1.85 1.85 0 1 0 3.7 0a1.85 1.85 0 1 0 -3.7 0M306.1 490.9a1.85 1.85 0 1 0 3.7 0a1.85 1.85 0 1 0 -3.7 0M306.2 489.9a1.85 1.85 0 1 0 3.7 0a1.85 1.85 0 1 0 -3.7 0M306.2 488.8a1.85 1.85 0 1 0 3.7 0a1.85 1.85 0 1 0 -3.7 0M306.3 487.8a1.85 1.85 0 1 0 3.7 0a1.85 1.85 0 1 0 -3.7 0M306.4 486.7a1.85 1.85 0 1 0 3.7 0a1.85 1.85 0 1 0 -3.7 0M306.4 485.7a1.85 1.85 0 1 0 3.7 0a1.85 1.85 0 1 0 -3.7 0M306.5 484.7a1.85 1.85 0 1 0 3.7 0a1.85 1.85 0 1 0 -3.7 0M306.6 483.6a1.85 1.85 0 1 0 3.7 0a1.85 1.85 0 1 0 -3.7 0M306.6 482.6a1.85 1.85 0 1 0 3.7 0a1.85 1.85 0 1 0 -3.7 0M306.7 481.5a1.85 1.85 0 1 0 3.7 0a1.85 1.85 0 1 0 -3.7 0M306.7 480.5a1.85 1.85 0 1 0 3.7 0a1.85 1.85 0 1 0 -3.7 0M306.8 479.4a1.85 1.85 0 1 0 3.7 0a1.85 1.85 0 1 0 -3.7 0M306.9 478.4a1.85 1.85 0 1 0 3.7 0a1.85 1.85 0 1 0 -3.7 0M306.9 477.3a1.85 1.85 0 1 0 3.7 0a1.85 1.85 0 1 0 -3.7 0M307.0 476.3a1.85 1.85 0 1 0 3.7 0a1.85 1.85 0 1 0 -3.7 0M307.1 475.3a1.85 1.85 0 1 0 3.7 0a1.85 1.85 0 1 0 -3.7 0M307.1 474.2a1.85 1.85 0 1 0 3.7 0a1.85 1.85 0 1 0 -3.7 0M307.2 473.2a1.85 1.85 0 1 0 3.7 0a1.85 1.85 0 1 0 -3.7 0M307.2 473.2a1.85 1.85 0 1 0 3.7 0a1.85 1.85 0 1 0 -3.7 0M307.3 472.2a1.85 1.85 0 1 0 3.7 0a1.85 1.85 0 1 0 -3.7 0M307.3 471.1a1.85 1.85 0 1 0 3.7 0a1.85 1.85 0 1 0 -3.7 0M307.4 470.1a1.85 1.85 0 1 0 3.7 0a1.85 1.85 0 1 0 -3.7 0M307.4 469.1a1.85 1.85 0 1 0 3.7 0a1.85 1.85 0 1 0 -3.7 0M307.5 468.1a1.85 1.85 0 1 0 3.7 0a1.85 1.85 0 1 0 -3.7 0M307.5 467.1a1.85 1.85 0 1 0 3.7 0a1.85 1.85 0 1 0 -3.7 0M307.6 466.1a1.85 1.85 0 1 0 3.7 0a1.85 1.85 0 1 0 -3.7 0M307.6 465.1a1.85 1.85 0 1 0 3.7 0a1.85 1.85 0 1 0 -3.7 0M307.7 464.1a1.85 1.85 0 1 0 3.7 0a1.85 1.85 0 1 0 -3.7 0M307.8 463.1a1.85 1.85 0 1 0 3.7 0a1.85 1.85 0 1 0 -3.7 0M307.8 462.1a1.85 1.85 0 1 0 3.7 0a1.85 1.85 0 1 0 -3.7 0M307.9 461.1a1.85 1.85 0 1 0 3.7 0a1.85 1.85 0 1 0 -3.7 0M307.9 460.1a1.85 1.85 0 1 0 3.7 0a1.85 1.85 0 1 0 -3.7 0M308.0 459.0a1.85 1.85 0 1 0 3.7 0a1.85 1.85 0 1 0 -3.7 0M308.0 458.0a1.85 1.85 0 1 0 3.7 0a1.85 1.85 0 1 0 -3.7 0M308.1 457.0a1.85 1.85 0 1 0 3.7 0a1.85 1.85 0 1 0 -3.7 0M308.2 456.0a1.85 1.85 0 1 0 3.7 0a1.85 1.85 0 1 0 -3.7 0M308.2 455.0a1.85 1.85 0 1 0 3.7 0a1.85 1.85 0 1 0 -3.7 0M308.3 454.0a1.85 1.85 0 1 0 3.7 0a1.85 1.85 0 1 0 -3.7 0M308.3 453.0a1.85 1.85 0 1 0 3.7 0a1.85 1.85 0 1 0 -3.7 0M308.4 452.0a1.85 1.85 0 1 0 3.7 0a1.85 1.85 0 1 0 -3.7 0M308.4 452.0a1.85 1.85 0 1 0 3.7 0a1.85 1.85 0 1 0 -3.7 0M308.4 451.0a1.85 1.85 0 1 0 3.7 0a1.85 1.85 0 1 0 -3.7 0M308.5 450.0a1.85 1.85 0 1 0 3.7 0a1.85 1.85 0 1 0 -3.7 0M308.6 448.9a1.85 1.85 0 1 0 3.7 0a1.85 1.85 0 1 0 -3.7 0M308.7 447.9a1.85 1.85 0 1 0 3.7 0a1.85 1.85 0 1 0 -3.7 0M308.7 446.9a1.85 1.85 0 1 0 3.7 0a1.85 1.85 0 1 0 -3.7 0M308.8 445.9a1.85 1.85 0 1 0 3.7 0a1.85 1.85 0 1 0 -3.7 0M308.9 444.9a1.85 1.85 0 1 0 3.7 0a1.85 1.85 0 1 0 -3.7 0M308.9 443.8a1.85 1.85 0 1 0 3.7 0a1.85 1.85 0 1 0 -3.7 0M309.0 442.8a1.85 1.85 0 1 0 3.7 0a1.85 1.85 0 1 0 -3.7 0M309.1 441.8a1.85 1.85 0 1 0 3.7 0a1.85 1.85 0 1 0 -3.7 0" fill="#33a244"/>
<defs><linearGradient id="rb3" x1="0" y1="0" x2="1" y2="0"><stop offset="0" stop-color="#e0303e"/><stop offset="0.268" stop-color="#e23848"/><stop offset="0.358" stop-color="#ec7888"/><stop offset="0.562" stop-color="#f4e8f0"/><stop offset="0.727" stop-color="#b8b4e0"/><stop offset="0.827" stop-color="#5050b4"/><stop offset="1" stop-color="#2a2a8c"/></linearGradient></defs>
<line x1="363.6" y1="427.12" x2="363.6" y2="438.3" stroke="#888" stroke-width="0.8"/>
<line x1="370.5" y1="427.12" x2="370.5" y2="438.3" stroke="#555" stroke-width="0.8"/>
<line x1="372.3" y1="427.12" x2="372.3" y2="438.3" stroke="#555" stroke-width="0.8"/>
<line x1="374" y1="427.12" x2="374" y2="438.3" stroke="#888" stroke-width="0.8"/>
<line x1="376.9" y1="427.12" x2="376.9" y2="438.3" stroke="#777" stroke-width="0.8"/>
<line x1="379.8" y1="427.12" x2="379.8" y2="438.3" stroke="#555" stroke-width="0.8"/>
<line x1="382.1" y1="427.12" x2="382.1" y2="438.3" stroke="#666" stroke-width="0.8"/>
<line x1="383.8" y1="427.12" x2="383.8" y2="438.3" stroke="#aaa" stroke-width="0.8"/>
<line x1="390.2" y1="427.12" x2="390.2" y2="438.3" stroke="#555" stroke-width="0.8"/>
<line x1="391.9" y1="427.12" x2="391.9" y2="438.3" stroke="#999" stroke-width="0.8"/>
<line x1="395.3" y1="427.12" x2="395.3" y2="438.3" stroke="#555" stroke-width="0.8"/>
<line x1="397.1" y1="427.12" x2="397.1" y2="438.3" stroke="#999" stroke-width="0.8"/>
<line x1="402.3" y1="427.12" x2="402.3" y2="438.3" stroke="#666" stroke-width="0.8"/>
<line x1="411.5" y1="427.12" x2="411.5" y2="438.3" stroke="#777" stroke-width="0.8"/>
<line x1="414.4" y1="427.12" x2="414.4" y2="438.3" stroke="#777" stroke-width="0.8"/>
<line x1="419.7" y1="427.12" x2="419.7" y2="438.3" stroke="#444" stroke-width="0.8"/>
<line x1="423.8" y1="427.12" x2="423.8" y2="438.3" stroke="#444" stroke-width="0.8"/>
<line x1="426.7" y1="427.12" x2="426.7" y2="438.3" stroke="#666" stroke-width="0.8"/>
<line x1="430.7" y1="427.12" x2="430.7" y2="438.3" stroke="#777" stroke-width="0.8"/>
<line x1="432.4" y1="427.12" x2="432.4" y2="438.3" stroke="#777" stroke-width="0.8"/>
<line x1="437" y1="427.12" x2="437" y2="438.3" stroke="#666" stroke-width="0.8"/>
<line x1="438.8" y1="427.12" x2="438.8" y2="438.3" stroke="#666" stroke-width="0.8"/>
<line x1="441.1" y1="427.12" x2="441.1" y2="438.3" stroke="#444" stroke-width="0.8"/>
<line x1="444" y1="427.12" x2="444" y2="438.3" stroke="#444" stroke-width="0.8"/>
<line x1="447.4" y1="427.12" x2="447.4" y2="438.3" stroke="#1a1a1a" stroke-width="0.8"/>
<line x1="449.2" y1="427.12" x2="449.2" y2="438.3" stroke="#222" stroke-width="0.8"/>
<line x1="451.5" y1="427.12" x2="451.5" y2="438.3" stroke="#3a3a3a" stroke-width="0.8"/>
<line x1="453.2" y1="427.12" x2="453.2" y2="438.3" stroke="#111" stroke-width="0.8"/>
<line x1="455.5" y1="427.12" x2="455.5" y2="438.3" stroke="#111" stroke-width="0.8"/>
<line x1="456.45" y1="427.12" x2="456.45" y2="438.3" stroke="#1a1a1a" stroke-width="0.8"/>
<line x1="457.4" y1="427.12" x2="457.4" y2="438.3" stroke="#222" stroke-width="0.8"/>
<line x1="458.35" y1="427.12" x2="458.35" y2="438.3" stroke="#111" stroke-width="0.8"/>
<line x1="459.3" y1="427.12" x2="459.3" y2="438.3" stroke="#2a2a2a" stroke-width="0.8"/>
<line x1="460.7" y1="427.12" x2="460.7" y2="438.3" stroke="#111" stroke-width="0.8"/>
<line x1="462.4" y1="427.12" x2="462.4" y2="438.3" stroke="#2a2a2a" stroke-width="0.8"/>
<line x1="464.2" y1="427.12" x2="464.2" y2="438.3" stroke="#3a3a3a" stroke-width="0.8"/>
<line x1="465.9" y1="427.12" x2="465.9" y2="438.3" stroke="#222" stroke-width="0.8"/>
<line x1="467.6" y1="427.12" x2="467.6" y2="438.3" stroke="#3a3a3a" stroke-width="0.8"/>
<line x1="469.3" y1="427.12" x2="469.3" y2="438.3" stroke="#3a3a3a" stroke-width="0.8"/>
<line x1="471.1" y1="427.12" x2="471.1" y2="438.3" stroke="#3a3a3a" stroke-width="0.8"/>
<line x1="472.05" y1="427.12" x2="472.05" y2="438.3" stroke="#222" stroke-width="0.8"/>
<line x1="473" y1="427.12" x2="473" y2="438.3" stroke="#3a3a3a" stroke-width="0.8"/>
<line x1="473.95" y1="427.12" x2="473.95" y2="438.3" stroke="#1a1a1a" stroke-width="0.8"/>
<rect x="361.2" y="438" width="113.2" height="2.3" fill="url(#rb3)"/>
<line x1="360.4" y1="442.2" x2="477.4" y2="442.2" stroke="#3a3a3a" stroke-width="1.0"/>
<line x1="389.65" y1="442.2" x2="389.65" y2="444" stroke="#222" stroke-width="1.0"/>
<line x1="418.9" y1="442.2" x2="418.9" y2="444" stroke="#222" stroke-width="1.0"/>
<line x1="448.15" y1="442.2" x2="448.15" y2="444" stroke="#222" stroke-width="1.0"/>
<line x1="477.4" y1="442.2" x2="477.4" y2="444" stroke="#222" stroke-width="1.0"/>
<line x1="360.4" y1="426.02" x2="360.4" y2="505.42" stroke="#1a1a1a" stroke-width="1.2"/>
<line x1="358.2" y1="426.52" x2="360.4" y2="426.52" stroke="#1a1a1a" stroke-width="1.1"/>
<text x="357.2" y="428.82" font-size="6.7" fill="#222" text-anchor="end" stroke="#222" stroke-width="0.1">0.2</text>
<line x1="358.2" y1="442.2" x2="360.4" y2="442.2" stroke="#1a1a1a" stroke-width="1.1"/>
<text x="357.2" y="444.5" font-size="6.7" fill="#222" text-anchor="end" stroke="#222" stroke-width="0.1">0.0</text>
<line x1="358.2" y1="457.88" x2="360.4" y2="457.88" stroke="#1a1a1a" stroke-width="1.1"/>
<text x="357.2" y="460.18" font-size="6.7" fill="#222" text-anchor="end" stroke="#222" stroke-width="0.1">−0.2</text>
<line x1="358.2" y1="473.56" x2="360.4" y2="473.56" stroke="#1a1a1a" stroke-width="1.1"/>
<text x="357.2" y="475.86" font-size="6.7" fill="#222" text-anchor="end" stroke="#222" stroke-width="0.1">−0.4</text>
<line x1="358.2" y1="489.24" x2="360.4" y2="489.24" stroke="#1a1a1a" stroke-width="1.1"/>
<text x="357.2" y="491.54" font-size="6.7" fill="#222" text-anchor="end" stroke="#222" stroke-width="0.1">−0.6</text>
<line x1="358.2" y1="504.92" x2="360.4" y2="504.92" stroke="#1a1a1a" stroke-width="1.1"/>
<text x="357.2" y="507.22" font-size="6.7" fill="#222" text-anchor="end" stroke="#222" stroke-width="0.1">−0.8</text>
<text x="336.5" y="465.72" font-size="6.5" fill="#222" text-anchor="middle" stroke="#222" stroke-width="0.1" transform="rotate(-90 336.5 465.72)" dominant-baseline="central">Enrichment score</text>
<text x="420.3" y="417.6" font-size="6.5" fill="#222" text-anchor="middle" stroke="#222" stroke-width="0.1">ATF4 target genes (OCI-LY1)</text>
<text x="420.3" y="424.6" font-size="6.5" fill="#222" text-anchor="middle" stroke="#222" stroke-width="0.1">shSIRT3-1 vs. shCtr (day 8)</text>
<text x="367.5" y="489.6" font-size="6.4" fill="#222" stroke="#222" stroke-width="0.1">NES = −2.816</text>
<text x="367.5" y="497.6" font-size="6.4" fill="#222" stroke="#222" stroke-width="0.1">FDR = 0</text>
<path d="M360.4 442.2 L369.99 446.28 L380.06 451.22 L392.46 457.49 L404.98 466.27 L417.5 473.72 L430.01 479.99 L442.53 485.48 L450.02 491.28 L458.8 495.98 L461.6 493.94 L464.65 489.08 L471.08 477.32 L474.12 465.72 L474.71 453.96 L475.06 442.2" fill="none" stroke="#33a244" stroke-width="1.1" stroke-linejoin="round"/>
<path d="M361.8 443.6a1.85 1.85 0 1 0 3.7 0a1.85 1.85 0 1 0 -3.7 0M368.6 446.5a1.85 1.85 0 1 0 3.7 0a1.85 1.85 0 1 0 -3.7 0M370.4 447.4a1.85 1.85 0 1 0 3.7 0a1.85 1.85 0 1 0 -3.7 0M372.1 448.2a1.85 1.85 0 1 0 3.7 0a1.85 1.85 0 1 0 -3.7 0M375.0 449.7a1.85 1.85 0 1 0 3.7 0a1.85 1.85 0 1 0 -3.7 0M377.9 451.1a1.85 1.85 0 1 0 3.7 0a1.85 1.85 0 1 0 -3.7 0M380.2 452.2a1.85 1.85 0 1 0 3.7 0a1.85 1.85 0 1 0 -3.7 0M381.9 453.1a1.85 1.85 0 1 0 3.7 0a1.85 1.85 0 1 0 -3.7 0M388.3 456.3a1.85 1.85 0 1 0 3.7 0a1.85 1.85 0 1 0 -3.7 0M390.0 457.2a1.85 1.85 0 1 0 3.7 0a1.85 1.85 0 1 0 -3.7 0M393.4 459.5a1.85 1.85 0 1 0 3.7 0a1.85 1.85 0 1 0 -3.7 0M395.2 460.7a1.85 1.85 0 1 0 3.7 0a1.85 1.85 0 1 0 -3.7 0M400.4 464.4a1.85 1.85 0 1 0 3.7 0a1.85 1.85 0 1 0 -3.7 0M409.6 470.1a1.85 1.85 0 1 0 3.7 0a1.85 1.85 0 1 0 -3.7 0M412.5 471.9a1.85 1.85 0 1 0 3.7 0a1.85 1.85 0 1 0 -3.7 0M417.8 474.8a1.85 1.85 0 1 0 3.7 0a1.85 1.85 0 1 0 -3.7 0M421.9 476.9a1.85 1.85 0 1 0 3.7 0a1.85 1.85 0 1 0 -3.7 0M424.8 478.3a1.85 1.85 0 1 0 3.7 0a1.85 1.85 0 1 0 -3.7 0M428.8 480.3a1.85 1.85 0 1 0 3.7 0a1.85 1.85 0 1 0 -3.7 0M430.5 481.0a1.85 1.85 0 1 0 3.7 0a1.85 1.85 0 1 0 -3.7 0M435.1 483.1a1.85 1.85 0 1 0 3.7 0a1.85 1.85 0 1 0 -3.7 0M436.9 483.8a1.85 1.85 0 1 0 3.7 0a1.85 1.85 0 1 0 -3.7 0M439.2 484.8a1.85 1.85 0 1 0 3.7 0a1.85 1.85 0 1 0 -3.7 0M442.1 486.6a1.85 1.85 0 1 0 3.7 0a1.85 1.85 0 1 0 -3.7 0M445.5 489.2a1.85 1.85 0 1 0 3.7 0a1.85 1.85 0 1 0 -3.7 0M447.3 490.6a1.85 1.85 0 1 0 3.7 0a1.85 1.85 0 1 0 -3.7 0M449.6 492.1a1.85 1.85 0 1 0 3.7 0a1.85 1.85 0 1 0 -3.7 0M451.3 493.0a1.85 1.85 0 1 0 3.7 0a1.85 1.85 0 1 0 -3.7 0M453.6 494.2a1.85 1.85 0 1 0 3.7 0a1.85 1.85 0 1 0 -3.7 0M454.6 494.7a1.85 1.85 0 1 0 3.7 0a1.85 1.85 0 1 0 -3.7 0M455.5 495.2a1.85 1.85 0 1 0 3.7 0a1.85 1.85 0 1 0 -3.7 0M456.5 495.7a1.85 1.85 0 1 0 3.7 0a1.85 1.85 0 1 0 -3.7 0M457.4 495.6a1.85 1.85 0 1 0 3.7 0a1.85 1.85 0 1 0 -3.7 0M458.8 494.6a1.85 1.85 0 1 0 3.7 0a1.85 1.85 0 1 0 -3.7 0M460.5 492.7a1.85 1.85 0 1 0 3.7 0a1.85 1.85 0 1 0 -3.7 0M462.3 489.8a1.85 1.85 0 1 0 3.7 0a1.85 1.85 0 1 0 -3.7 0M464.0 486.8a1.85 1.85 0 1 0 3.7 0a1.85 1.85 0 1 0 -3.7 0M465.8 483.7a1.85 1.85 0 1 0 3.7 0a1.85 1.85 0 1 0 -3.7 0M467.4 480.6a1.85 1.85 0 1 0 3.7 0a1.85 1.85 0 1 0 -3.7 0M469.2 477.3a1.85 1.85 0 1 0 3.7 0a1.85 1.85 0 1 0 -3.7 0M470.2 473.6a1.85 1.85 0 1 0 3.7 0a1.85 1.85 0 1 0 -3.7 0M471.1 470.0a1.85 1.85 0 1 0 3.7 0a1.85 1.85 0 1 0 -3.7 0M472.1 466.4a1.85 1.85 0 1 0 3.7 0a1.85 1.85 0 1 0 -3.7 0M358.5 442.2a1.85 1.85 0 1 0 3.7 0a1.85 1.85 0 1 0 -3.7 0M363.2 444.2a1.85 1.85 0 1 0 3.7 0a1.85 1.85 0 1 0 -3.7 0M367.8 446.1a1.85 1.85 0 1 0 3.7 0a1.85 1.85 0 1 0 -3.7 0M372.3 448.3a1.85 1.85 0 1 0 3.7 0a1.85 1.85 0 1 0 -3.7 0M376.7 450.5a1.85 1.85 0 1 0 3.7 0a1.85 1.85 0 1 0 -3.7 0M381.2 452.7a1.85 1.85 0 1 0 3.7 0a1.85 1.85 0 1 0 -3.7 0M385.7 455.0a1.85 1.85 0 1 0 3.7 0a1.85 1.85 0 1 0 -3.7 0M390.1 457.2a1.85 1.85 0 1 0 3.7 0a1.85 1.85 0 1 0 -3.7 0M394.3 460.1a1.85 1.85 0 1 0 3.7 0a1.85 1.85 0 1 0 -3.7 0M398.4 462.9a1.85 1.85 0 1 0 3.7 0a1.85 1.85 0 1 0 -3.7 0M402.5 465.8a1.85 1.85 0 1 0 3.7 0a1.85 1.85 0 1 0 -3.7 0M406.7 468.4a1.85 1.85 0 1 0 3.7 0a1.85 1.85 0 1 0 -3.7 0M411.0 471.0a1.85 1.85 0 1 0 3.7 0a1.85 1.85 0 1 0 -3.7 0M415.3 473.5a1.85 1.85 0 1 0 3.7 0a1.85 1.85 0 1 0 -3.7 0M419.8 475.8a1.85 1.85 0 1 0 3.7 0a1.85 1.85 0 1 0 -3.7 0M424.2 478.0a1.85 1.85 0 1 0 3.7 0a1.85 1.85 0 1 0 -3.7 0M428.7 480.2a1.85 1.85 0 1 0 3.7 0a1.85 1.85 0 1 0 -3.7 0M433.3 482.2a1.85 1.85 0 1 0 3.7 0a1.85 1.85 0 1 0 -3.7 0M437.9 484.2a1.85 1.85 0 1 0 3.7 0a1.85 1.85 0 1 0 -3.7 0M442.2 486.7a1.85 1.85 0 1 0 3.7 0a1.85 1.85 0 1 0 -3.7 0M446.2 489.7a1.85 1.85 0 1 0 3.7 0a1.85 1.85 0 1 0 -3.7 0M450.3 492.4a1.85 1.85 0 1 0 3.7 0a1.85 1.85 0 1 0 -3.7 0M454.8 494.8a1.85 1.85 0 1 0 3.7 0a1.85 1.85 0 1 0 -3.7 0M459.0 494.5a1.85 1.85 0 1 0 3.7 0a1.85 1.85 0 1 0 -3.7 0M461.9 490.5a1.85 1.85 0 1 0 3.7 0a1.85 1.85 0 1 0 -3.7 0M464.4 486.2a1.85 1.85 0 1 0 3.7 0a1.85 1.85 0 1 0 -3.7 0M466.8 481.8a1.85 1.85 0 1 0 3.7 0a1.85 1.85 0 1 0 -3.7 0M469.2 477.4a1.85 1.85 0 1 0 3.7 0a1.85 1.85 0 1 0 -3.7 0M470.5 472.6a1.85 1.85 0 1 0 3.7 0a1.85 1.85 0 1 0 -3.7 0M471.7 467.7a1.85 1.85 0 1 0 3.7 0a1.85 1.85 0 1 0 -3.7 0M472.4 462.8a1.85 1.85 0 1 0 3.7 0a1.85 1.85 0 1 0 -3.7 0M472.7 457.8a1.85 1.85 0 1 0 3.7 0a1.85 1.85 0 1 0 -3.7 0M472.9 452.8a1.85 1.85 0 1 0 3.7 0a1.85 1.85 0 1 0 -3.7 0M473.0 447.8a1.85 1.85 0 1 0 3.7 0a1.85 1.85 0 1 0 -3.7 0M473.2 442.8a1.85 1.85 0 1 0 3.7 0a1.85 1.85 0 1 0 -3.7 0M456.9 496.0a1.85 1.85 0 1 0 3.7 0a1.85 1.85 0 1 0 -3.7 0M457.9 495.3a1.85 1.85 0 1 0 3.7 0a1.85 1.85 0 1 0 -3.7 0M458.8 494.6a1.85 1.85 0 1 0 3.7 0a1.85 1.85 0 1 0 -3.7 0M459.8 493.9a1.85 1.85 0 1 0 3.7 0a1.85 1.85 0 1 0 -3.7 0M459.8 493.9a1.85 1.85 0 1 0 3.7 0a1.85 1.85 0 1 0 -3.7 0M460.4 493.0a1.85 1.85 0 1 0 3.7 0a1.85 1.85 0 1 0 -3.7 0M461.0 492.0a1.85 1.85 0 1 0 3.7 0a1.85 1.85 0 1 0 -3.7 0M461.6 491.0a1.85 1.85 0 1 0 3.7 0a1.85 1.85 0 1 0 -3.7 0M462.2 490.1a1.85 1.85 0 1 0 3.7 0a1.85 1.85 0 1 0 -3.7 0M462.8 489.1a1.85 1.85 0 1 0 3.7 0a1.85 1.85 0 1 0 -3.7 0M462.8 489.1a1.85 1.85 0 1 0 3.7 0a1.85 1.85 0 1 0 -3.7 0M463.3 488.2a1.85 1.85 0 1 0 3.7 0a1.85 1.85 0 1 0 -3.7 0M463.8 487.3a1.85 1.85 0 1 0 3.7 0a1.85 1.85 0 1 0 -3.7 0M464.3 486.4a1.85 1.85 0 1 0 3.7 0a1.85 1.85 0 1 0 -3.7 0M464.8 485.5a1.85 1.85 0 1 0 3.7 0a1.85 1.85 0 1 0 -3.7 0M465.3 484.6a1.85 1.85 0 1 0 3.7 0a1.85 1.85 0 1 0 -3.7 0M465.8 483.7a1.85 1.85 0 1 0 3.7 0a1.85 1.85 0 1 0 -3.7 0M466.3 482.8a1.85 1.85 0 1 0 3.7 0a1.85 1.85 0 1 0 -3.7 0M466.8 481.8a1.85 1.85 0 1 0 3.7 0a1.85 1.85 0 1 0 -3.7 0M467.3 480.9a1.85 1.85 0 1 0 3.7 0a1.85 1.85 0 1 0 -3.7 0M467.7 480.0a1.85 1.85 0 1 0 3.7 0a1.85 1.85 0 1 0 -3.7 0M468.2 479.1a1.85 1.85 0 1 0 3.7 0a1.85 1.85 0 1 0 -3.7 0M468.7 478.2a1.85 1.85 0 1 0 3.7 0a1.85 1.85 0 1 0 -3.7 0M469.2 477.3a1.85 1.85 0 1 0 3.7 0a1.85 1.85 0 1 0 -3.7 0M469.2 477.3a1.85 1.85 0 1 0 3.7 0a1.85 1.85 0 1 0 -3.7 0M469.5 476.3a1.85 1.85 0 1 0 3.7 0a1.85 1.85 0 1 0 -3.7 0M469.8 475.2a1.85 1.85 0 1 0 3.7 0a1.85 1.85 0 1 0 -3.7 0M470.1 474.2a1.85 1.85 0 1 0 3.7 0a1.85 1.85 0 1 0 -3.7 0M470.3 473.1a1.85 1.85 0 1 0 3.7 0a1.85 1.85 0 1 0 -3.7 0M470.6 472.0a1.85 1.85 0 1 0 3.7 0a1.85 1.85 0 1 0 -3.7 0M470.9 471.0a1.85 1.85 0 1 0 3.7 0a1.85 1.85 0 1 0 -3.7 0M471.2 469.9a1.85 1.85 0 1 0 3.7 0a1.85 1.85 0 1 0 -3.7 0M471.4 468.9a1.85 1.85 0 1 0 3.7 0a1.85 1.85 0 1 0 -3.7 0M471.7 467.8a1.85 1.85 0 1 0 3.7 0a1.85 1.85 0 1 0 -3.7 0M472.0 466.8a1.85 1.85 0 1 0 3.7 0a1.85 1.85 0 1 0 -3.7 0M472.3 465.7a1.85 1.85 0 1 0 3.7 0a1.85 1.85 0 1 0 -3.7 0M472.3 465.7a1.85 1.85 0 1 0 3.7 0a1.85 1.85 0 1 0 -3.7 0M472.3 464.7a1.85 1.85 0 1 0 3.7 0a1.85 1.85 0 1 0 -3.7 0M472.4 463.6a1.85 1.85 0 1 0 3.7 0a1.85 1.85 0 1 0 -3.7 0M472.4 462.5a1.85 1.85 0 1 0 3.7 0a1.85 1.85 0 1 0 -3.7 0M472.5 461.4a1.85 1.85 0 1 0 3.7 0a1.85 1.85 0 1 0 -3.7 0M472.5 460.4a1.85 1.85 0 1 0 3.7 0a1.85 1.85 0 1 0 -3.7 0M472.6 459.3a1.85 1.85 0 1 0 3.7 0a1.85 1.85 0 1 0 -3.7 0M472.6 458.2a1.85 1.85 0 1 0 3.7 0a1.85 1.85 0 1 0 -3.7 0M472.7 457.2a1.85 1.85 0 1 0 3.7 0a1.85 1.85 0 1 0 -3.7 0M472.8 456.1a1.85 1.85 0 1 0 3.7 0a1.85 1.85 0 1 0 -3.7 0M472.8 455.0a1.85 1.85 0 1 0 3.7 0a1.85 1.85 0 1 0 -3.7 0M472.9 454.0a1.85 1.85 0 1 0 3.7 0a1.85 1.85 0 1 0 -3.7 0M472.9 454.0a1.85 1.85 0 1 0 3.7 0a1.85 1.85 0 1 0 -3.7 0M472.9 452.9a1.85 1.85 0 1 0 3.7 0a1.85 1.85 0 1 0 -3.7 0M472.9 451.8a1.85 1.85 0 1 0 3.7 0a1.85 1.85 0 1 0 -3.7 0M473.0 450.8a1.85 1.85 0 1 0 3.7 0a1.85 1.85 0 1 0 -3.7 0M473.0 449.7a1.85 1.85 0 1 0 3.7 0a1.85 1.85 0 1 0 -3.7 0M473.0 448.6a1.85 1.85 0 1 0 3.7 0a1.85 1.85 0 1 0 -3.7 0M473.1 447.5a1.85 1.85 0 1 0 3.7 0a1.85 1.85 0 1 0 -3.7 0M473.1 446.5a1.85 1.85 0 1 0 3.7 0a1.85 1.85 0 1 0 -3.7 0M473.1 445.4a1.85 1.85 0 1 0 3.7 0a1.85 1.85 0 1 0 -3.7 0M473.1 444.3a1.85 1.85 0 1 0 3.7 0a1.85 1.85 0 1 0 -3.7 0M473.2 443.3a1.85 1.85 0 1 0 3.7 0a1.85 1.85 0 1 0 -3.7 0M473.2 442.2a1.85 1.85 0 1 0 3.7 0a1.85 1.85 0 1 0 -3.7 0" fill="#33a244"/>
<defs><linearGradient id="rb4" x1="0" y1="0" x2="1" y2="0"><stop offset="0" stop-color="#e0303e"/><stop offset="0.282" stop-color="#e23848"/><stop offset="0.375" stop-color="#ec7888"/><stop offset="0.548" stop-color="#f4e8f0"/><stop offset="0.680" stop-color="#b8b4e0"/><stop offset="0.780" stop-color="#5050b4"/><stop offset="1" stop-color="#2a2a8c"/></linearGradient></defs>
<line x1="38" y1="549.25" x2="38" y2="559.9" stroke="#888" stroke-width="0.8"/>
<line x1="39.2" y1="549.25" x2="39.2" y2="559.9" stroke="#777" stroke-width="0.8"/>
<line x1="44.4" y1="549.25" x2="44.4" y2="559.9" stroke="#999" stroke-width="0.8"/>
<line x1="46.7" y1="549.25" x2="46.7" y2="559.9" stroke="#aaa" stroke-width="0.8"/>
<line x1="49.6" y1="549.25" x2="49.6" y2="559.9" stroke="#666" stroke-width="0.8"/>
<line x1="52.5" y1="549.25" x2="52.5" y2="559.9" stroke="#666" stroke-width="0.8"/>
<line x1="64.6" y1="549.25" x2="64.6" y2="559.9" stroke="#888" stroke-width="0.8"/>
<line x1="68.6" y1="549.25" x2="68.6" y2="559.9" stroke="#999" stroke-width="0.8"/>
<line x1="69.8" y1="549.25" x2="69.8" y2="559.9" stroke="#999" stroke-width="0.8"/>
<line x1="76.1" y1="549.25" x2="76.1" y2="559.9" stroke="#999" stroke-width="0.8"/>
<line x1="77.3" y1="549.25" x2="77.3" y2="559.9" stroke="#666" stroke-width="0.8"/>
<line x1="82.5" y1="549.25" x2="82.5" y2="559.9" stroke="#555" stroke-width="0.8"/>
<line x1="84.2" y1="549.25" x2="84.2" y2="559.9" stroke="#777" stroke-width="0.8"/>
<line x1="87.1" y1="549.25" x2="87.1" y2="559.9" stroke="#333" stroke-width="0.8"/>
<line x1="93.7" y1="549.25" x2="93.7" y2="559.9" stroke="#444" stroke-width="0.8"/>
<line x1="98.3" y1="549.25" x2="98.3" y2="559.9" stroke="#777" stroke-width="0.8"/>
<line x1="100.7" y1="549.25" x2="100.7" y2="559.9" stroke="#777" stroke-width="0.8"/>
<line x1="104.7" y1="549.25" x2="104.7" y2="559.9" stroke="#555" stroke-width="0.8"/>
<line x1="107" y1="549.25" x2="107" y2="559.9" stroke="#555" stroke-width="0.8"/>
<line x1="110.5" y1="549.25" x2="110.5" y2="559.9" stroke="#444" stroke-width="0.8"/>
<line x1="112.8" y1="549.25" x2="112.8" y2="559.9" stroke="#333" stroke-width="0.8"/>
<line x1="116.8" y1="549.25" x2="116.8" y2="559.9" stroke="#555" stroke-width="0.8"/>
<line x1="117.75" y1="549.25" x2="117.75" y2="559.9" stroke="#444" stroke-width="0.8"/>
<line x1="118.7" y1="549.25" x2="118.7" y2="559.9" stroke="#333" stroke-width="0.8"/>
<line x1="120.8" y1="549.25" x2="120.8" y2="559.9" stroke="#2a2a2a" stroke-width="0.8"/>
<line x1="122.6" y1="549.25" x2="122.6" y2="559.9" stroke="#2a2a2a" stroke-width="0.8"/>
<line x1="124.3" y1="549.25" x2="124.3" y2="559.9" stroke="#1a1a1a" stroke-width="0.8"/>
<line x1="126" y1="549.25" x2="126" y2="559.9" stroke="#1a1a1a" stroke-width="0.8"/>
<line x1="127.8" y1="549.25" x2="127.8" y2="559.9" stroke="#2a2a2a" stroke-width="0.8"/>
<line x1="130.1" y1="549.25" x2="130.1" y2="559.9" stroke="#2a2a2a" stroke-width="0.8"/>
<line x1="131.8" y1="549.25" x2="131.8" y2="559.9" stroke="#2a2a2a" stroke-width="0.8"/>
<line x1="133.5" y1="549.25" x2="133.5" y2="559.9" stroke="#111" stroke-width="0.8"/>
<line x1="135.3" y1="549.25" x2="135.3" y2="559.9" stroke="#222" stroke-width="0.8"/>
<line x1="137" y1="549.25" x2="137" y2="559.9" stroke="#2a2a2a" stroke-width="0.8"/>
<line x1="139.3" y1="549.25" x2="139.3" y2="559.9" stroke="#3a3a3a" stroke-width="0.8"/>
<line x1="141.6" y1="549.25" x2="141.6" y2="559.9" stroke="#222" stroke-width="0.8"/>
<line x1="143.3" y1="549.25" x2="143.3" y2="559.9" stroke="#1a1a1a" stroke-width="0.8"/>
<line x1="144.25" y1="549.25" x2="144.25" y2="559.9" stroke="#1a1a1a" stroke-width="0.8"/>
<line x1="145.2" y1="549.25" x2="145.2" y2="559.9" stroke="#1a1a1a" stroke-width="0.8"/>
<line x1="146.15" y1="549.25" x2="146.15" y2="559.9" stroke="#3a3a3a" stroke-width="0.8"/>
<line x1="147.1" y1="549.25" x2="147.1" y2="559.9" stroke="#2a2a2a" stroke-width="0.8"/>
<rect x="35.5" y="559.6" width="113.2" height="2.3" fill="url(#rb4)"/>
<line x1="34.7" y1="563.8" x2="151.7" y2="563.8" stroke="#3a3a3a" stroke-width="1.0"/>
<line x1="63.95" y1="563.8" x2="63.95" y2="565.6" stroke="#222" stroke-width="1.0"/>
<line x1="93.2" y1="563.8" x2="93.2" y2="565.6" stroke="#222" stroke-width="1.0"/>
<line x1="122.45" y1="563.8" x2="122.45" y2="565.6" stroke="#222" stroke-width="1.0"/>
<line x1="151.7" y1="563.8" x2="151.7" y2="565.6" stroke="#222" stroke-width="1.0"/>
<line x1="34.7" y1="548.15" x2="34.7" y2="624.9" stroke="#1a1a1a" stroke-width="1.2"/>
<line x1="32.5" y1="548.65" x2="34.7" y2="548.65" stroke="#1a1a1a" stroke-width="1.1"/>
<text x="31.5" y="550.95" font-size="6.7" fill="#222" text-anchor="end" stroke="#222" stroke-width="0.1">0.2</text>
<line x1="32.5" y1="563.8" x2="34.7" y2="563.8" stroke="#1a1a1a" stroke-width="1.1"/>
<text x="31.5" y="566.1" font-size="6.7" fill="#222" text-anchor="end" stroke="#222" stroke-width="0.1">0.0</text>
<line x1="32.5" y1="578.95" x2="34.7" y2="578.95" stroke="#1a1a1a" stroke-width="1.1"/>
<text x="31.5" y="581.25" font-size="6.7" fill="#222" text-anchor="end" stroke="#222" stroke-width="0.1">−0.2</text>
<line x1="32.5" y1="594.1" x2="34.7" y2="594.1" stroke="#1a1a1a" stroke-width="1.1"/>
<text x="31.5" y="596.4" font-size="6.7" fill="#222" text-anchor="end" stroke="#222" stroke-width="0.1">−0.4</text>
<line x1="32.5" y1="609.25" x2="34.7" y2="609.25" stroke="#1a1a1a" stroke-width="1.1"/>
<text x="31.5" y="611.55" font-size="6.7" fill="#222" text-anchor="end" stroke="#222" stroke-width="0.1">−0.6</text>
<line x1="32.5" y1="624.4" x2="34.7" y2="624.4" stroke="#1a1a1a" stroke-width="1.1"/>
<text x="31.5" y="626.7" font-size="6.7" fill="#222" text-anchor="end" stroke="#222" stroke-width="0.1">−0.8</text>
<text x="11.6" y="586.52" font-size="6.5" fill="#222" text-anchor="middle" stroke="#222" stroke-width="0.1" transform="rotate(-90 11.6 586.52)" dominant-baseline="central">Enrichment score</text>
<text x="100.5" y="535" font-size="6.5" fill="#222" text-anchor="middle" stroke="#222" stroke-width="0.1">ATF4 target genes (HBL1)</text>
<text x="100.5" y="542.2" font-size="6.5" fill="#222" text-anchor="middle" stroke="#222" stroke-width="0.1">shSIRT3-2 vs. shCtr (day 8)</text>
<text x="39.8" y="615.6" font-size="6.4" fill="#222" stroke="#222" stroke-width="0.1">NES = −2.121</text>
<text x="39.8" y="623.6" font-size="6.4" fill="#222" stroke="#222" stroke-width="0.1">FDR = 0</text>
<path d="M34.7 563.8 L39.38 563.8 L44.53 566 L52.25 569.86 L63.83 577.59 L76.82 586.68 L89.81 595.77 L102.91 603.57 L115.9 611.37 L123.85 614.1 L134.15 610.31 L140.35 602.74 L144.21 596.07 L147.49 578.95 L149.36 563.8" fill="none" stroke="#33a244" stroke-width="1.1" stroke-linejoin="round"/>
<path d="M36.1 563.8a1.85 1.85 0 1 0 3.7 0a1.85 1.85 0 1 0 -3.7 0M37.4 563.8a1.85 1.85 0 1 0 3.7 0a1.85 1.85 0 1 0 -3.7 0M42.5 565.9a1.85 1.85 0 1 0 3.7 0a1.85 1.85 0 1 0 -3.7 0M44.9 567.1a1.85 1.85 0 1 0 3.7 0a1.85 1.85 0 1 0 -3.7 0M47.8 568.5a1.85 1.85 0 1 0 3.7 0a1.85 1.85 0 1 0 -3.7 0M50.6 570.0a1.85 1.85 0 1 0 3.7 0a1.85 1.85 0 1 0 -3.7 0M62.7 578.1a1.85 1.85 0 1 0 3.7 0a1.85 1.85 0 1 0 -3.7 0M66.8 580.9a1.85 1.85 0 1 0 3.7 0a1.85 1.85 0 1 0 -3.7 0M68.0 581.8a1.85 1.85 0 1 0 3.7 0a1.85 1.85 0 1 0 -3.7 0M74.2 586.2a1.85 1.85 0 1 0 3.7 0a1.85 1.85 0 1 0 -3.7 0M75.5 587.0a1.85 1.85 0 1 0 3.7 0a1.85 1.85 0 1 0 -3.7 0M80.7 590.7a1.85 1.85 0 1 0 3.7 0a1.85 1.85 0 1 0 -3.7 0M82.4 591.8a1.85 1.85 0 1 0 3.7 0a1.85 1.85 0 1 0 -3.7 0M85.2 593.9a1.85 1.85 0 1 0 3.7 0a1.85 1.85 0 1 0 -3.7 0M91.9 598.1a1.85 1.85 0 1 0 3.7 0a1.85 1.85 0 1 0 -3.7 0M96.5 600.8a1.85 1.85 0 1 0 3.7 0a1.85 1.85 0 1 0 -3.7 0M98.9 602.3a1.85 1.85 0 1 0 3.7 0a1.85 1.85 0 1 0 -3.7 0M102.9 604.6a1.85 1.85 0 1 0 3.7 0a1.85 1.85 0 1 0 -3.7 0M105.2 606.0a1.85 1.85 0 1 0 3.7 0a1.85 1.85 0 1 0 -3.7 0M108.7 608.1a1.85 1.85 0 1 0 3.7 0a1.85 1.85 0 1 0 -3.7 0M111.0 609.5a1.85 1.85 0 1 0 3.7 0a1.85 1.85 0 1 0 -3.7 0M115.0 611.7a1.85 1.85 0 1 0 3.7 0a1.85 1.85 0 1 0 -3.7 0M115.9 612.0a1.85 1.85 0 1 0 3.7 0a1.85 1.85 0 1 0 -3.7 0M116.9 612.3a1.85 1.85 0 1 0 3.7 0a1.85 1.85 0 1 0 -3.7 0M119.0 613.1a1.85 1.85 0 1 0 3.7 0a1.85 1.85 0 1 0 -3.7 0M120.8 613.7a1.85 1.85 0 1 0 3.7 0a1.85 1.85 0 1 0 -3.7 0M122.5 613.9a1.85 1.85 0 1 0 3.7 0a1.85 1.85 0 1 0 -3.7 0M124.2 613.3a1.85 1.85 0 1 0 3.7 0a1.85 1.85 0 1 0 -3.7 0M126.0 612.6a1.85 1.85 0 1 0 3.7 0a1.85 1.85 0 1 0 -3.7 0M128.2 611.8a1.85 1.85 0 1 0 3.7 0a1.85 1.85 0 1 0 -3.7 0M130.0 611.2a1.85 1.85 0 1 0 3.7 0a1.85 1.85 0 1 0 -3.7 0M131.7 610.5a1.85 1.85 0 1 0 3.7 0a1.85 1.85 0 1 0 -3.7 0M133.5 608.9a1.85 1.85 0 1 0 3.7 0a1.85 1.85 0 1 0 -3.7 0M135.2 606.8a1.85 1.85 0 1 0 3.7 0a1.85 1.85 0 1 0 -3.7 0M137.5 604.0a1.85 1.85 0 1 0 3.7 0a1.85 1.85 0 1 0 -3.7 0M139.8 600.6a1.85 1.85 0 1 0 3.7 0a1.85 1.85 0 1 0 -3.7 0M141.5 597.6a1.85 1.85 0 1 0 3.7 0a1.85 1.85 0 1 0 -3.7 0M142.4 595.9a1.85 1.85 0 1 0 3.7 0a1.85 1.85 0 1 0 -3.7 0M143.3 590.9a1.85 1.85 0 1 0 3.7 0a1.85 1.85 0 1 0 -3.7 0M144.3 585.9a1.85 1.85 0 1 0 3.7 0a1.85 1.85 0 1 0 -3.7 0M145.2 581.0a1.85 1.85 0 1 0 3.7 0a1.85 1.85 0 1 0 -3.7 0M32.9 563.8a1.85 1.85 0 1 0 3.7 0a1.85 1.85 0 1 0 -3.7 0M37.8 563.9a1.85 1.85 0 1 0 3.7 0a1.85 1.85 0 1 0 -3.7 0M42.4 565.9a1.85 1.85 0 1 0 3.7 0a1.85 1.85 0 1 0 -3.7 0M46.9 568.1a1.85 1.85 0 1 0 3.7 0a1.85 1.85 0 1 0 -3.7 0M51.3 570.5a1.85 1.85 0 1 0 3.7 0a1.85 1.85 0 1 0 -3.7 0M55.5 573.2a1.85 1.85 0 1 0 3.7 0a1.85 1.85 0 1 0 -3.7 0M59.6 576.0a1.85 1.85 0 1 0 3.7 0a1.85 1.85 0 1 0 -3.7 0M63.8 578.8a1.85 1.85 0 1 0 3.7 0a1.85 1.85 0 1 0 -3.7 0M67.9 581.7a1.85 1.85 0 1 0 3.7 0a1.85 1.85 0 1 0 -3.7 0M71.9 584.6a1.85 1.85 0 1 0 3.7 0a1.85 1.85 0 1 0 -3.7 0M76.0 587.4a1.85 1.85 0 1 0 3.7 0a1.85 1.85 0 1 0 -3.7 0M80.1 590.3a1.85 1.85 0 1 0 3.7 0a1.85 1.85 0 1 0 -3.7 0M84.2 593.2a1.85 1.85 0 1 0 3.7 0a1.85 1.85 0 1 0 -3.7 0M88.4 596.0a1.85 1.85 0 1 0 3.7 0a1.85 1.85 0 1 0 -3.7 0M92.6 598.6a1.85 1.85 0 1 0 3.7 0a1.85 1.85 0 1 0 -3.7 0M96.9 601.1a1.85 1.85 0 1 0 3.7 0a1.85 1.85 0 1 0 -3.7 0M101.2 603.7a1.85 1.85 0 1 0 3.7 0a1.85 1.85 0 1 0 -3.7 0M105.5 606.3a1.85 1.85 0 1 0 3.7 0a1.85 1.85 0 1 0 -3.7 0M109.8 608.8a1.85 1.85 0 1 0 3.7 0a1.85 1.85 0 1 0 -3.7 0M114.1 611.4a1.85 1.85 0 1 0 3.7 0a1.85 1.85 0 1 0 -3.7 0M118.8 613.0a1.85 1.85 0 1 0 3.7 0a1.85 1.85 0 1 0 -3.7 0M123.6 613.5a1.85 1.85 0 1 0 3.7 0a1.85 1.85 0 1 0 -3.7 0M128.2 611.8a1.85 1.85 0 1 0 3.7 0a1.85 1.85 0 1 0 -3.7 0M132.7 609.8a1.85 1.85 0 1 0 3.7 0a1.85 1.85 0 1 0 -3.7 0M135.9 605.9a1.85 1.85 0 1 0 3.7 0a1.85 1.85 0 1 0 -3.7 0M138.9 602.0a1.85 1.85 0 1 0 3.7 0a1.85 1.85 0 1 0 -3.7 0M141.5 597.6a1.85 1.85 0 1 0 3.7 0a1.85 1.85 0 1 0 -3.7 0M143.0 592.9a1.85 1.85 0 1 0 3.7 0a1.85 1.85 0 1 0 -3.7 0M143.9 588.0a1.85 1.85 0 1 0 3.7 0a1.85 1.85 0 1 0 -3.7 0M144.8 583.1a1.85 1.85 0 1 0 3.7 0a1.85 1.85 0 1 0 -3.7 0M145.7 578.2a1.85 1.85 0 1 0 3.7 0a1.85 1.85 0 1 0 -3.7 0M146.3 573.2a1.85 1.85 0 1 0 3.7 0a1.85 1.85 0 1 0 -3.7 0M147.0 568.3a1.85 1.85 0 1 0 3.7 0a1.85 1.85 0 1 0 -3.7 0M122.0 614.1a1.85 1.85 0 1 0 3.7 0a1.85 1.85 0 1 0 -3.7 0M123.0 613.7a1.85 1.85 0 1 0 3.7 0a1.85 1.85 0 1 0 -3.7 0M124.1 613.3a1.85 1.85 0 1 0 3.7 0a1.85 1.85 0 1 0 -3.7 0M125.1 613.0a1.85 1.85 0 1 0 3.7 0a1.85 1.85 0 1 0 -3.7 0M126.1 612.6a1.85 1.85 0 1 0 3.7 0a1.85 1.85 0 1 0 -3.7 0M127.2 612.2a1.85 1.85 0 1 0 3.7 0a1.85 1.85 0 1 0 -3.7 0M128.2 611.8a1.85 1.85 0 1 0 3.7 0a1.85 1.85 0 1 0 -3.7 0M129.2 611.4a1.85 1.85 0 1 0 3.7 0a1.85 1.85 0 1 0 -3.7 0M130.2 611.1a1.85 1.85 0 1 0 3.7 0a1.85 1.85 0 1 0 -3.7 0M131.3 610.7a1.85 1.85 0 1 0 3.7 0a1.85 1.85 0 1 0 -3.7 0M132.3 610.3a1.85 1.85 0 1 0 3.7 0a1.85 1.85 0 1 0 -3.7 0M132.3 610.3a1.85 1.85 0 1 0 3.7 0a1.85 1.85 0 1 0 -3.7 0M133.0 609.5a1.85 1.85 0 1 0 3.7 0a1.85 1.85 0 1 0 -3.7 0M133.7 608.6a1.85 1.85 0 1 0 3.7 0a1.85 1.85 0 1 0 -3.7 0M134.4 607.8a1.85 1.85 0 1 0 3.7 0a1.85 1.85 0 1 0 -3.7 0M135.1 606.9a1.85 1.85 0 1 0 3.7 0a1.85 1.85 0 1 0 -3.7 0M135.7 606.1a1.85 1.85 0 1 0 3.7 0a1.85 1.85 0 1 0 -3.7 0M136.4 605.3a1.85 1.85 0 1 0 3.7 0a1.85 1.85 0 1 0 -3.7 0M137.1 604.4a1.85 1.85 0 1 0 3.7 0a1.85 1.85 0 1 0 -3.7 0M137.8 603.6a1.85 1.85 0 1 0 3.7 0a1.85 1.85 0 1 0 -3.7 0M138.5 602.7a1.85 1.85 0 1 0 3.7 0a1.85 1.85 0 1 0 -3.7 0M138.5 602.7a1.85 1.85 0 1 0 3.7 0a1.85 1.85 0 1 0 -3.7 0M139.1 601.8a1.85 1.85 0 1 0 3.7 0a1.85 1.85 0 1 0 -3.7 0M139.6 600.8a1.85 1.85 0 1 0 3.7 0a1.85 1.85 0 1 0 -3.7 0M140.2 599.9a1.85 1.85 0 1 0 3.7 0a1.85 1.85 0 1 0 -3.7 0M140.7 598.9a1.85 1.85 0 1 0 3.7 0a1.85 1.85 0 1 0 -3.7 0M141.3 598.0a1.85 1.85 0 1 0 3.7 0a1.85 1.85 0 1 0 -3.7 0M141.8 597.0a1.85 1.85 0 1 0 3.7 0a1.85 1.85 0 1 0 -3.7 0M142.4 596.1a1.85 1.85 0 1 0 3.7 0a1.85 1.85 0 1 0 -3.7 0M142.4 596.1a1.85 1.85 0 1 0 3.7 0a1.85 1.85 0 1 0 -3.7 0M142.6 595.1a1.85 1.85 0 1 0 3.7 0a1.85 1.85 0 1 0 -3.7 0M142.7 594.1a1.85 1.85 0 1 0 3.7 0a1.85 1.85 0 1 0 -3.7 0M142.9 593.0a1.85 1.85 0 1 0 3.7 0a1.85 1.85 0 1 0 -3.7 0M143.1 592.0a1.85 1.85 0 1 0 3.7 0a1.85 1.85 0 1 0 -3.7 0M143.3 591.0a1.85 1.85 0 1 0 3.7 0a1.85 1.85 0 1 0 -3.7 0M143.5 590.0a1.85 1.85 0 1 0 3.7 0a1.85 1.85 0 1 0 -3.7 0M143.7 589.0a1.85 1.85 0 1 0 3.7 0a1.85 1.85 0 1 0 -3.7 0M143.9 588.0a1.85 1.85 0 1 0 3.7 0a1.85 1.85 0 1 0 -3.7 0M144.1 587.0a1.85 1.85 0 1 0 3.7 0a1.85 1.85 0 1 0 -3.7 0M144.3 586.0a1.85 1.85 0 1 0 3.7 0a1.85 1.85 0 1 0 -3.7 0M144.5 585.0a1.85 1.85 0 1 0 3.7 0a1.85 1.85 0 1 0 -3.7 0M144.7 584.0a1.85 1.85 0 1 0 3.7 0a1.85 1.85 0 1 0 -3.7 0M144.9 583.0a1.85 1.85 0 1 0 3.7 0a1.85 1.85 0 1 0 -3.7 0M145.1 582.0a1.85 1.85 0 1 0 3.7 0a1.85 1.85 0 1 0 -3.7 0M145.3 581.0a1.85 1.85 0 1 0 3.7 0a1.85 1.85 0 1 0 -3.7 0M145.4 580.0a1.85 1.85 0 1 0 3.7 0a1.85 1.85 0 1 0 -3.7 0M145.6 578.9a1.85 1.85 0 1 0 3.7 0a1.85 1.85 0 1 0 -3.7 0M145.6 578.9a1.85 1.85 0 1 0 3.7 0a1.85 1.85 0 1 0 -3.7 0M145.8 577.9a1.85 1.85 0 1 0 3.7 0a1.85 1.85 0 1 0 -3.7 0M145.9 576.9a1.85 1.85 0 1 0 3.7 0a1.85 1.85 0 1 0 -3.7 0M146.0 575.9a1.85 1.85 0 1 0 3.7 0a1.85 1.85 0 1 0 -3.7 0M146.1 574.9a1.85 1.85 0 1 0 3.7 0a1.85 1.85 0 1 0 -3.7 0M146.3 573.9a1.85 1.85 0 1 0 3.7 0a1.85 1.85 0 1 0 -3.7 0M146.4 572.9a1.85 1.85 0 1 0 3.7 0a1.85 1.85 0 1 0 -3.7 0M146.5 571.9a1.85 1.85 0 1 0 3.7 0a1.85 1.85 0 1 0 -3.7 0M146.6 570.9a1.85 1.85 0 1 0 3.7 0a1.85 1.85 0 1 0 -3.7 0M146.8 569.9a1.85 1.85 0 1 0 3.7 0a1.85 1.85 0 1 0 -3.7 0M146.9 568.8a1.85 1.85 0 1 0 3.7 0a1.85 1.85 0 1 0 -3.7 0M147.0 567.8a1.85 1.85 0 1 0 3.7 0a1.85 1.85 0 1 0 -3.7 0M147.1 566.8a1.85 1.85 0 1 0 3.7 0a1.85 1.85 0 1 0 -3.7 0M147.3 565.8a1.85 1.85 0 1 0 3.7 0a1.85 1.85 0 1 0 -3.7 0M147.4 564.8a1.85 1.85 0 1 0 3.7 0a1.85 1.85 0 1 0 -3.7 0M147.5 563.8a1.85 1.85 0 1 0 3.7 0a1.85 1.85 0 1 0 -3.7 0" fill="#33a244"/>
<defs><linearGradient id="rb5" x1="0" y1="0" x2="1" y2="0"><stop offset="0" stop-color="#e0303e"/><stop offset="0.283" stop-color="#e23848"/><stop offset="0.377" stop-color="#ec7888"/><stop offset="0.584" stop-color="#f4e8f0"/><stop offset="0.752" stop-color="#b8b4e0"/><stop offset="0.852" stop-color="#5050b4"/><stop offset="1" stop-color="#2a2a8c"/></linearGradient></defs>
<line x1="200.6" y1="549.5" x2="200.6" y2="560.7" stroke="#555" stroke-width="0.8"/>
<line x1="201.8" y1="549.5" x2="201.8" y2="560.7" stroke="#777" stroke-width="0.8"/>
<line x1="208.1" y1="549.5" x2="208.1" y2="560.7" stroke="#aaa" stroke-width="0.8"/>
<line x1="211.6" y1="549.5" x2="211.6" y2="560.7" stroke="#777" stroke-width="0.8"/>
<line x1="212.7" y1="549.5" x2="212.7" y2="560.7" stroke="#aaa" stroke-width="0.8"/>
<line x1="215" y1="549.5" x2="215" y2="560.7" stroke="#aaa" stroke-width="0.8"/>
<line x1="217.3" y1="549.5" x2="217.3" y2="560.7" stroke="#aaa" stroke-width="0.8"/>
<line x1="218.5" y1="549.5" x2="218.5" y2="560.7" stroke="#555" stroke-width="0.8"/>
<line x1="221.4" y1="549.5" x2="221.4" y2="560.7" stroke="#999" stroke-width="0.8"/>
<line x1="222.5" y1="549.5" x2="222.5" y2="560.7" stroke="#666" stroke-width="0.8"/>
<line x1="224.3" y1="549.5" x2="224.3" y2="560.7" stroke="#888" stroke-width="0.8"/>
<line x1="229.5" y1="549.5" x2="229.5" y2="560.7" stroke="#aaa" stroke-width="0.8"/>
<line x1="231.2" y1="549.5" x2="231.2" y2="560.7" stroke="#999" stroke-width="0.8"/>
<line x1="236.4" y1="549.5" x2="236.4" y2="560.7" stroke="#888" stroke-width="0.8"/>
<line x1="241.6" y1="549.5" x2="241.6" y2="560.7" stroke="#999" stroke-width="0.8"/>
<line x1="246.8" y1="549.5" x2="246.8" y2="560.7" stroke="#777" stroke-width="0.8"/>
<line x1="261.3" y1="549.5" x2="261.3" y2="560.7" stroke="#666" stroke-width="0.8"/>
<line x1="263.1" y1="549.5" x2="263.1" y2="560.7" stroke="#444" stroke-width="0.8"/>
<line x1="270" y1="549.5" x2="270" y2="560.7" stroke="#666" stroke-width="0.8"/>
<line x1="274" y1="549.5" x2="274" y2="560.7" stroke="#777" stroke-width="0.8"/>
<line x1="275.8" y1="549.5" x2="275.8" y2="560.7" stroke="#333" stroke-width="0.8"/>
<line x1="279.2" y1="549.5" x2="279.2" y2="560.7" stroke="#777" stroke-width="0.8"/>
<line x1="282.1" y1="549.5" x2="282.1" y2="560.7" stroke="#444" stroke-width="0.8"/>
<line x1="283.05" y1="549.5" x2="283.05" y2="560.7" stroke="#333" stroke-width="0.8"/>
<line x1="286.2" y1="549.5" x2="286.2" y2="560.7" stroke="#1a1a1a" stroke-width="0.8"/>
<line x1="288.5" y1="549.5" x2="288.5" y2="560.7" stroke="#3a3a3a" stroke-width="0.8"/>
<line x1="289.45" y1="549.5" x2="289.45" y2="560.7" stroke="#2a2a2a" stroke-width="0.8"/>
<line x1="290.4" y1="549.5" x2="290.4" y2="560.7" stroke="#1a1a1a" stroke-width="0.8"/>
<line x1="291.35" y1="549.5" x2="291.35" y2="560.7" stroke="#3a3a3a" stroke-width="0.8"/>
<line x1="294.2" y1="549.5" x2="294.2" y2="560.7" stroke="#1a1a1a" stroke-width="0.8"/>
<line x1="296" y1="549.5" x2="296" y2="560.7" stroke="#111" stroke-width="0.8"/>
<line x1="298.3" y1="549.5" x2="298.3" y2="560.7" stroke="#1a1a1a" stroke-width="0.8"/>
<line x1="300.6" y1="549.5" x2="300.6" y2="560.7" stroke="#222" stroke-width="0.8"/>
<line x1="302.9" y1="549.5" x2="302.9" y2="560.7" stroke="#222" stroke-width="0.8"/>
<line x1="304.6" y1="549.5" x2="304.6" y2="560.7" stroke="#3a3a3a" stroke-width="0.8"/>
<line x1="305.55" y1="549.5" x2="305.55" y2="560.7" stroke="#1a1a1a" stroke-width="0.8"/>
<line x1="306.5" y1="549.5" x2="306.5" y2="560.7" stroke="#1a1a1a" stroke-width="0.8"/>
<line x1="307.45" y1="549.5" x2="307.45" y2="560.7" stroke="#111" stroke-width="0.8"/>
<line x1="308.4" y1="549.5" x2="308.4" y2="560.7" stroke="#111" stroke-width="0.8"/>
<line x1="309.35" y1="549.5" x2="309.35" y2="560.7" stroke="#1a1a1a" stroke-width="0.8"/>
<line x1="310.3" y1="549.5" x2="310.3" y2="560.7" stroke="#1a1a1a" stroke-width="0.8"/>
<line x1="311.25" y1="549.5" x2="311.25" y2="560.7" stroke="#1a1a1a" stroke-width="0.8"/>
<line x1="312.2" y1="549.5" x2="312.2" y2="560.7" stroke="#1a1a1a" stroke-width="0.8"/>
<rect x="197.7" y="560.4" width="113.2" height="2.3" fill="url(#rb5)"/>
<line x1="196.9" y1="564.6" x2="313.9" y2="564.6" stroke="#3a3a3a" stroke-width="1.0"/>
<line x1="226.15" y1="564.6" x2="226.15" y2="566.4" stroke="#222" stroke-width="1.0"/>
<line x1="255.4" y1="564.6" x2="255.4" y2="566.4" stroke="#222" stroke-width="1.0"/>
<line x1="284.65" y1="564.6" x2="284.65" y2="566.4" stroke="#222" stroke-width="1.0"/>
<line x1="313.9" y1="564.6" x2="313.9" y2="566.4" stroke="#222" stroke-width="1.0"/>
<line x1="196.9" y1="548.4" x2="196.9" y2="627.9" stroke="#1a1a1a" stroke-width="1.2"/>
<line x1="194.7" y1="548.9" x2="196.9" y2="548.9" stroke="#1a1a1a" stroke-width="1.1"/>
<text x="193.7" y="551.2" font-size="6.7" fill="#222" text-anchor="end" stroke="#222" stroke-width="0.1">0.2</text>
<line x1="194.7" y1="564.6" x2="196.9" y2="564.6" stroke="#1a1a1a" stroke-width="1.1"/>
<text x="193.7" y="566.9" font-size="6.7" fill="#222" text-anchor="end" stroke="#222" stroke-width="0.1">0.0</text>
<line x1="194.7" y1="580.3" x2="196.9" y2="580.3" stroke="#1a1a1a" stroke-width="1.1"/>
<text x="193.7" y="582.6" font-size="6.7" fill="#222" text-anchor="end" stroke="#222" stroke-width="0.1">−0.2</text>
<line x1="194.7" y1="596" x2="196.9" y2="596" stroke="#1a1a1a" stroke-width="1.1"/>
<text x="193.7" y="598.3" font-size="6.7" fill="#222" text-anchor="end" stroke="#222" stroke-width="0.1">−0.4</text>
<line x1="194.7" y1="611.7" x2="196.9" y2="611.7" stroke="#1a1a1a" stroke-width="1.1"/>
<text x="193.7" y="614" font-size="6.7" fill="#222" text-anchor="end" stroke="#222" stroke-width="0.1">−0.6</text>
<line x1="194.7" y1="627.4" x2="196.9" y2="627.4" stroke="#1a1a1a" stroke-width="1.1"/>
<text x="193.7" y="629.7" font-size="6.7" fill="#222" text-anchor="end" stroke="#222" stroke-width="0.1">−0.8</text>
<text x="173" y="588.15" font-size="6.5" fill="#222" text-anchor="middle" stroke="#222" stroke-width="0.1" transform="rotate(-90 173 588.15)" dominant-baseline="central">Enrichment score</text>
<text x="260.2" y="535" font-size="6.5" fill="#222" text-anchor="middle" stroke="#222" stroke-width="0.1">ATF4 target genes (Karpas 422)</text>
<text x="260.2" y="542.2" font-size="6.5" fill="#222" text-anchor="middle" stroke="#222" stroke-width="0.1">shSIRT3-2 vs. shCtr (day 8)</text>
<text x="204.6" y="613.8" font-size="6.4" fill="#222" stroke="#222" stroke-width="0.1">NES = −2.450</text>
<text x="204.6" y="621.8" font-size="6.4" fill="#222" stroke="#222" stroke-width="0.1">FDR = 0</text>
<path d="M196.9 564.6 L202.52 564.6 L204.97 566.25 L215.03 571.27 L227.55 578.73 L239.96 587.52 L252.47 597.49 L264.99 605.03 L277.51 611.23 L290.03 616.25 L299.27 619.94 L303.6 621.9 L307.47 617.2 L310.39 599.93 L311.79 577.47 L312.73 564.6" fill="none" stroke="#33a244" stroke-width="1.1" stroke-linejoin="round"/>
<path d="M198.8 564.6a1.85 1.85 0 1 0 3.7 0a1.85 1.85 0 1 0 -3.7 0M200.0 564.6a1.85 1.85 0 1 0 3.7 0a1.85 1.85 0 1 0 -3.7 0M206.2 567.8a1.85 1.85 0 1 0 3.7 0a1.85 1.85 0 1 0 -3.7 0M209.8 569.6a1.85 1.85 0 1 0 3.7 0a1.85 1.85 0 1 0 -3.7 0M210.8 570.1a1.85 1.85 0 1 0 3.7 0a1.85 1.85 0 1 0 -3.7 0M213.2 571.3a1.85 1.85 0 1 0 3.7 0a1.85 1.85 0 1 0 -3.7 0M215.5 572.6a1.85 1.85 0 1 0 3.7 0a1.85 1.85 0 1 0 -3.7 0M216.7 573.3a1.85 1.85 0 1 0 3.7 0a1.85 1.85 0 1 0 -3.7 0M219.6 575.1a1.85 1.85 0 1 0 3.7 0a1.85 1.85 0 1 0 -3.7 0M220.7 575.7a1.85 1.85 0 1 0 3.7 0a1.85 1.85 0 1 0 -3.7 0M222.5 576.8a1.85 1.85 0 1 0 3.7 0a1.85 1.85 0 1 0 -3.7 0M227.7 580.1a1.85 1.85 0 1 0 3.7 0a1.85 1.85 0 1 0 -3.7 0M229.3 581.3a1.85 1.85 0 1 0 3.7 0a1.85 1.85 0 1 0 -3.7 0M234.6 585.0a1.85 1.85 0 1 0 3.7 0a1.85 1.85 0 1 0 -3.7 0M239.8 588.8a1.85 1.85 0 1 0 3.7 0a1.85 1.85 0 1 0 -3.7 0M245.0 593.0a1.85 1.85 0 1 0 3.7 0a1.85 1.85 0 1 0 -3.7 0M259.4 602.8a1.85 1.85 0 1 0 3.7 0a1.85 1.85 0 1 0 -3.7 0M261.2 603.9a1.85 1.85 0 1 0 3.7 0a1.85 1.85 0 1 0 -3.7 0M268.1 607.5a1.85 1.85 0 1 0 3.7 0a1.85 1.85 0 1 0 -3.7 0M272.1 609.5a1.85 1.85 0 1 0 3.7 0a1.85 1.85 0 1 0 -3.7 0M273.9 610.4a1.85 1.85 0 1 0 3.7 0a1.85 1.85 0 1 0 -3.7 0M277.3 611.9a1.85 1.85 0 1 0 3.7 0a1.85 1.85 0 1 0 -3.7 0M280.2 613.1a1.85 1.85 0 1 0 3.7 0a1.85 1.85 0 1 0 -3.7 0M281.2 613.5a1.85 1.85 0 1 0 3.7 0a1.85 1.85 0 1 0 -3.7 0M284.3 614.7a1.85 1.85 0 1 0 3.7 0a1.85 1.85 0 1 0 -3.7 0M286.6 615.6a1.85 1.85 0 1 0 3.7 0a1.85 1.85 0 1 0 -3.7 0M287.6 616.0a1.85 1.85 0 1 0 3.7 0a1.85 1.85 0 1 0 -3.7 0M288.5 616.4a1.85 1.85 0 1 0 3.7 0a1.85 1.85 0 1 0 -3.7 0M289.5 616.8a1.85 1.85 0 1 0 3.7 0a1.85 1.85 0 1 0 -3.7 0M292.3 617.9a1.85 1.85 0 1 0 3.7 0a1.85 1.85 0 1 0 -3.7 0M294.1 618.6a1.85 1.85 0 1 0 3.7 0a1.85 1.85 0 1 0 -3.7 0M296.4 619.6a1.85 1.85 0 1 0 3.7 0a1.85 1.85 0 1 0 -3.7 0M298.8 620.5a1.85 1.85 0 1 0 3.7 0a1.85 1.85 0 1 0 -3.7 0M301.0 621.6a1.85 1.85 0 1 0 3.7 0a1.85 1.85 0 1 0 -3.7 0M302.8 620.7a1.85 1.85 0 1 0 3.7 0a1.85 1.85 0 1 0 -3.7 0M303.7 619.5a1.85 1.85 0 1 0 3.7 0a1.85 1.85 0 1 0 -3.7 0M304.6 618.4a1.85 1.85 0 1 0 3.7 0a1.85 1.85 0 1 0 -3.7 0M305.6 617.2a1.85 1.85 0 1 0 3.7 0a1.85 1.85 0 1 0 -3.7 0M306.5 611.7a1.85 1.85 0 1 0 3.7 0a1.85 1.85 0 1 0 -3.7 0M307.5 606.1a1.85 1.85 0 1 0 3.7 0a1.85 1.85 0 1 0 -3.7 0M308.4 600.5a1.85 1.85 0 1 0 3.7 0a1.85 1.85 0 1 0 -3.7 0M309.4 586.2a1.85 1.85 0 1 0 3.7 0a1.85 1.85 0 1 0 -3.7 0M310.3 571.9a1.85 1.85 0 1 0 3.7 0a1.85 1.85 0 1 0 -3.7 0M195.1 564.6a1.85 1.85 0 1 0 3.7 0a1.85 1.85 0 1 0 -3.7 0M200.1 564.6a1.85 1.85 0 1 0 3.7 0a1.85 1.85 0 1 0 -3.7 0M204.4 566.9a1.85 1.85 0 1 0 3.7 0a1.85 1.85 0 1 0 -3.7 0M208.9 569.1a1.85 1.85 0 1 0 3.7 0a1.85 1.85 0 1 0 -3.7 0M213.3 571.4a1.85 1.85 0 1 0 3.7 0a1.85 1.85 0 1 0 -3.7 0M217.6 573.9a1.85 1.85 0 1 0 3.7 0a1.85 1.85 0 1 0 -3.7 0M221.9 576.5a1.85 1.85 0 1 0 3.7 0a1.85 1.85 0 1 0 -3.7 0M226.2 579.1a1.85 1.85 0 1 0 3.7 0a1.85 1.85 0 1 0 -3.7 0M230.3 582.0a1.85 1.85 0 1 0 3.7 0a1.85 1.85 0 1 0 -3.7 0M234.4 584.9a1.85 1.85 0 1 0 3.7 0a1.85 1.85 0 1 0 -3.7 0M238.4 587.8a1.85 1.85 0 1 0 3.7 0a1.85 1.85 0 1 0 -3.7 0M242.3 590.9a1.85 1.85 0 1 0 3.7 0a1.85 1.85 0 1 0 -3.7 0M246.2 594.0a1.85 1.85 0 1 0 3.7 0a1.85 1.85 0 1 0 -3.7 0M250.2 597.1a1.85 1.85 0 1 0 3.7 0a1.85 1.85 0 1 0 -3.7 0M254.4 599.8a1.85 1.85 0 1 0 3.7 0a1.85 1.85 0 1 0 -3.7 0M258.7 602.3a1.85 1.85 0 1 0 3.7 0a1.85 1.85 0 1 0 -3.7 0M263.0 604.9a1.85 1.85 0 1 0 3.7 0a1.85 1.85 0 1 0 -3.7 0M267.4 607.2a1.85 1.85 0 1 0 3.7 0a1.85 1.85 0 1 0 -3.7 0M271.9 609.4a1.85 1.85 0 1 0 3.7 0a1.85 1.85 0 1 0 -3.7 0M276.4 611.5a1.85 1.85 0 1 0 3.7 0a1.85 1.85 0 1 0 -3.7 0M281.1 613.4a1.85 1.85 0 1 0 3.7 0a1.85 1.85 0 1 0 -3.7 0M285.7 615.3a1.85 1.85 0 1 0 3.7 0a1.85 1.85 0 1 0 -3.7 0M290.3 617.1a1.85 1.85 0 1 0 3.7 0a1.85 1.85 0 1 0 -3.7 0M295.0 619.0a1.85 1.85 0 1 0 3.7 0a1.85 1.85 0 1 0 -3.7 0M299.6 620.9a1.85 1.85 0 1 0 3.7 0a1.85 1.85 0 1 0 -3.7 0M303.4 619.9a1.85 1.85 0 1 0 3.7 0a1.85 1.85 0 1 0 -3.7 0M305.9 615.7a1.85 1.85 0 1 0 3.7 0a1.85 1.85 0 1 0 -3.7 0M306.7 610.8a1.85 1.85 0 1 0 3.7 0a1.85 1.85 0 1 0 -3.7 0M307.5 605.8a1.85 1.85 0 1 0 3.7 0a1.85 1.85 0 1 0 -3.7 0M308.4 600.9a1.85 1.85 0 1 0 3.7 0a1.85 1.85 0 1 0 -3.7 0M308.8 595.9a1.85 1.85 0 1 0 3.7 0a1.85 1.85 0 1 0 -3.7 0M309.1 590.9a1.85 1.85 0 1 0 3.7 0a1.85 1.85 0 1 0 -3.7 0M309.4 585.9a1.85 1.85 0 1 0 3.7 0a1.85 1.85 0 1 0 -3.7 0M309.7 580.9a1.85 1.85 0 1 0 3.7 0a1.85 1.85 0 1 0 -3.7 0M310.1 576.0a1.85 1.85 0 1 0 3.7 0a1.85 1.85 0 1 0 -3.7 0M310.4 571.0a1.85 1.85 0 1 0 3.7 0a1.85 1.85 0 1 0 -3.7 0M310.8 566.0a1.85 1.85 0 1 0 3.7 0a1.85 1.85 0 1 0 -3.7 0M301.8 621.9a1.85 1.85 0 1 0 3.7 0a1.85 1.85 0 1 0 -3.7 0M302.4 621.1a1.85 1.85 0 1 0 3.7 0a1.85 1.85 0 1 0 -3.7 0M303.0 620.3a1.85 1.85 0 1 0 3.7 0a1.85 1.85 0 1 0 -3.7 0M303.7 619.5a1.85 1.85 0 1 0 3.7 0a1.85 1.85 0 1 0 -3.7 0M304.3 618.8a1.85 1.85 0 1 0 3.7 0a1.85 1.85 0 1 0 -3.7 0M305.0 618.0a1.85 1.85 0 1 0 3.7 0a1.85 1.85 0 1 0 -3.7 0M305.6 617.2a1.85 1.85 0 1 0 3.7 0a1.85 1.85 0 1 0 -3.7 0M305.6 617.2a1.85 1.85 0 1 0 3.7 0a1.85 1.85 0 1 0 -3.7 0M305.8 616.2a1.85 1.85 0 1 0 3.7 0a1.85 1.85 0 1 0 -3.7 0M306.0 615.2a1.85 1.85 0 1 0 3.7 0a1.85 1.85 0 1 0 -3.7 0M306.1 614.1a1.85 1.85 0 1 0 3.7 0a1.85 1.85 0 1 0 -3.7 0M306.3 613.1a1.85 1.85 0 1 0 3.7 0a1.85 1.85 0 1 0 -3.7 0M306.5 612.1a1.85 1.85 0 1 0 3.7 0a1.85 1.85 0 1 0 -3.7 0M306.6 611.1a1.85 1.85 0 1 0 3.7 0a1.85 1.85 0 1 0 -3.7 0M306.8 610.1a1.85 1.85 0 1 0 3.7 0a1.85 1.85 0 1 0 -3.7 0M307.0 609.1a1.85 1.85 0 1 0 3.7 0a1.85 1.85 0 1 0 -3.7 0M307.2 608.1a1.85 1.85 0 1 0 3.7 0a1.85 1.85 0 1 0 -3.7 0M307.3 607.0a1.85 1.85 0 1 0 3.7 0a1.85 1.85 0 1 0 -3.7 0M307.5 606.0a1.85 1.85 0 1 0 3.7 0a1.85 1.85 0 1 0 -3.7 0M307.7 605.0a1.85 1.85 0 1 0 3.7 0a1.85 1.85 0 1 0 -3.7 0M307.9 604.0a1.85 1.85 0 1 0 3.7 0a1.85 1.85 0 1 0 -3.7 0M308.0 603.0a1.85 1.85 0 1 0 3.7 0a1.85 1.85 0 1 0 -3.7 0M308.2 602.0a1.85 1.85 0 1 0 3.7 0a1.85 1.85 0 1 0 -3.7 0M308.4 600.9a1.85 1.85 0 1 0 3.7 0a1.85 1.85 0 1 0 -3.7 0M308.5 599.9a1.85 1.85 0 1 0 3.7 0a1.85 1.85 0 1 0 -3.7 0M308.5 599.9a1.85 1.85 0 1 0 3.7 0a1.85 1.85 0 1 0 -3.7 0M308.6 598.9a1.85 1.85 0 1 0 3.7 0a1.85 1.85 0 1 0 -3.7 0M308.7 597.9a1.85 1.85 0 1 0 3.7 0a1.85 1.85 0 1 0 -3.7 0M308.7 596.9a1.85 1.85 0 1 0 3.7 0a1.85 1.85 0 1 0 -3.7 0M308.8 595.8a1.85 1.85 0 1 0 3.7 0a1.85 1.85 0 1 0 -3.7 0M308.9 594.8a1.85 1.85 0 1 0 3.7 0a1.85 1.85 0 1 0 -3.7 0M308.9 593.8a1.85 1.85 0 1 0 3.7 0a1.85 1.85 0 1 0 -3.7 0M309.0 592.8a1.85 1.85 0 1 0 3.7 0a1.85 1.85 0 1 0 -3.7 0M309.1 591.8a1.85 1.85 0 1 0 3.7 0a1.85 1.85 0 1 0 -3.7 0M309.1 590.7a1.85 1.85 0 1 0 3.7 0a1.85 1.85 0 1 0 -3.7 0M309.2 589.7a1.85 1.85 0 1 0 3.7 0a1.85 1.85 0 1 0 -3.7 0M309.2 588.7a1.85 1.85 0 1 0 3.7 0a1.85 1.85 0 1 0 -3.7 0M309.3 587.7a1.85 1.85 0 1 0 3.7 0a1.85 1.85 0 1 0 -3.7 0M309.4 586.7a1.85 1.85 0 1 0 3.7 0a1.85 1.85 0 1 0 -3.7 0M309.4 585.6a1.85 1.85 0 1 0 3.7 0a1.85 1.85 0 1 0 -3.7 0M309.5 584.6a1.85 1.85 0 1 0 3.7 0a1.85 1.85 0 1 0 -3.7 0M309.6 583.6a1.85 1.85 0 1 0 3.7 0a1.85 1.85 0 1 0 -3.7 0M309.6 582.6a1.85 1.85 0 1 0 3.7 0a1.85 1.85 0 1 0 -3.7 0M309.7 581.6a1.85 1.85 0 1 0 3.7 0a1.85 1.85 0 1 0 -3.7 0M309.8 580.5a1.85 1.85 0 1 0 3.7 0a1.85 1.85 0 1 0 -3.7 0M309.8 579.5a1.85 1.85 0 1 0 3.7 0a1.85 1.85 0 1 0 -3.7 0M309.9 578.5a1.85 1.85 0 1 0 3.7 0a1.85 1.85 0 1 0 -3.7 0M309.9 577.5a1.85 1.85 0 1 0 3.7 0a1.85 1.85 0 1 0 -3.7 0M309.9 577.5a1.85 1.85 0 1 0 3.7 0a1.85 1.85 0 1 0 -3.7 0M310.0 576.4a1.85 1.85 0 1 0 3.7 0a1.85 1.85 0 1 0 -3.7 0M310.1 575.3a1.85 1.85 0 1 0 3.7 0a1.85 1.85 0 1 0 -3.7 0M310.2 574.3a1.85 1.85 0 1 0 3.7 0a1.85 1.85 0 1 0 -3.7 0M310.3 573.2a1.85 1.85 0 1 0 3.7 0a1.85 1.85 0 1 0 -3.7 0M310.3 572.1a1.85 1.85 0 1 0 3.7 0a1.85 1.85 0 1 0 -3.7 0M310.4 571.0a1.85 1.85 0 1 0 3.7 0a1.85 1.85 0 1 0 -3.7 0M310.5 570.0a1.85 1.85 0 1 0 3.7 0a1.85 1.85 0 1 0 -3.7 0M310.6 568.9a1.85 1.85 0 1 0 3.7 0a1.85 1.85 0 1 0 -3.7 0M310.6 567.8a1.85 1.85 0 1 0 3.7 0a1.85 1.85 0 1 0 -3.7 0M310.7 566.7a1.85 1.85 0 1 0 3.7 0a1.85 1.85 0 1 0 -3.7 0M310.8 565.7a1.85 1.85 0 1 0 3.7 0a1.85 1.85 0 1 0 -3.7 0M310.9 564.6a1.85 1.85 0 1 0 3.7 0a1.85 1.85 0 1 0 -3.7 0" fill="#33a244"/>
<defs><linearGradient id="rb6" x1="0" y1="0" x2="1" y2="0"><stop offset="0" stop-color="#e0303e"/><stop offset="0.260" stop-color="#e23848"/><stop offset="0.346" stop-color="#ec7888"/><stop offset="0.556" stop-color="#f4e8f0"/><stop offset="0.726" stop-color="#b8b4e0"/><stop offset="0.826" stop-color="#5050b4"/><stop offset="1" stop-color="#2a2a8c"/></linearGradient></defs>
<line x1="365.2" y1="547.7" x2="365.2" y2="558.9" stroke="#555" stroke-width="0.8"/>
<line x1="373.3" y1="547.7" x2="373.3" y2="558.9" stroke="#999" stroke-width="0.8"/>
<line x1="381.3" y1="547.7" x2="381.3" y2="558.9" stroke="#666" stroke-width="0.8"/>
<line x1="386" y1="547.7" x2="386" y2="558.9" stroke="#777" stroke-width="0.8"/>
<line x1="399.2" y1="547.7" x2="399.2" y2="558.9" stroke="#999" stroke-width="0.8"/>
<line x1="401" y1="547.7" x2="401" y2="558.9" stroke="#999" stroke-width="0.8"/>
<line x1="403.3" y1="547.7" x2="403.3" y2="558.9" stroke="#888" stroke-width="0.8"/>
<line x1="405.6" y1="547.7" x2="405.6" y2="558.9" stroke="#aaa" stroke-width="0.8"/>
<line x1="410.8" y1="547.7" x2="410.8" y2="558.9" stroke="#555" stroke-width="0.8"/>
<line x1="412.5" y1="547.7" x2="412.5" y2="558.9" stroke="#666" stroke-width="0.8"/>
<line x1="417.1" y1="547.7" x2="417.1" y2="558.9" stroke="#555" stroke-width="0.8"/>
<line x1="418.3" y1="547.7" x2="418.3" y2="558.9" stroke="#555" stroke-width="0.8"/>
<line x1="420.7" y1="547.7" x2="420.7" y2="558.9" stroke="#333" stroke-width="0.8"/>
<line x1="422.5" y1="547.7" x2="422.5" y2="558.9" stroke="#555" stroke-width="0.8"/>
<line x1="425.9" y1="547.7" x2="425.9" y2="558.9" stroke="#666" stroke-width="0.8"/>
<line x1="427.1" y1="547.7" x2="427.1" y2="558.9" stroke="#444" stroke-width="0.8"/>
<line x1="433.4" y1="547.7" x2="433.4" y2="558.9" stroke="#666" stroke-width="0.8"/>
<line x1="435.2" y1="547.7" x2="435.2" y2="558.9" stroke="#777" stroke-width="0.8"/>
<line x1="436.3" y1="547.7" x2="436.3" y2="558.9" stroke="#777" stroke-width="0.8"/>
<line x1="438.6" y1="547.7" x2="438.6" y2="558.9" stroke="#333" stroke-width="0.8"/>
<line x1="443.2" y1="547.7" x2="443.2" y2="558.9" stroke="#444" stroke-width="0.8"/>
<line x1="445" y1="547.7" x2="445" y2="558.9" stroke="#777" stroke-width="0.8"/>
<line x1="446.7" y1="547.7" x2="446.7" y2="558.9" stroke="#777" stroke-width="0.8"/>
<line x1="450.2" y1="547.7" x2="450.2" y2="558.9" stroke="#2a2a2a" stroke-width="0.8"/>
<line x1="452.5" y1="547.7" x2="452.5" y2="558.9" stroke="#222" stroke-width="0.8"/>
<line x1="454.2" y1="547.7" x2="454.2" y2="558.9" stroke="#111" stroke-width="0.8"/>
<line x1="455.9" y1="547.7" x2="455.9" y2="558.9" stroke="#3a3a3a" stroke-width="0.8"/>
<line x1="459.4" y1="547.7" x2="459.4" y2="558.9" stroke="#2a2a2a" stroke-width="0.8"/>
<line x1="461.1" y1="547.7" x2="461.1" y2="558.9" stroke="#111" stroke-width="0.8"/>
<line x1="463.4" y1="547.7" x2="463.4" y2="558.9" stroke="#2a2a2a" stroke-width="0.8"/>
<line x1="465.2" y1="547.7" x2="465.2" y2="558.9" stroke="#3a3a3a" stroke-width="0.8"/>
<line x1="467.5" y1="547.7" x2="467.5" y2="558.9" stroke="#2a2a2a" stroke-width="0.8"/>
<line x1="469.2" y1="547.7" x2="469.2" y2="558.9" stroke="#3a3a3a" stroke-width="0.8"/>
<line x1="470.9" y1="547.7" x2="470.9" y2="558.9" stroke="#111" stroke-width="0.8"/>
<line x1="473.2" y1="547.7" x2="473.2" y2="558.9" stroke="#1a1a1a" stroke-width="0.8"/>
<line x1="475" y1="547.7" x2="475" y2="558.9" stroke="#2a2a2a" stroke-width="0.8"/>
<rect x="362.3" y="558.6" width="113.2" height="2.3" fill="url(#rb6)"/>
<line x1="361.5" y1="562.8" x2="478.5" y2="562.8" stroke="#3a3a3a" stroke-width="1.0"/>
<line x1="390.75" y1="562.8" x2="390.75" y2="564.6" stroke="#222" stroke-width="1.0"/>
<line x1="420" y1="562.8" x2="420" y2="564.6" stroke="#222" stroke-width="1.0"/>
<line x1="449.25" y1="562.8" x2="449.25" y2="564.6" stroke="#222" stroke-width="1.0"/>
<line x1="478.5" y1="562.8" x2="478.5" y2="564.6" stroke="#222" stroke-width="1.0"/>
<line x1="361.5" y1="546.6" x2="361.5" y2="626.1" stroke="#1a1a1a" stroke-width="1.2"/>
<line x1="359.3" y1="547.1" x2="361.5" y2="547.1" stroke="#1a1a1a" stroke-width="1.1"/>
<text x="358.3" y="549.4" font-size="6.7" fill="#222" text-anchor="end" stroke="#222" stroke-width="0.1">0.2</text>
<line x1="359.3" y1="562.8" x2="361.5" y2="562.8" stroke="#1a1a1a" stroke-width="1.1"/>
<text x="358.3" y="565.1" font-size="6.7" fill="#222" text-anchor="end" stroke="#222" stroke-width="0.1">0.0</text>
<line x1="359.3" y1="578.5" x2="361.5" y2="578.5" stroke="#1a1a1a" stroke-width="1.1"/>
<text x="358.3" y="580.8" font-size="6.7" fill="#222" text-anchor="end" stroke="#222" stroke-width="0.1">−0.2</text>
<line x1="359.3" y1="594.2" x2="361.5" y2="594.2" stroke="#1a1a1a" stroke-width="1.1"/>
<text x="358.3" y="596.5" font-size="6.7" fill="#222" text-anchor="end" stroke="#222" stroke-width="0.1">−0.4</text>
<line x1="359.3" y1="609.9" x2="361.5" y2="609.9" stroke="#1a1a1a" stroke-width="1.1"/>
<text x="358.3" y="612.2" font-size="6.7" fill="#222" text-anchor="end" stroke="#222" stroke-width="0.1">−0.6</text>
<line x1="359.3" y1="625.6" x2="361.5" y2="625.6" stroke="#1a1a1a" stroke-width="1.1"/>
<text x="358.3" y="627.9" font-size="6.7" fill="#222" text-anchor="end" stroke="#222" stroke-width="0.1">−0.8</text>
<text x="336.9" y="586.35" font-size="6.5" fill="#222" text-anchor="middle" stroke="#222" stroke-width="0.1" transform="rotate(-90 336.9 586.35)" dominant-baseline="central">Enrichment score</text>
<text x="418" y="535" font-size="6.5" fill="#222" text-anchor="middle" stroke="#222" stroke-width="0.1">ATF4 target genes (OCI-LY1)</text>
<text x="418" y="542.2" font-size="6.5" fill="#222" text-anchor="middle" stroke="#222" stroke-width="0.1">shSIRT3-2 vs. shCtr (day 8)</text>
<text x="367.7" y="613.8" font-size="6.4" fill="#222" stroke="#222" stroke-width="0.1">NES = −2.305</text>
<text x="367.7" y="621.8" font-size="6.4" fill="#222" stroke="#222" stroke-width="0.1">FDR = 0</text>
<path d="M361.5 562.8 L372.5 567.51 L385.02 574.97 L399.99 585.02 L412.51 592.47 L425.03 600.01 L437.55 607.47 L447.5 611.23 L454.98 613.75 L460.01 615 L462.47 607.47 L466.22 603.78 L468.79 598.75 L471.25 587.53 L473.7 577.48 L475.46 567.51 L476.75 562.8" fill="none" stroke="#33a244" stroke-width="1.1" stroke-linejoin="round"/>
<path d="M363.3 564.4a1.85 1.85 0 1 0 3.7 0a1.85 1.85 0 1 0 -3.7 0M371.4 568.0a1.85 1.85 0 1 0 3.7 0a1.85 1.85 0 1 0 -3.7 0M379.4 572.8a1.85 1.85 0 1 0 3.7 0a1.85 1.85 0 1 0 -3.7 0M384.1 575.6a1.85 1.85 0 1 0 3.7 0a1.85 1.85 0 1 0 -3.7 0M397.3 584.5a1.85 1.85 0 1 0 3.7 0a1.85 1.85 0 1 0 -3.7 0M399.1 585.6a1.85 1.85 0 1 0 3.7 0a1.85 1.85 0 1 0 -3.7 0M401.4 587.0a1.85 1.85 0 1 0 3.7 0a1.85 1.85 0 1 0 -3.7 0M403.8 588.4a1.85 1.85 0 1 0 3.7 0a1.85 1.85 0 1 0 -3.7 0M408.9 591.5a1.85 1.85 0 1 0 3.7 0a1.85 1.85 0 1 0 -3.7 0M410.6 592.5a1.85 1.85 0 1 0 3.7 0a1.85 1.85 0 1 0 -3.7 0M415.2 595.2a1.85 1.85 0 1 0 3.7 0a1.85 1.85 0 1 0 -3.7 0M416.4 596.0a1.85 1.85 0 1 0 3.7 0a1.85 1.85 0 1 0 -3.7 0M418.8 597.4a1.85 1.85 0 1 0 3.7 0a1.85 1.85 0 1 0 -3.7 0M420.6 598.5a1.85 1.85 0 1 0 3.7 0a1.85 1.85 0 1 0 -3.7 0M424.0 600.5a1.85 1.85 0 1 0 3.7 0a1.85 1.85 0 1 0 -3.7 0M425.2 601.2a1.85 1.85 0 1 0 3.7 0a1.85 1.85 0 1 0 -3.7 0M431.5 605.0a1.85 1.85 0 1 0 3.7 0a1.85 1.85 0 1 0 -3.7 0M433.3 606.1a1.85 1.85 0 1 0 3.7 0a1.85 1.85 0 1 0 -3.7 0M434.4 606.7a1.85 1.85 0 1 0 3.7 0a1.85 1.85 0 1 0 -3.7 0M436.8 607.9a1.85 1.85 0 1 0 3.7 0a1.85 1.85 0 1 0 -3.7 0M441.3 609.6a1.85 1.85 0 1 0 3.7 0a1.85 1.85 0 1 0 -3.7 0M443.1 610.3a1.85 1.85 0 1 0 3.7 0a1.85 1.85 0 1 0 -3.7 0M444.8 610.9a1.85 1.85 0 1 0 3.7 0a1.85 1.85 0 1 0 -3.7 0M448.3 612.1a1.85 1.85 0 1 0 3.7 0a1.85 1.85 0 1 0 -3.7 0M450.6 612.9a1.85 1.85 0 1 0 3.7 0a1.85 1.85 0 1 0 -3.7 0M452.3 613.5a1.85 1.85 0 1 0 3.7 0a1.85 1.85 0 1 0 -3.7 0M454.0 614.0a1.85 1.85 0 1 0 3.7 0a1.85 1.85 0 1 0 -3.7 0M457.5 614.8a1.85 1.85 0 1 0 3.7 0a1.85 1.85 0 1 0 -3.7 0M459.2 611.7a1.85 1.85 0 1 0 3.7 0a1.85 1.85 0 1 0 -3.7 0M461.5 606.6a1.85 1.85 0 1 0 3.7 0a1.85 1.85 0 1 0 -3.7 0M463.3 604.8a1.85 1.85 0 1 0 3.7 0a1.85 1.85 0 1 0 -3.7 0M465.6 601.3a1.85 1.85 0 1 0 3.7 0a1.85 1.85 0 1 0 -3.7 0M467.3 596.9a1.85 1.85 0 1 0 3.7 0a1.85 1.85 0 1 0 -3.7 0M469.0 589.1a1.85 1.85 0 1 0 3.7 0a1.85 1.85 0 1 0 -3.7 0M471.3 579.5a1.85 1.85 0 1 0 3.7 0a1.85 1.85 0 1 0 -3.7 0M473.1 570.1a1.85 1.85 0 1 0 3.7 0a1.85 1.85 0 1 0 -3.7 0M359.6 562.8a1.85 1.85 0 1 0 3.7 0a1.85 1.85 0 1 0 -3.7 0M364.2 564.8a1.85 1.85 0 1 0 3.7 0a1.85 1.85 0 1 0 -3.7 0M368.8 566.7a1.85 1.85 0 1 0 3.7 0a1.85 1.85 0 1 0 -3.7 0M373.3 569.1a1.85 1.85 0 1 0 3.7 0a1.85 1.85 0 1 0 -3.7 0M377.6 571.6a1.85 1.85 0 1 0 3.7 0a1.85 1.85 0 1 0 -3.7 0M381.8 574.2a1.85 1.85 0 1 0 3.7 0a1.85 1.85 0 1 0 -3.7 0M386.0 576.9a1.85 1.85 0 1 0 3.7 0a1.85 1.85 0 1 0 -3.7 0M390.2 579.7a1.85 1.85 0 1 0 3.7 0a1.85 1.85 0 1 0 -3.7 0M394.3 582.5a1.85 1.85 0 1 0 3.7 0a1.85 1.85 0 1 0 -3.7 0M398.5 585.2a1.85 1.85 0 1 0 3.7 0a1.85 1.85 0 1 0 -3.7 0M402.8 587.8a1.85 1.85 0 1 0 3.7 0a1.85 1.85 0 1 0 -3.7 0M407.1 590.4a1.85 1.85 0 1 0 3.7 0a1.85 1.85 0 1 0 -3.7 0M411.4 592.9a1.85 1.85 0 1 0 3.7 0a1.85 1.85 0 1 0 -3.7 0M415.7 595.5a1.85 1.85 0 1 0 3.7 0a1.85 1.85 0 1 0 -3.7 0M420.0 598.1a1.85 1.85 0 1 0 3.7 0a1.85 1.85 0 1 0 -3.7 0M424.3 600.6a1.85 1.85 0 1 0 3.7 0a1.85 1.85 0 1 0 -3.7 0M428.5 603.2a1.85 1.85 0 1 0 3.7 0a1.85 1.85 0 1 0 -3.7 0M432.8 605.8a1.85 1.85 0 1 0 3.7 0a1.85 1.85 0 1 0 -3.7 0M437.3 608.1a1.85 1.85 0 1 0 3.7 0a1.85 1.85 0 1 0 -3.7 0M441.9 609.8a1.85 1.85 0 1 0 3.7 0a1.85 1.85 0 1 0 -3.7 0M446.6 611.6a1.85 1.85 0 1 0 3.7 0a1.85 1.85 0 1 0 -3.7 0M451.4 613.2a1.85 1.85 0 1 0 3.7 0a1.85 1.85 0 1 0 -3.7 0M456.2 614.5a1.85 1.85 0 1 0 3.7 0a1.85 1.85 0 1 0 -3.7 0M459.1 612.2a1.85 1.85 0 1 0 3.7 0a1.85 1.85 0 1 0 -3.7 0M460.6 607.4a1.85 1.85 0 1 0 3.7 0a1.85 1.85 0 1 0 -3.7 0M464.2 603.9a1.85 1.85 0 1 0 3.7 0a1.85 1.85 0 1 0 -3.7 0M466.5 599.5a1.85 1.85 0 1 0 3.7 0a1.85 1.85 0 1 0 -3.7 0M467.8 594.7a1.85 1.85 0 1 0 3.7 0a1.85 1.85 0 1 0 -3.7 0M468.9 589.8a1.85 1.85 0 1 0 3.7 0a1.85 1.85 0 1 0 -3.7 0M470.0 585.0a1.85 1.85 0 1 0 3.7 0a1.85 1.85 0 1 0 -3.7 0M471.2 580.1a1.85 1.85 0 1 0 3.7 0a1.85 1.85 0 1 0 -3.7 0M472.3 575.2a1.85 1.85 0 1 0 3.7 0a1.85 1.85 0 1 0 -3.7 0M473.1 570.3a1.85 1.85 0 1 0 3.7 0a1.85 1.85 0 1 0 -3.7 0M474.2 565.4a1.85 1.85 0 1 0 3.7 0a1.85 1.85 0 1 0 -3.7 0M458.2 615.0a1.85 1.85 0 1 0 3.7 0a1.85 1.85 0 1 0 -3.7 0M458.5 613.9a1.85 1.85 0 1 0 3.7 0a1.85 1.85 0 1 0 -3.7 0M458.9 612.8a1.85 1.85 0 1 0 3.7 0a1.85 1.85 0 1 0 -3.7 0M459.2 611.8a1.85 1.85 0 1 0 3.7 0a1.85 1.85 0 1 0 -3.7 0M459.6 610.7a1.85 1.85 0 1 0 3.7 0a1.85 1.85 0 1 0 -3.7 0M459.9 609.6a1.85 1.85 0 1 0 3.7 0a1.85 1.85 0 1 0 -3.7 0M460.3 608.5a1.85 1.85 0 1 0 3.7 0a1.85 1.85 0 1 0 -3.7 0M460.6 607.5a1.85 1.85 0 1 0 3.7 0a1.85 1.85 0 1 0 -3.7 0M460.6 607.5a1.85 1.85 0 1 0 3.7 0a1.85 1.85 0 1 0 -3.7 0M461.4 606.7a1.85 1.85 0 1 0 3.7 0a1.85 1.85 0 1 0 -3.7 0M462.1 606.0a1.85 1.85 0 1 0 3.7 0a1.85 1.85 0 1 0 -3.7 0M462.9 605.3a1.85 1.85 0 1 0 3.7 0a1.85 1.85 0 1 0 -3.7 0M463.6 604.5a1.85 1.85 0 1 0 3.7 0a1.85 1.85 0 1 0 -3.7 0M464.4 603.8a1.85 1.85 0 1 0 3.7 0a1.85 1.85 0 1 0 -3.7 0M464.4 603.8a1.85 1.85 0 1 0 3.7 0a1.85 1.85 0 1 0 -3.7 0M464.9 602.8a1.85 1.85 0 1 0 3.7 0a1.85 1.85 0 1 0 -3.7 0M465.4 601.8a1.85 1.85 0 1 0 3.7 0a1.85 1.85 0 1 0 -3.7 0M465.9 600.8a1.85 1.85 0 1 0 3.7 0a1.85 1.85 0 1 0 -3.7 0M466.4 599.8a1.85 1.85 0 1 0 3.7 0a1.85 1.85 0 1 0 -3.7 0M466.9 598.8a1.85 1.85 0 1 0 3.7 0a1.85 1.85 0 1 0 -3.7 0M466.9 598.8a1.85 1.85 0 1 0 3.7 0a1.85 1.85 0 1 0 -3.7 0M467.2 597.7a1.85 1.85 0 1 0 3.7 0a1.85 1.85 0 1 0 -3.7 0M467.4 596.7a1.85 1.85 0 1 0 3.7 0a1.85 1.85 0 1 0 -3.7 0M467.6 595.7a1.85 1.85 0 1 0 3.7 0a1.85 1.85 0 1 0 -3.7 0M467.8 594.7a1.85 1.85 0 1 0 3.7 0a1.85 1.85 0 1 0 -3.7 0M468.1 593.7a1.85 1.85 0 1 0 3.7 0a1.85 1.85 0 1 0 -3.7 0M468.3 592.6a1.85 1.85 0 1 0 3.7 0a1.85 1.85 0 1 0 -3.7 0M468.5 591.6a1.85 1.85 0 1 0 3.7 0a1.85 1.85 0 1 0 -3.7 0M468.7 590.6a1.85 1.85 0 1 0 3.7 0a1.85 1.85 0 1 0 -3.7 0M468.9 589.6a1.85 1.85 0 1 0 3.7 0a1.85 1.85 0 1 0 -3.7 0M469.2 588.5a1.85 1.85 0 1 0 3.7 0a1.85 1.85 0 1 0 -3.7 0M469.4 587.5a1.85 1.85 0 1 0 3.7 0a1.85 1.85 0 1 0 -3.7 0M469.4 587.5a1.85 1.85 0 1 0 3.7 0a1.85 1.85 0 1 0 -3.7 0M469.6 586.5a1.85 1.85 0 1 0 3.7 0a1.85 1.85 0 1 0 -3.7 0M469.9 585.5a1.85 1.85 0 1 0 3.7 0a1.85 1.85 0 1 0 -3.7 0M470.1 584.5a1.85 1.85 0 1 0 3.7 0a1.85 1.85 0 1 0 -3.7 0M470.4 583.5a1.85 1.85 0 1 0 3.7 0a1.85 1.85 0 1 0 -3.7 0M470.6 582.5a1.85 1.85 0 1 0 3.7 0a1.85 1.85 0 1 0 -3.7 0M470.9 581.5a1.85 1.85 0 1 0 3.7 0a1.85 1.85 0 1 0 -3.7 0M471.1 580.5a1.85 1.85 0 1 0 3.7 0a1.85 1.85 0 1 0 -3.7 0M471.4 579.5a1.85 1.85 0 1 0 3.7 0a1.85 1.85 0 1 0 -3.7 0M471.6 578.5a1.85 1.85 0 1 0 3.7 0a1.85 1.85 0 1 0 -3.7 0M471.9 577.5a1.85 1.85 0 1 0 3.7 0a1.85 1.85 0 1 0 -3.7 0M471.9 577.5a1.85 1.85 0 1 0 3.7 0a1.85 1.85 0 1 0 -3.7 0M472.0 576.5a1.85 1.85 0 1 0 3.7 0a1.85 1.85 0 1 0 -3.7 0M472.2 575.5a1.85 1.85 0 1 0 3.7 0a1.85 1.85 0 1 0 -3.7 0M472.4 574.5a1.85 1.85 0 1 0 3.7 0a1.85 1.85 0 1 0 -3.7 0M472.6 573.5a1.85 1.85 0 1 0 3.7 0a1.85 1.85 0 1 0 -3.7 0M472.7 572.5a1.85 1.85 0 1 0 3.7 0a1.85 1.85 0 1 0 -3.7 0M472.9 571.5a1.85 1.85 0 1 0 3.7 0a1.85 1.85 0 1 0 -3.7 0M473.1 570.5a1.85 1.85 0 1 0 3.7 0a1.85 1.85 0 1 0 -3.7 0M473.3 569.5a1.85 1.85 0 1 0 3.7 0a1.85 1.85 0 1 0 -3.7 0M473.4 568.5a1.85 1.85 0 1 0 3.7 0a1.85 1.85 0 1 0 -3.7 0M473.6 567.5a1.85 1.85 0 1 0 3.7 0a1.85 1.85 0 1 0 -3.7 0M473.6 567.5a1.85 1.85 0 1 0 3.7 0a1.85 1.85 0 1 0 -3.7 0M473.9 566.3a1.85 1.85 0 1 0 3.7 0a1.85 1.85 0 1 0 -3.7 0M474.3 565.2a1.85 1.85 0 1 0 3.7 0a1.85 1.85 0 1 0 -3.7 0M474.6 564.0a1.85 1.85 0 1 0 3.7 0a1.85 1.85 0 1 0 -3.7 0M474.9 562.8a1.85 1.85 0 1 0 3.7 0a1.85 1.85 0 1 0 -3.7 0" fill="#33a244"/>
</svg></body></html>
